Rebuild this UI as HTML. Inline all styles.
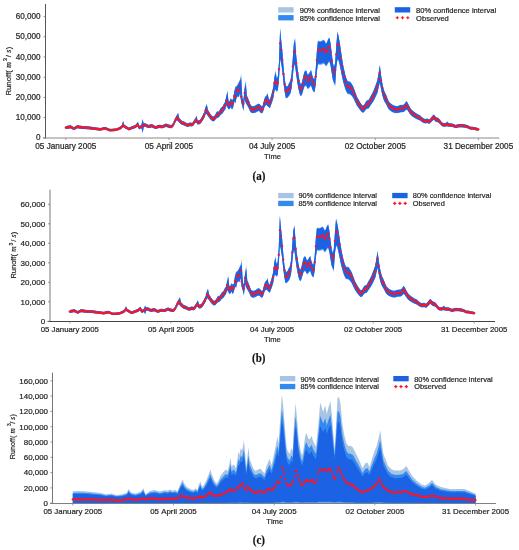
<!DOCTYPE html>
<html><head><meta charset="utf-8"><title>Runoff confidence intervals</title>
<style>
html,body{margin:0;padding:0;background:#fff;width:519px;height:550px;overflow:hidden;}
svg{display:block;filter:blur(0.35px)}
text{font-family:"Liberation Sans",sans-serif;font-variant-ligatures:none;font-kerning:none;stroke:#262626;stroke-width:0.2px;}
</style></head><body>
<svg width="519" height="550" viewBox="0 0 519 550">
<rect width="519" height="550" fill="#fff"/>
<path d="M65.8,126.11 L66.95,125.85 L68.09,125.6 L69.24,125.35 L70.38,125.1 L71.53,125.77 L72.68,126.45 L73.82,127.14 L74.97,126.53 L76.11,125.82 L77.26,125.12 L78.41,125.26 L79.55,125.44 L80.7,125.61 L81.85,125.78 L82.99,125.96 L84.14,126.03 L85.28,126.1 L86.43,126.16 L87.58,126.23 L88.72,126.29 L89.87,126.45 L91.01,126.62 L92.16,126.8 L93.31,126.97 L94.45,127.15 L95.6,127.3 L96.75,127.46 L97.89,127.61 L99.04,127.76 L100.18,127.91 L101.33,127.74 L102.48,127.43 L103.62,127.13 L104.77,126.83 L105.91,127.11 L107.06,127.63 L108.21,128.16 L109.35,128.68 L110.5,128.79 L111.64,128.72 L112.79,128.66 L113.94,128.59 L115.08,128.53 L116.23,128.24 L117.38,127.82 L118.52,127.39 L119.67,126.78 L120.81,126.18 L121.96,124.8 L123.11,120.6 L124.25,124.68 L125.4,125.37 L126.54,126.05 L127.69,126.81 L128.84,127.58 L129.98,127.13 L131.13,126.61 L132.27,126.1 L133.42,125.63 L134.57,125.16 L135.71,124.69 L136.86,123.22 L138,121.4 L139.15,125.77 L140.3,125.44 L141.44,124.7 L142.59,118.3 L143.74,123.57 L144.88,123.1 L146.03,123.51 L147.17,124.14 L148.32,124.77 L149.47,124.6 L150.61,124.28 L151.76,123.95 L152.9,124.45 L154.05,125.17 L155.2,125.89 L156.34,125.73 L157.49,125.25 L158.63,124.77 L159.78,124.76 L160.93,124.91 L162.07,125.05 L163.22,124.68 L164.37,124.11 L165.51,123.53 L166.66,123.63 L167.8,124.07 L168.95,124.52 L170.1,124.8 L171.24,125.01 L172.39,124.04 L173.53,122.25 L174.68,119.29 L175.83,116.77 L176.97,114.85 L178.12,112.2 L179.26,118.01 L180.41,119.22 L181.56,120.43 L182.7,120.93 L183.85,121.41 L185,121.98 L186.14,122.65 L187.29,123.33 L188.43,122.95 L189.58,122.56 L190.73,122.49 L191.87,122.82 L193.02,122.09 L194.16,120.05 L195.31,118.31 L196.46,115.3 L197.6,120.29 L198.75,120.19 L199.89,119.87 L201.04,118.24 L202.19,116.32 L203.33,113.91 L204.48,111.39 L205.63,106.65 L206.77,103.3 L207.92,109.73 L209.06,111.69 L210.21,113.61 L211.36,115.04 L212.5,116.3 L213.65,116.29 L214.79,115.41 L215.94,113.26 L217.09,111 L218.23,111.75 L219.38,110.26 L220.52,108.34 L221.67,107.17 L222.82,106.01 L223.96,103.42 L225.11,101.69 L226.26,96.23 L227.4,89.6 L228.55,101.22 L229.69,100.69 L230.84,98.17 L231.99,99.65 L233.13,98.94 L234.28,91.15 L235.42,85.5 L236.57,86.07 L237.72,84.35 L238.86,81.5 L240.01,79.77 L241.15,73 L242.3,96.94 L243.45,99.9 L244.59,87.83 L245.74,79.5 L246.89,95.36 L248.03,97.88 L249.18,100.78 L250.32,104.38 L251.47,105.68 L252.62,106.06 L253.76,106.06 L254.91,105.56 L256.05,104.92 L257.2,103.97 L258.35,103.44 L259.49,103.86 L260.64,105.12 L261.78,106.38 L262.93,104.83 L264.08,99.65 L265.22,96.52 L266.37,95.62 L267.52,92.5 L268.66,98.38 L269.81,99.77 L270.95,95.91 L272.1,91.71 L273.25,86.96 L274.39,76.98 L275.54,70.1 L276.68,78.03 L277.83,76.31 L278.98,61.62 L280.12,27 L281.27,40.53 L282.41,51.49 L283.56,66.93 L284.71,78.82 L285.85,85.48 L287,86.48 L288.15,85.08 L289.29,82.2 L290.44,80.4 L291.58,73.81 L292.73,58.78 L293.88,42.84 L295.02,37.3 L296.17,54.76 L297.31,65.94 L298.46,74.32 L299.61,80.89 L300.75,84.27 L301.9,82.34 L303.05,77.15 L304.19,72.02 L305.34,70.21 L306.48,70.72 L307.63,74.58 L308.78,73.58 L309.92,71.71 L311.07,69.82 L312.21,74.74 L313.36,77.98 L314.51,78.83 L315.65,69.76 L316.8,51.76 L317.94,40.5 L319.09,40.8 L320.24,40.94 L321.38,40.68 L322.53,40.05 L323.68,39.38 L324.82,40.82 L325.97,43.32 L327.11,41.54 L328.26,38.39 L329.41,37.09 L330.55,42.84 L331.7,52.62 L332.84,62.32 L333.99,66.56 L335.14,62.8 L336.28,45.45 L337.43,30.5 L338.57,35.47 L339.72,41.9 L340.87,49.73 L342.01,57.81 L343.16,64.89 L344.31,70.19 L345.45,75.19 L346.6,78.67 L347.74,81.09 L348.89,81.09 L350.04,81.4 L351.18,82.85 L352.33,84.66 L353.47,86.91 L354.62,90.06 L355.77,93.26 L356.91,96.37 L358.06,98.47 L359.2,100.57 L360.35,102.44 L361.5,104.19 L362.64,105.45 L363.79,105.09 L364.94,103.2 L366.08,101.31 L367.23,100.12 L368.37,100.12 L369.52,98.21 L370.67,95.88 L371.81,93.92 L372.96,91.64 L374.1,89.11 L375.25,85.96 L376.4,82.76 L377.54,79.39 L378.69,72.02 L379.83,64.5 L380.98,74.36 L382.13,81.92 L383.27,87.32 L384.42,91.17 L385.56,93.38 L386.71,96.05 L387.86,99.27 L389,101.45 L390.15,102.71 L391.3,103.81 L392.44,104.61 L393.59,105.17 L394.73,105.63 L395.88,105.9 L397.03,105.97 L398.17,105.7 L399.32,105.29 L400.46,104.85 L401.61,104.85 L402.76,104.73 L403.9,104.33 L405.05,103.11 L406.19,100.8 L407.34,102.07 L408.49,104.4 L409.63,106.58 L410.78,108.57 L411.93,109.83 L413.07,110.89 L414.22,111.76 L415.36,112.62 L416.51,113.44 L417.66,114.07 L418.8,114.69 L419.95,115.28 L421.09,116.31 L422.24,117.46 L423.39,118.19 L424.53,118.8 L425.68,118.86 L426.82,118.56 L427.97,118.71 L429.12,119.51 L430.26,118.53 L431.41,116.96 L432.56,115.57 L433.7,114.31 L434.85,115.72 L435.99,117.04 L437.14,117.4 L438.29,117.82 L439.43,119.08 L440.58,120.54 L441.72,122.2 L442.87,122.75 L444.02,123.11 L445.16,122.99 L446.31,122.64 L447.45,121.3 L448.6,122.98 L449.75,123.25 L450.89,123.33 L452.04,123.41 L453.19,123.71 L454.33,124.24 L455.48,124.77 L456.62,124.58 L457.77,124.21 L458.92,123.88 L460.06,123.88 L461.21,123.88 L462.35,123.93 L463.5,124.1 L464.65,124.26 L465.79,124.55 L466.94,124.91 L468.08,125.28 L469.23,126.03 L470.38,126.63 L471.52,126.63 L472.67,126.65 L473.82,126.95 L474.96,127.26 L476.11,127.5 L477.25,127.73 L478.4,127.96 L478.4,130.7 L477.25,130.52 L476.11,130.33 L474.96,130.13 L473.82,129.89 L472.67,129.65 L471.52,129.63 L470.38,129.63 L469.23,129.15 L468.08,128.54 L466.94,128.25 L465.79,127.95 L464.65,127.72 L463.5,127.59 L462.35,127.46 L461.21,127.42 L460.06,127.42 L458.92,127.42 L457.77,127.69 L456.62,127.98 L455.48,128.13 L454.33,127.71 L453.19,127.29 L452.04,127.04 L450.89,126.98 L449.75,126.91 L448.6,126.7 L447.45,126.41 L446.31,126.42 L445.16,126.71 L444.02,126.8 L442.87,126.52 L441.72,126.07 L440.58,124.75 L439.43,123.58 L438.29,122.58 L437.14,122.25 L435.99,121.97 L434.85,120.92 L433.7,119.8 L432.56,120.8 L431.41,121.9 L430.26,123.14 L429.12,123.93 L427.97,123.29 L426.82,123.17 L425.68,123.41 L424.53,123.36 L423.39,122.88 L422.24,122.3 L421.09,121.39 L419.95,120.57 L418.8,120.1 L417.66,119.61 L416.51,119.11 L415.36,118.47 L414.22,117.79 L413.07,117.11 L411.93,116.28 L410.78,115.29 L409.63,113.73 L408.49,112.04 L407.34,110.22 L406.19,109.74 L405.05,111.03 L403.9,111.98 L402.76,112.29 L401.61,112.39 L400.46,112.39 L399.32,112.73 L398.17,113.04 L397.03,113.25 L395.88,113.2 L394.73,112.99 L393.59,112.63 L392.44,112.19 L391.3,111.57 L390.15,110.72 L389,109.74 L387.86,108.05 L386.71,105.58 L385.56,103.54 L384.42,101.85 L383.27,98.92 L382.13,94.86 L380.98,89.22 L379.83,83.02 L378.69,87.49 L377.54,92.96 L376.4,95.49 L375.25,97.9 L374.1,100.28 L372.96,102.2 L371.81,103.95 L370.67,105.45 L369.52,107.24 L368.37,108.72 L367.23,108.72 L366.08,109.63 L364.94,111.1 L363.79,112.57 L362.64,112.85 L361.5,111.87 L360.35,110.51 L359.2,109.06 L358.06,107.44 L356.91,105.83 L355.77,103.44 L354.62,101 L353.47,98.61 L352.33,96.92 L351.18,95.55 L350.04,94.65 L348.89,94.24 L347.74,94.24 L346.6,92.42 L345.45,89.84 L344.31,86.14 L343.16,82.25 L342.01,77.12 L340.87,71.33 L339.72,65.81 L338.57,61.33 L337.43,60.59 L336.28,68.31 L335.14,87.1 L333.99,83.47 L332.84,80.38 L331.7,73.4 L330.55,66.47 L329.41,62.45 L328.26,63.35 L327.11,65.56 L325.97,66.81 L324.82,65.06 L323.68,64.05 L322.53,64.51 L321.38,64.95 L320.24,65.14 L319.09,65.04 L317.94,64.9 L316.8,72.78 L315.65,85.82 L314.51,92.54 L313.36,91.91 L312.21,89.5 L311.07,85.86 L309.92,87.26 L308.78,88.64 L307.63,89.38 L306.48,86.53 L305.34,86.15 L304.19,87.49 L303.05,91.29 L301.9,95.17 L300.75,96.62 L299.61,94.08 L298.46,89.19 L297.31,83.02 L296.17,74.93 L295.02,65.98 L293.88,66.47 L292.73,77.82 L291.58,88.81 L290.44,93.71 L289.29,95.78 L288.15,97.23 L287,98.29 L285.85,98.6 L284.71,92.54 L283.56,83.75 L282.41,72.59 L281.27,64.85 L280.12,59.87 L278.98,79.87 L277.83,90.66 L276.68,91.95 L275.54,89.98 L274.39,91.16 L273.25,98.65 L272.1,102.26 L270.95,105.47 L269.81,108.44 L268.66,107.37 L267.52,106.27 L266.37,105.25 L265.22,105.94 L264.08,108.35 L262.93,112.37 L261.78,113.57 L260.64,113 L259.49,111.61 L258.35,111.29 L257.2,111.7 L256.05,112.44 L254.91,112.94 L253.76,113.33 L252.62,113.33 L251.47,113.03 L250.32,112.02 L249.18,109.22 L248.03,106.99 L246.89,105.05 L245.74,103.12 L244.59,99.31 L243.45,111.5 L242.3,106.26 L241.15,102.4 L240.01,93.24 L238.86,97.55 L237.72,96.68 L236.57,97.98 L235.42,103.34 L234.28,101.83 L233.13,107.8 L231.99,110 L230.84,107.21 L229.69,109.15 L228.55,109.56 L227.4,107.49 L226.26,105.72 L225.11,109.93 L223.96,111.27 L222.82,113.29 L221.67,114.19 L220.52,115.11 L219.38,116.61 L218.23,117.78 L217.09,118.24 L215.94,118.97 L214.79,120.67 L213.65,121.37 L212.5,121.37 L211.36,120.38 L210.21,119.25 L209.06,117.74 L207.92,116.19 L206.77,114.55 L205.63,113.78 L204.48,117.5 L203.33,119.49 L202.19,121.39 L201.04,122.92 L199.89,124.21 L198.75,124.47 L197.6,124.55 L196.46,122.84 L195.31,122.97 L194.16,124.36 L193.02,125.98 L191.87,126.57 L190.73,126.31 L189.58,126.36 L188.43,126.67 L187.29,126.98 L186.14,126.44 L185,125.9 L183.85,125.44 L182.7,125.06 L181.56,124.66 L180.41,123.7 L179.26,122.74 L178.12,121.49 L176.97,120.23 L175.83,121.75 L174.68,123.75 L173.53,126.12 L172.39,127.55 L171.24,128.33 L170.1,128.16 L168.95,127.93 L167.8,127.57 L166.66,127.22 L165.51,127.14 L164.37,127.6 L163.22,128.06 L162.07,128.36 L160.93,128.25 L159.78,128.13 L158.63,128.13 L157.49,128.52 L156.34,128.9 L155.2,129.04 L154.05,128.46 L152.9,127.88 L151.76,127.48 L150.61,127.74 L149.47,128 L148.32,128.14 L147.17,127.63 L146.03,127.13 L144.88,126.79 L143.74,127.17 L142.59,134.1 L141.44,128.08 L140.3,128.67 L139.15,129.5 L138,127.03 L136.86,126.89 L135.71,128.07 L134.57,128.45 L133.42,128.82 L132.27,129.2 L131.13,129.62 L129.98,130.04 L128.84,130.4 L127.69,129.78 L126.54,129.16 L125.4,128.61 L124.25,128.07 L123.11,126.93 L121.96,128.16 L120.81,129.26 L119.67,129.75 L118.52,130.24 L117.38,130.59 L116.23,130.92 L115.08,131.16 L113.94,131.21 L112.79,131.26 L111.64,131.32 L110.5,131.37 L109.35,131.28 L108.21,130.86 L107.06,130.44 L105.91,130.02 L104.77,129.79 L103.62,130.03 L102.48,130.28 L101.33,130.52 L100.18,130.66 L99.04,130.54 L97.89,130.42 L96.75,130.29 L95.6,130.17 L94.45,130.05 L93.31,129.91 L92.16,129.77 L91.01,129.63 L89.87,129.49 L88.72,129.36 L87.58,129.31 L86.43,129.25 L85.28,129.2 L84.14,129.15 L82.99,129.09 L81.85,128.95 L80.7,128.81 L79.55,128.67 L78.41,128.53 L77.26,128.41 L76.11,128.98 L74.97,129.55 L73.82,130.04 L72.68,129.49 L71.53,128.94 L70.38,128.4 L69.24,128.6 L68.09,128.8 L66.95,129 L65.8,129.21Z" fill="#a8c4e4"/>
<path d="M65.8,126.2 L66.95,125.95 L68.09,125.7 L69.24,125.45 L70.38,125.2 L71.53,125.87 L72.68,126.55 L73.82,127.23 L74.97,126.62 L76.11,125.92 L77.26,125.22 L78.41,125.36 L79.55,125.54 L80.7,125.71 L81.85,125.88 L82.99,126.06 L84.14,126.13 L85.28,126.2 L86.43,126.26 L87.58,126.32 L88.72,126.39 L89.87,126.55 L91.01,126.72 L92.16,126.89 L93.31,127.06 L94.45,127.24 L95.6,127.39 L96.75,127.54 L97.89,127.7 L99.04,127.85 L100.18,128 L101.33,127.82 L102.48,127.52 L103.62,127.22 L104.77,126.92 L105.91,127.21 L107.06,127.72 L108.21,128.24 L109.35,128.76 L110.5,128.87 L111.64,128.81 L112.79,128.74 L113.94,128.68 L115.08,128.61 L116.23,128.32 L117.38,127.9 L118.52,127.48 L119.67,126.88 L120.81,126.27 L121.96,124.9 L123.11,121.11 L124.25,124.79 L125.4,125.47 L126.54,126.15 L127.69,126.91 L128.84,127.67 L129.98,127.23 L131.13,126.71 L132.27,126.19 L133.42,125.73 L134.57,125.26 L135.71,124.79 L136.86,123.33 L138,121.81 L139.15,125.87 L140.3,125.54 L141.44,124.81 L142.59,119.27 L143.74,123.68 L144.88,123.21 L146.03,123.63 L147.17,124.25 L148.32,124.88 L149.47,124.71 L150.61,124.38 L151.76,124.06 L152.9,124.56 L154.05,125.27 L155.2,125.99 L156.34,125.83 L157.49,125.35 L158.63,124.87 L159.78,124.87 L160.93,125.01 L162.07,125.16 L163.22,124.79 L164.37,124.21 L165.51,123.64 L166.66,123.74 L167.8,124.18 L168.95,124.62 L170.1,124.9 L171.24,125.11 L172.39,124.15 L173.53,122.37 L174.68,119.42 L175.83,116.92 L176.97,115.01 L178.12,112.99 L179.26,118.15 L180.41,119.36 L181.56,120.56 L182.7,121.06 L183.85,121.54 L185,122.1 L186.14,122.77 L187.29,123.44 L188.43,123.06 L189.58,122.67 L190.73,122.61 L191.87,122.94 L193.02,122.2 L194.16,120.18 L195.31,118.45 L196.46,115.87 L197.6,120.42 L198.75,120.31 L199.89,120 L201.04,118.38 L202.19,116.47 L203.33,114.07 L204.48,111.57 L205.63,106.85 L206.77,104.15 L207.92,109.91 L209.06,111.87 L210.21,113.77 L211.36,115.19 L212.5,116.45 L213.65,116.45 L214.79,115.57 L215.94,113.43 L217.09,111.37 L218.23,111.92 L219.38,110.44 L220.52,108.54 L221.67,107.37 L222.82,106.22 L223.96,103.64 L225.11,101.92 L226.26,96.49 L227.4,91.19 L228.55,101.45 L229.69,100.92 L230.84,98.42 L231.99,99.9 L233.13,99.18 L234.28,91.44 L235.42,86.92 L236.57,86.39 L237.72,84.67 L238.86,82.42 L240.01,80.12 L241.15,76.12 L242.3,97.19 L243.45,100.14 L244.59,88.13 L245.74,81.78 L246.89,95.63 L248.03,98.13 L249.18,101.01 L250.32,104.6 L251.47,105.88 L252.62,106.27 L253.76,106.27 L254.91,105.77 L256.05,105.13 L257.2,104.19 L258.35,103.66 L259.49,104.08 L260.64,105.33 L261.78,106.58 L262.93,105.05 L264.08,99.89 L265.22,96.78 L266.37,95.88 L267.52,93.42 L268.66,98.63 L269.81,100.01 L270.95,96.17 L272.1,91.99 L273.25,87.27 L274.39,77.35 L275.54,71.27 L276.68,78.39 L277.83,76.67 L278.98,62.06 L280.12,28.56 L281.27,41.09 L282.41,51.99 L283.56,67.35 L284.71,79.18 L285.85,85.8 L287,86.8 L288.15,85.4 L289.29,82.67 L290.44,80.74 L291.58,74.19 L292.73,59.24 L293.88,43.39 L295.02,38.58 L296.17,55.24 L297.31,66.37 L298.46,74.7 L299.61,81.23 L300.75,84.6 L301.9,82.67 L303.05,77.51 L304.19,72.42 L305.34,70.61 L306.48,71.12 L307.63,74.96 L308.78,73.96 L309.92,72.1 L311.07,70.22 L312.21,75.12 L313.36,78.34 L314.51,79.18 L315.65,70.17 L316.8,52.26 L317.94,41.08 L319.09,41.36 L320.24,41.51 L321.38,41.24 L322.53,40.61 L323.68,39.95 L324.82,41.39 L325.97,43.87 L327.11,42.1 L328.26,38.96 L329.41,37.67 L330.55,43.39 L331.7,53.12 L332.84,62.76 L333.99,66.98 L335.14,63.25 L336.28,45.99 L337.43,31.68 L338.57,36.06 L339.72,42.46 L340.87,50.24 L342.01,58.28 L343.16,65.32 L344.31,70.59 L345.45,75.57 L346.6,79.02 L347.74,81.44 L348.89,81.44 L350.04,81.78 L351.18,83.18 L352.33,84.98 L353.47,87.22 L354.62,90.35 L355.77,93.53 L356.91,96.63 L358.06,98.72 L359.2,100.81 L360.35,102.67 L361.5,104.41 L362.64,105.66 L363.79,105.3 L364.94,103.42 L366.08,101.54 L367.23,100.36 L368.37,100.36 L369.52,98.46 L370.67,96.14 L371.81,94.19 L372.96,91.92 L374.1,89.41 L375.25,86.28 L376.4,83.09 L377.54,79.74 L378.69,72.41 L379.83,65.14 L380.98,74.74 L382.13,82.26 L383.27,87.63 L384.42,91.45 L385.56,93.66 L386.71,96.31 L387.86,99.51 L389,101.68 L390.15,102.93 L391.3,104.03 L392.44,104.82 L393.59,105.38 L394.73,105.84 L395.88,106.1 L397.03,106.17 L398.17,105.91 L399.32,105.5 L400.46,105.07 L401.61,105.07 L402.76,104.94 L403.9,104.55 L405.05,103.33 L406.19,101.13 L407.34,102.3 L408.49,104.62 L409.63,106.79 L410.78,108.76 L411.93,110.02 L413.07,111.07 L414.22,111.93 L415.36,112.79 L416.51,113.61 L417.66,114.23 L418.8,114.84 L419.95,115.44 L421.09,116.46 L422.24,117.61 L423.39,118.33 L424.53,118.93 L425.68,119 L426.82,118.7 L427.97,118.85 L429.12,119.64 L430.26,118.66 L431.41,117.11 L432.56,115.73 L433.7,114.47 L434.85,115.87 L435.99,117.19 L437.14,117.54 L438.29,117.96 L439.43,119.21 L440.58,120.67 L441.72,122.32 L442.87,122.87 L444.02,123.22 L445.16,123.1 L446.31,122.75 L447.45,121.61 L448.6,123.09 L449.75,123.36 L450.89,123.44 L452.04,123.52 L453.19,123.82 L454.33,124.35 L455.48,124.88 L456.62,124.68 L457.77,124.32 L458.92,123.99 L460.06,123.99 L461.21,123.99 L462.35,124.04 L463.5,124.2 L464.65,124.37 L465.79,124.65 L466.94,125.01 L468.08,125.38 L469.23,126.13 L470.38,126.73 L471.52,126.73 L472.67,126.75 L473.82,127.05 L474.96,127.35 L476.11,127.59 L477.25,127.82 L478.4,128.05 L478.4,130.63 L477.25,130.44 L476.11,130.25 L474.96,130.05 L473.82,129.81 L472.67,129.56 L471.52,129.55 L470.38,129.55 L469.23,129.06 L468.08,128.45 L466.94,128.15 L465.79,127.85 L464.65,127.62 L463.5,127.49 L462.35,127.36 L461.21,127.32 L460.06,127.32 L458.92,127.32 L457.77,127.59 L456.62,127.88 L455.48,128.04 L454.33,127.61 L453.19,127.18 L452.04,126.93 L450.89,126.87 L449.75,126.81 L448.6,126.59 L447.45,126.3 L446.31,126.31 L445.16,126.6 L444.02,126.69 L442.87,126.41 L441.72,125.96 L440.58,124.62 L439.43,123.45 L438.29,122.44 L437.14,122.1 L435.99,121.82 L434.85,120.76 L433.7,119.64 L432.56,120.64 L431.41,121.75 L430.26,123.01 L429.12,123.79 L427.97,123.15 L426.82,123.03 L425.68,123.28 L424.53,123.22 L423.39,122.74 L422.24,122.15 L421.09,121.23 L419.95,120.41 L418.8,119.93 L417.66,119.44 L416.51,118.94 L415.36,118.29 L414.22,117.6 L413.07,116.92 L411.93,116.08 L410.78,115.08 L409.63,113.51 L408.49,111.79 L407.34,109.96 L406.19,109.48 L405.05,110.78 L403.9,111.74 L402.76,112.05 L401.61,112.15 L400.46,112.15 L399.32,112.49 L398.17,112.81 L397.03,113.02 L395.88,112.97 L394.73,112.76 L393.59,112.4 L392.44,111.95 L391.3,111.33 L390.15,110.46 L389,109.47 L387.86,107.77 L386.71,105.27 L385.56,103.2 L384.42,101.49 L383.27,98.54 L382.13,94.42 L380.98,88.71 L379.83,82.42 L378.69,86.95 L377.54,92.5 L376.4,95.06 L375.25,97.5 L374.1,99.91 L372.96,101.85 L371.81,103.62 L370.67,105.14 L369.52,106.95 L368.37,108.44 L367.23,108.44 L366.08,109.37 L364.94,110.85 L363.79,112.33 L362.64,112.62 L361.5,111.63 L360.35,110.25 L359.2,108.79 L358.06,107.15 L356.91,105.52 L355.77,103.11 L354.62,100.64 L353.47,98.22 L352.33,96.5 L351.18,95.12 L350.04,94.21 L348.89,93.79 L347.74,93.79 L346.6,91.95 L345.45,89.33 L344.31,85.58 L343.16,81.64 L342.01,76.43 L340.87,70.55 L339.72,64.93 L338.57,60.37 L337.43,59.62 L336.28,67.47 L335.14,85.51 L333.99,82.88 L332.84,79.74 L331.7,72.65 L330.55,65.6 L329.41,61.51 L328.26,62.43 L327.11,64.68 L325.97,65.95 L324.82,64.16 L323.68,63.14 L322.53,63.61 L321.38,64.06 L320.24,64.25 L319.09,64.15 L317.94,64.01 L316.8,72.02 L315.65,85.26 L314.51,92.07 L313.36,91.43 L312.21,88.99 L311.07,85.3 L309.92,86.72 L308.78,88.12 L307.63,88.87 L306.48,85.98 L305.34,85.6 L304.19,86.95 L303.05,90.8 L301.9,94.73 L300.75,96.21 L299.61,93.64 L298.46,88.68 L297.31,82.42 L296.17,74.2 L295.02,65.1 L293.88,65.6 L292.73,77.14 L291.58,88.29 L290.44,93.26 L289.29,95.35 L288.15,96.82 L287,97.9 L285.85,98.04 L284.71,92.07 L283.56,83.16 L282.41,71.83 L281.27,63.95 L280.12,58.88 L278.98,79.23 L277.83,90.17 L276.68,91.47 L275.54,89.48 L274.39,90.68 L273.25,98.26 L272.1,101.91 L270.95,105.16 L269.81,108.16 L268.66,107.08 L267.52,105.97 L266.37,104.93 L265.22,105.64 L264.08,108.07 L262.93,112.13 L261.78,113.35 L260.64,112.7 L259.49,111.37 L258.35,111.04 L257.2,111.45 L256.05,112.2 L254.91,112.71 L253.76,113.1 L252.62,113.1 L251.47,112.79 L250.32,111.78 L249.18,108.95 L248.03,106.69 L246.89,104.74 L245.74,102.78 L244.59,98.92 L243.45,110.78 L242.3,105.96 L241.15,102.05 L240.01,92.78 L238.86,97.15 L237.72,96.27 L236.57,97.58 L235.42,103 L234.28,101.48 L233.13,107.52 L231.99,109.47 L230.84,106.91 L229.69,108.88 L228.55,109.3 L227.4,107.2 L226.26,105.41 L225.11,109.67 L223.96,111.02 L222.82,113.06 L221.67,113.97 L220.52,114.9 L219.38,116.41 L218.23,117.6 L217.09,118.06 L215.94,118.8 L214.79,120.51 L213.65,121.22 L212.5,121.22 L211.36,120.21 L210.21,119.07 L209.06,117.55 L207.92,115.99 L206.77,114.33 L205.63,113.56 L204.48,117.31 L203.33,119.32 L202.19,121.24 L201.04,122.77 L199.89,124.08 L198.75,124.34 L197.6,124.42 L196.46,122.7 L195.31,122.83 L194.16,124.23 L193.02,125.87 L191.87,126.46 L190.73,126.2 L189.58,126.25 L188.43,126.56 L187.29,126.87 L186.14,126.32 L185,125.78 L183.85,125.33 L182.7,124.94 L181.56,124.53 L180.41,123.56 L179.26,122.59 L178.12,121.34 L176.97,120.07 L175.83,121.6 L174.68,123.62 L173.53,126 L172.39,127.45 L171.24,128.23 L170.1,128.06 L168.95,127.83 L167.8,127.47 L166.66,127.11 L165.51,127.03 L164.37,127.5 L163.22,127.96 L162.07,128.26 L160.93,128.15 L159.78,128.03 L158.63,128.03 L157.49,128.42 L156.34,128.81 L155.2,128.95 L154.05,128.36 L152.9,127.78 L151.76,127.37 L150.61,127.64 L149.47,127.9 L148.32,128.04 L147.17,127.53 L146.03,127.02 L144.88,126.68 L143.74,127.07 L142.59,133.02 L141.44,127.98 L140.3,128.58 L139.15,129.32 L138,126.92 L136.86,126.78 L135.71,127.97 L134.57,128.35 L133.42,128.73 L132.27,129.11 L131.13,129.53 L129.98,129.95 L128.84,130.32 L127.69,129.69 L126.54,129.07 L125.4,128.52 L124.25,127.97 L123.11,126.82 L121.96,128.06 L120.81,129.17 L119.67,129.67 L118.52,130.16 L117.38,130.51 L116.23,130.85 L115.08,131.09 L113.94,131.14 L112.79,131.19 L111.64,131.24 L110.5,131.3 L109.35,131.21 L108.21,130.78 L107.06,130.36 L105.91,129.94 L104.77,129.71 L103.62,129.95 L102.48,130.2 L101.33,130.44 L100.18,130.58 L99.04,130.46 L97.89,130.34 L96.75,130.21 L95.6,130.09 L94.45,129.96 L93.31,129.82 L92.16,129.68 L91.01,129.54 L89.87,129.4 L88.72,129.27 L87.58,129.22 L86.43,129.16 L85.28,129.11 L84.14,129.06 L82.99,129 L81.85,128.86 L80.7,128.72 L79.55,128.58 L78.41,128.43 L77.26,128.32 L76.11,128.89 L74.97,129.46 L73.82,129.96 L72.68,129.4 L71.53,128.85 L70.38,128.3 L69.24,128.51 L68.09,128.71 L66.95,128.91 L65.8,129.12Z" fill="#3289f0"/>
<path d="M65.8,126.3 L66.95,126.05 L68.09,125.8 L69.24,125.55 L70.38,125.3 L71.53,125.97 L72.68,126.64 L73.82,127.32 L74.97,126.72 L76.11,126.02 L77.26,125.32 L78.41,125.46 L79.55,125.64 L80.7,125.81 L81.85,125.98 L82.99,126.15 L84.14,126.23 L85.28,126.29 L86.43,126.36 L87.58,126.42 L88.72,126.49 L89.87,126.64 L91.01,126.81 L92.16,126.98 L93.31,127.16 L94.45,127.33 L95.6,127.48 L96.75,127.63 L97.89,127.78 L99.04,127.94 L100.18,128.09 L101.33,127.91 L102.48,127.61 L103.62,127.32 L104.77,127.02 L105.91,127.3 L107.06,127.81 L108.21,128.33 L109.35,128.84 L110.5,128.95 L111.64,128.89 L112.79,128.82 L113.94,128.76 L115.08,128.69 L116.23,128.41 L117.38,127.99 L118.52,127.57 L119.67,126.97 L120.81,126.37 L121.96,125.01 L123.11,121.62 L124.25,124.89 L125.4,125.57 L126.54,126.24 L127.69,127 L128.84,127.76 L129.98,127.32 L131.13,126.8 L132.27,126.29 L133.42,125.83 L134.57,125.36 L135.71,124.9 L136.86,123.44 L138,122.22 L139.15,125.97 L140.3,125.64 L141.44,124.91 L142.59,120.24 L143.74,123.79 L144.88,123.32 L146.03,123.74 L147.17,124.36 L148.32,124.98 L149.47,124.81 L150.61,124.49 L151.76,124.17 L152.9,124.66 L154.05,125.38 L155.2,126.09 L156.34,125.93 L157.49,125.45 L158.63,124.97 L159.78,124.97 L160.93,125.12 L162.07,125.26 L163.22,124.89 L164.37,124.32 L165.51,123.75 L166.66,123.85 L167.8,124.29 L168.95,124.73 L170.1,125.01 L171.24,125.22 L172.39,124.26 L173.53,122.49 L174.68,119.56 L175.83,117.06 L176.97,115.17 L178.12,113.77 L179.26,118.29 L180.41,119.49 L181.56,120.68 L182.7,121.18 L183.85,121.66 L185,122.21 L186.14,122.88 L187.29,123.55 L188.43,123.18 L189.58,122.79 L190.73,122.73 L191.87,123.05 L193.02,122.32 L194.16,120.31 L195.31,118.59 L196.46,116.43 L197.6,120.55 L198.75,120.44 L199.89,120.13 L201.04,118.52 L202.19,116.62 L203.33,114.24 L204.48,111.74 L205.63,107.05 L206.77,104.99 L207.92,110.1 L209.06,112.04 L210.21,113.94 L211.36,115.35 L212.5,116.6 L213.65,116.6 L214.79,115.72 L215.94,113.59 L217.09,111.74 L218.23,112.1 L219.38,110.63 L220.52,108.73 L221.67,107.57 L222.82,106.42 L223.96,103.86 L225.11,102.15 L226.26,96.75 L227.4,92.78 L228.55,101.68 L229.69,101.16 L230.84,98.66 L231.99,100.14 L233.13,99.43 L234.28,91.72 L235.42,88.34 L236.57,86.7 L237.72,85 L238.86,83.34 L240.01,80.47 L241.15,79.24 L242.3,97.45 L243.45,100.38 L244.59,88.44 L245.74,84.06 L246.89,95.89 L248.03,98.39 L249.18,101.25 L250.32,104.81 L251.47,106.09 L252.62,106.48 L253.76,106.48 L254.91,105.98 L256.05,105.34 L257.2,104.41 L258.35,103.88 L259.49,104.3 L260.64,105.54 L261.78,106.79 L262.93,105.26 L264.08,100.13 L265.22,97.04 L266.37,96.14 L267.52,94.35 L268.66,98.87 L269.81,100.25 L270.95,96.43 L272.1,92.27 L273.25,87.58 L274.39,77.71 L275.54,72.43 L276.68,78.75 L277.83,77.04 L278.98,62.51 L280.12,30.11 L281.27,41.66 L282.41,52.49 L283.56,67.77 L284.71,79.53 L285.85,86.12 L287,87.11 L288.15,85.72 L289.29,83.15 L290.44,81.09 L291.58,74.57 L292.73,59.7 L293.88,43.94 L295.02,39.86 L296.17,55.73 L297.31,66.79 L298.46,75.08 L299.61,81.58 L300.75,84.92 L301.9,83.01 L303.05,77.87 L304.19,72.81 L305.34,71.01 L306.48,71.52 L307.63,75.34 L308.78,74.34 L309.92,72.5 L311.07,70.62 L312.21,75.5 L313.36,78.7 L314.51,79.53 L315.65,70.57 L316.8,52.76 L317.94,41.66 L319.09,41.93 L320.24,42.07 L321.38,41.8 L322.53,41.18 L323.68,40.52 L324.82,41.95 L325.97,44.42 L327.11,42.66 L328.26,39.54 L329.41,38.25 L330.55,43.94 L331.7,53.61 L332.84,63.21 L333.99,67.4 L335.14,63.69 L336.28,46.52 L337.43,32.87 L338.57,36.66 L339.72,43.01 L340.87,50.75 L342.01,58.75 L343.16,65.75 L344.31,71 L345.45,75.94 L346.6,79.38 L347.74,81.78 L348.89,81.78 L350.04,82.15 L351.18,83.51 L352.33,85.31 L353.47,87.53 L354.62,90.65 L355.77,93.81 L356.91,96.89 L358.06,98.97 L359.2,101.04 L360.35,102.9 L361.5,104.62 L362.64,105.87 L363.79,105.52 L364.94,103.64 L366.08,101.77 L367.23,100.6 L368.37,100.6 L369.52,98.71 L370.67,96.4 L371.81,94.46 L372.96,92.21 L374.1,89.71 L375.25,86.59 L376.4,83.43 L377.54,80.1 L378.69,72.81 L379.83,65.78 L380.98,75.12 L382.13,82.6 L383.27,87.93 L384.42,91.74 L385.56,93.93 L386.71,96.57 L387.86,99.75 L389,101.91 L390.15,103.16 L391.3,104.25 L392.44,105.03 L393.59,105.6 L394.73,106.05 L395.88,106.31 L397.03,106.38 L398.17,106.12 L399.32,105.71 L400.46,105.28 L401.61,105.28 L402.76,105.16 L403.9,104.76 L405.05,103.55 L406.19,101.46 L407.34,102.53 L408.49,104.83 L409.63,106.99 L410.78,108.96 L411.93,110.2 L413.07,111.25 L414.22,112.11 L415.36,112.96 L416.51,113.77 L417.66,114.39 L418.8,115 L419.95,115.59 L421.09,116.61 L422.24,117.75 L423.39,118.47 L424.53,119.07 L425.68,119.14 L426.82,118.84 L427.97,118.99 L429.12,119.77 L430.26,118.8 L431.41,117.26 L432.56,115.88 L433.7,114.63 L434.85,116.03 L435.99,117.34 L437.14,117.69 L438.29,118.1 L439.43,119.35 L440.58,120.8 L441.72,122.44 L442.87,122.98 L444.02,123.33 L445.16,123.22 L446.31,122.87 L447.45,121.93 L448.6,123.21 L449.75,123.47 L450.89,123.55 L452.04,123.63 L453.19,123.93 L454.33,124.46 L455.48,124.98 L456.62,124.79 L457.77,124.43 L458.92,124.1 L460.06,124.1 L461.21,124.1 L462.35,124.15 L463.5,124.31 L464.65,124.47 L465.79,124.76 L466.94,125.12 L468.08,125.48 L469.23,126.22 L470.38,126.82 L471.52,126.82 L472.67,126.84 L473.82,127.14 L474.96,127.44 L476.11,127.68 L477.25,127.91 L478.4,128.14 L478.4,130.55 L477.25,130.36 L476.11,130.17 L474.96,129.97 L473.82,129.72 L472.67,129.48 L471.52,129.46 L470.38,129.46 L469.23,128.97 L468.08,128.35 L466.94,128.05 L465.79,127.75 L464.65,127.52 L463.5,127.39 L462.35,127.26 L461.21,127.22 L460.06,127.22 L458.92,127.22 L457.77,127.48 L456.62,127.78 L455.48,127.94 L454.33,127.51 L453.19,127.08 L452.04,126.83 L450.89,126.76 L449.75,126.7 L448.6,126.48 L447.45,126.19 L446.31,126.2 L445.16,126.49 L444.02,126.58 L442.87,126.3 L441.72,125.85 L440.58,124.5 L439.43,123.31 L438.29,122.29 L437.14,121.95 L435.99,121.67 L434.85,120.6 L433.7,119.47 L432.56,120.48 L431.41,121.6 L430.26,122.87 L429.12,123.66 L427.97,123.02 L426.82,122.9 L425.68,123.14 L424.53,123.09 L423.39,122.6 L422.24,122.01 L421.09,121.08 L419.95,120.25 L418.8,119.77 L417.66,119.27 L416.51,118.77 L415.36,118.11 L414.22,117.42 L413.07,116.72 L411.93,115.87 L410.78,114.87 L409.63,113.28 L408.49,111.55 L407.34,109.7 L406.19,109.21 L405.05,110.52 L403.9,111.49 L402.76,111.81 L401.61,111.91 L400.46,111.91 L399.32,112.26 L398.17,112.58 L397.03,112.79 L395.88,112.74 L394.73,112.53 L393.59,112.16 L392.44,111.71 L391.3,111.08 L390.15,110.21 L389,109.21 L387.86,107.49 L386.71,104.96 L385.56,102.87 L384.42,101.14 L383.27,98.15 L382.13,93.98 L380.98,88.2 L379.83,81.82 L378.69,86.42 L377.54,92.04 L376.4,94.63 L375.25,97.1 L374.1,99.54 L372.96,101.51 L371.81,103.29 L370.67,104.82 L369.52,106.65 L368.37,108.16 L367.23,108.16 L366.08,109.1 L364.94,110.6 L363.79,112.1 L362.64,112.38 L361.5,111.38 L360.35,110 L359.2,108.52 L358.06,106.86 L356.91,105.21 L355.77,102.77 L354.62,100.28 L353.47,97.83 L352.33,96.09 L351.18,94.69 L350.04,93.77 L348.89,93.34 L347.74,93.34 L346.6,91.48 L345.45,88.83 L344.31,85.03 L343.16,81.03 L342.01,75.74 L340.87,69.77 L339.72,64.05 L338.57,59.41 L337.43,58.64 L336.28,66.64 L335.14,83.92 L333.99,82.29 L332.84,79.1 L331.7,71.9 L330.55,64.74 L329.41,60.57 L328.26,61.51 L327.11,63.79 L325.97,65.09 L324.82,63.27 L323.68,62.23 L322.53,62.71 L321.38,63.17 L320.24,63.36 L319.09,63.26 L317.94,63.11 L316.8,71.26 L315.65,84.71 L314.51,91.6 L313.36,90.96 L312.21,88.48 L311.07,84.75 L309.92,86.18 L308.78,87.6 L307.63,88.36 L306.48,85.43 L305.34,85.04 L304.19,86.42 L303.05,90.32 L301.9,94.3 L300.75,95.79 L299.61,93.19 L298.46,88.16 L297.31,81.82 L296.17,73.48 L295.02,64.23 L293.88,64.74 L292.73,76.46 L291.58,87.77 L290.44,92.81 L289.29,94.93 L288.15,96.42 L287,97.5 L285.85,97.47 L284.71,91.6 L283.56,82.57 L282.41,71.06 L281.27,63.06 L280.12,57.89 L278.98,78.58 L277.83,89.68 L276.68,91 L275.54,88.98 L274.39,90.19 L273.25,97.87 L272.1,101.56 L270.95,104.85 L269.81,107.88 L268.66,106.79 L267.52,105.67 L266.37,104.62 L265.22,105.33 L264.08,107.79 L262.93,111.89 L261.78,113.12 L260.64,112.4 L259.49,111.12 L258.35,110.79 L257.2,111.21 L256.05,111.96 L254.91,112.47 L253.76,112.87 L252.62,112.87 L251.47,112.56 L250.32,111.53 L249.18,108.68 L248.03,106.4 L246.89,104.42 L245.74,102.45 L244.59,98.54 L243.45,110.06 L242.3,105.66 L241.15,101.71 L240.01,92.32 L238.86,96.74 L237.72,95.85 L236.57,97.18 L235.42,102.67 L234.28,101.12 L233.13,107.23 L231.99,108.94 L230.84,106.62 L229.69,108.61 L228.55,109.03 L227.4,106.91 L226.26,105.1 L225.11,109.4 L223.96,110.77 L222.82,112.83 L221.67,113.75 L220.52,114.68 L219.38,116.22 L218.23,117.41 L217.09,117.87 L215.94,118.62 L214.79,120.35 L213.65,121.06 L212.5,121.07 L211.36,120.05 L210.21,118.9 L209.06,117.36 L207.92,115.79 L206.77,114.11 L205.63,113.33 L204.48,117.12 L203.33,119.14 L202.19,121.08 L201.04,122.63 L199.89,123.95 L198.75,124.21 L197.6,124.3 L196.46,122.55 L195.31,122.69 L194.16,124.1 L193.02,125.75 L191.87,126.35 L190.73,126.09 L189.58,126.13 L188.43,126.45 L187.29,126.76 L186.14,126.21 L185,125.66 L183.85,125.21 L182.7,124.82 L181.56,124.41 L180.41,123.43 L179.26,122.45 L178.12,121.18 L176.97,119.9 L175.83,121.45 L174.68,123.48 L173.53,125.89 L172.39,127.35 L171.24,128.13 L170.1,127.96 L168.95,127.73 L167.8,127.37 L166.66,127.01 L165.51,126.93 L164.37,127.4 L163.22,127.87 L162.07,128.17 L160.93,128.05 L159.78,127.93 L158.63,127.93 L157.49,128.33 L156.34,128.72 L155.2,128.86 L154.05,128.27 L152.9,127.68 L151.76,127.27 L150.61,127.54 L149.47,127.8 L148.32,127.94 L147.17,127.43 L146.03,126.91 L144.88,126.57 L143.74,126.96 L142.59,131.93 L141.44,127.88 L140.3,128.49 L139.15,129.15 L138,126.82 L136.86,126.67 L135.71,127.87 L134.57,128.25 L133.42,128.64 L132.27,129.02 L131.13,129.44 L129.98,129.87 L128.84,130.24 L127.69,129.61 L126.54,128.98 L125.4,128.43 L124.25,127.87 L123.11,126.71 L121.96,127.96 L120.81,129.09 L119.67,129.58 L118.52,130.08 L117.38,130.43 L116.23,130.77 L115.08,131.01 L113.94,131.06 L112.79,131.12 L111.64,131.17 L110.5,131.22 L109.35,131.13 L108.21,130.71 L107.06,130.28 L105.91,129.85 L104.77,129.62 L103.62,129.87 L102.48,130.12 L101.33,130.36 L100.18,130.51 L99.04,130.38 L97.89,130.26 L96.75,130.13 L95.6,130.01 L94.45,129.88 L93.31,129.74 L92.16,129.6 L91.01,129.45 L89.87,129.31 L88.72,129.18 L87.58,129.13 L86.43,129.08 L85.28,129.02 L84.14,128.97 L82.99,128.91 L81.85,128.77 L80.7,128.62 L79.55,128.48 L78.41,128.34 L77.26,128.22 L76.11,128.8 L74.97,129.37 L73.82,129.87 L72.68,129.31 L71.53,128.75 L70.38,128.21 L69.24,128.41 L68.09,128.62 L66.95,128.82 L65.8,129.03Z" fill="#1b62e4"/>
<path d="M64.65 127.72h2.3M65.8 126.57v2.3M65.8 127.49h2.3M66.95 126.34v2.3M66.94 127.26h2.3M68.09 126.11v2.3M68.09 127.03h2.3M69.24 125.88v2.3M69.23 126.8h2.3M70.38 125.65v2.3M70.38 127.41h2.3M71.53 126.26v2.3M71.53 128.04h2.3M72.68 126.89v2.3M72.67 128.66h2.3M73.82 127.51v2.3M73.82 128.1h2.3M74.97 126.95v2.3M74.96 127.46h2.3M76.11 126.31v2.3M76.11 126.82h2.3M77.26 125.67v2.3M77.26 126.95h2.3M78.41 125.8v2.3M78.4 127.11h2.3M79.55 125.96v2.3M79.55 127.27h2.3M80.7 126.12v2.3M80.7 127.43h2.3M81.85 126.28v2.3M81.84 127.59h2.3M82.99 126.44v2.3M82.99 127.65h2.3M84.14 126.5v2.3M84.13 127.71h2.3M85.28 126.56v2.3M85.28 127.77h2.3M86.43 126.62v2.3M86.43 127.83h2.3M87.58 126.68v2.3M87.57 127.89h2.3M88.72 126.74v2.3M88.72 128.03h2.3M89.87 126.88v2.3M89.86 128.19h2.3M91.01 127.04v2.3M91.01 128.35h2.3M92.16 127.2v2.3M92.16 128.51h2.3M93.31 127.36v2.3M93.3 128.67h2.3M94.45 127.52v2.3M94.45 128.81h2.3M95.6 127.66v2.3M95.59 128.95h2.3M96.75 127.8v2.3M96.74 129.09h2.3M97.89 127.94v2.3M97.89 129.22h2.3M99.04 128.07v2.3M99.03 129.36h2.3M100.18 128.21v2.3M100.18 129.2h2.3M101.33 128.05v2.3M101.33 128.93h2.3M102.48 127.78v2.3M102.47 128.65h2.3M103.62 127.5v2.3M103.62 128.38h2.3M104.77 127.23v2.3M104.76 128.64h2.3M105.91 127.49v2.3M105.91 129.11h2.3M107.06 127.96v2.3M107.06 129.58h2.3M108.21 128.43v2.3M108.2 130.06h2.3M109.35 128.91v2.3M109.35 130.16h2.3M110.5 129.01v2.3M110.49 130.1h2.3M111.64 128.95v2.3M111.64 130.04h2.3M112.79 128.89v2.3M112.79 129.98h2.3M113.94 128.83v2.3M113.93 129.92h2.3M115.08 128.77v2.3M115.08 129.66h2.3M116.23 128.51v2.3M116.22 129.28h2.3M117.38 128.12v2.3M117.37 128.89h2.3M118.52 127.74v2.3M118.52 128.34h2.3M119.67 127.19v2.3M119.66 127.78h2.3M120.81 126.63v2.3M120.81 126.53h2.3M121.96 125.38v2.3M121.96 125.14h2.3M123.11 123.99v2.3M123.1 126.43h2.3M124.25 125.28v2.3M124.25 127.05h2.3M125.4 125.9v2.3M125.39 127.67h2.3M126.54 126.52v2.3M126.54 128.36h2.3M127.69 127.21v2.3M127.69 129.06h2.3M128.84 127.91v2.3M128.83 128.65h2.3M129.98 127.5v2.3M129.98 128.18h2.3M131.13 127.03v2.3M131.12 127.71h2.3M132.27 126.56v2.3M132.27 127.28h2.3M133.42 126.13v2.3M133.42 126.86h2.3M134.57 125.71v2.3M134.56 126.43h2.3M135.71 125.28v2.3M135.71 125.09h2.3M136.86 123.94v2.3M136.85 125.25h2.3M138 124.1v2.3M138 127.42h2.3M139.15 126.27v2.3M139.15 127.12h2.3M140.3 125.97v2.3M140.29 126.44h2.3M141.44 125.29v2.3M141.44 125.85h2.3M142.59 124.7v2.3M142.59 125.42h2.3M143.74 124.27v2.3M143.73 124.98h2.3M144.88 123.83v2.3M144.88 125.36h2.3M146.03 124.21v2.3M146.02 125.94h2.3M147.17 124.79v2.3M147.17 126.51h2.3M148.32 125.36v2.3M148.32 126.35h2.3M149.47 125.2v2.3M149.46 126.06h2.3M150.61 124.91v2.3M150.61 125.76h2.3M151.76 124.61v2.3M151.75 126.22h2.3M152.9 125.07v2.3M152.9 126.87h2.3M154.05 125.72v2.3M154.05 127.53h2.3M155.2 126.38v2.3M155.19 127.38h2.3M156.34 126.23v2.3M156.34 126.94h2.3M157.49 125.79v2.3M157.48 126.5h2.3M158.63 125.35v2.3M158.63 126.5h2.3M159.78 125.35v2.3M159.78 126.63h2.3M160.93 125.48v2.3M160.92 126.76h2.3M162.07 125.61v2.3M162.07 126.43h2.3M163.22 125.28v2.3M163.22 125.9h2.3M164.37 124.75v2.3M164.36 125.38h2.3M165.51 124.23v2.3M165.51 125.47h2.3M166.66 124.32v2.3M166.65 125.87h2.3M167.8 124.72v2.3M167.8 126.28h2.3M168.95 125.13v2.3M168.95 126.53h2.3M170.1 125.38v2.3M170.09 126.72h2.3M171.24 125.57v2.3M171.24 125.84h2.3M172.39 124.69v2.3M172.38 124.22h2.3M173.53 123.07v2.3M173.53 121.52h2.3M174.68 120.37v2.3M174.68 119.23h2.3M175.83 118.08v2.3M175.82 117.49h2.3M176.97 116.34v2.3M176.97 118.94h2.3M178.12 117.79v2.3M178.11 120.36h2.3M179.26 119.21v2.3M179.26 121.46h2.3M180.41 120.31v2.3M180.41 122.56h2.3M181.56 121.41v2.3M181.55 123.02h2.3M182.7 121.87v2.3M182.7 123.45h2.3M183.85 122.3v2.3M183.85 123.97h2.3M185 122.82v2.3M184.99 124.58h2.3M186.14 123.43v2.3M186.14 125.19h2.3M187.29 124.04v2.3M187.28 124.85h2.3M188.43 123.7v2.3M188.43 124.49h2.3M189.58 123.34v2.3M189.58 124.44h2.3M190.73 123.29v2.3M190.72 124.74h2.3M191.87 123.59v2.3M191.87 124.06h2.3M193.02 122.91v2.3M193.01 122.22h2.3M194.16 121.07v2.3M194.16 120.63h2.3M195.31 119.48v2.3M195.31 120.48h2.3M196.46 119.33v2.3M196.45 122.43h2.3M197.6 121.28v2.3M197.6 122.34h2.3M198.75 121.19v2.3M198.74 122.05h2.3M199.89 120.9v2.3M199.89 120.57h2.3M201.04 119.42v2.3M201.04 118.82h2.3M202.19 117.67v2.3M202.18 116.63h2.3M203.33 115.48v2.3M203.33 114.34h2.3M204.48 113.19v2.3M204.48 110.03h2.3M205.63 108.88v2.3M205.62 110.92h2.3M206.77 109.77v2.3M206.77 112.83h2.3M207.92 111.68v2.3M207.91 114.61h2.3M209.06 113.46v2.3M209.06 116.36h2.3M210.21 115.21v2.3M210.21 117.66h2.3M211.36 116.51v2.3M211.35 118.8h2.3M212.5 117.65v2.3M212.5 118.8h2.3M213.65 117.65v2.3M213.64 118h2.3M214.79 116.85v2.3M214.79 116.04h2.3M215.94 114.89v2.3M215.94 115.19h2.3M217.09 114.04v2.3M217.08 114.67h2.3M218.23 113.52v2.3M218.23 113.31h2.3M219.38 112.16v2.3M219.37 111.57h2.3M220.52 110.42v2.3M220.52 110.5h2.3M221.67 109.35v2.3M221.67 109.45h2.3M222.82 108.3v2.3M222.81 107.09h2.3M223.96 105.94v2.3M223.96 105.53h2.3M225.11 104.38v2.3M225.11 100.56h2.3M226.26 99.41v2.3M226.25 102.66h2.3M227.4 101.51v2.3M227.4 105.1h2.3M228.55 103.95v2.3M228.54 104.61h2.3M229.69 103.46v2.3M229.69 102.32h2.3M230.84 101.17v2.3M230.84 103.67h2.3M231.99 102.52v2.3M231.98 103.02h2.3M233.13 101.87v2.3M233.13 95.94h2.3M234.28 94.79v2.3M234.27 97.74h2.3M235.42 96.59v2.3M235.42 91.32h2.3M236.57 90.17v2.3M236.57 89.76h2.3M237.72 88.61v2.3M237.71 90.81h2.3M238.86 89.66v2.3M238.86 85.59h2.3M240.01 84.44v2.3M240 96.62h2.3M241.15 95.47v2.3M241.15 101.2h2.3M242.3 100.05v2.3M242.3 103.89h2.3M243.45 102.74v2.3M243.44 92.92h2.3M244.59 91.77v2.3M244.59 97.48h2.3M245.74 96.33v2.3M245.74 99.77h2.3M246.89 98.62v2.3M246.88 102.06h2.3M248.03 100.91v2.3M248.03 104.69h2.3M249.18 103.54v2.3M249.17 107.97h2.3M250.32 106.82v2.3M250.32 109.15h2.3M251.47 108v2.3M251.47 109.5h2.3M252.62 108.35v2.3M252.61 109.5h2.3M253.76 108.35v2.3M253.76 109.05h2.3M254.91 107.9v2.3M254.9 108.46h2.3M256.05 107.31v2.3M256.05 107.6h2.3M257.2 106.45v2.3M257.2 107.12h2.3M258.35 105.97v2.3M258.34 107.5h2.3M259.49 106.35v2.3M259.49 108.64h2.3M260.64 107.49v2.3M260.63 109.78h2.3M261.78 108.63v2.3M261.78 108.38h2.3M262.93 107.23v2.3M262.93 103.67h2.3M264.08 102.52v2.3M264.07 100.83h2.3M265.22 99.68v2.3M265.22 100h2.3M266.37 98.85v2.3M266.37 101.22h2.3M267.52 100.07v2.3M267.51 102.51h2.3M268.66 101.36v2.3M268.66 103.78h2.3M269.81 102.63v2.3M269.8 100.27h2.3M270.95 99.12v2.3M270.95 96.45h2.3M272.1 95.3v2.3M272.1 92.13h2.3M273.25 90.98v2.3M273.24 83.06h2.3M274.39 81.91v2.3M274.39 81.62h2.3M275.54 80.47v2.3M275.53 84.02h2.3M276.68 82.87v2.3M276.68 82.45h2.3M277.83 81.3v2.3M277.83 69.09h2.3M278.98 67.94v2.3M278.97 43.41h2.3M280.12 42.26v2.3M280.12 49.92h2.3M281.27 48.77v2.3M281.26 59.88h2.3M282.41 58.73v2.3M282.41 73.92h2.3M283.56 72.77v2.3M283.56 84.73h2.3M284.71 83.58v2.3M284.7 90.79h2.3M285.85 89.64v2.3M285.85 91.7h2.3M287 90.55v2.3M287 90.42h2.3M288.15 89.27v2.3M288.14 88.67h2.3M289.29 87.52v2.3M289.29 86.17h2.3M290.44 85.02v2.3M290.43 80.18h2.3M291.58 79.03v2.3M291.58 66.51h2.3M292.73 65.36v2.3M292.73 52.02h2.3M293.88 50.87v2.3M293.87 51.39h2.3M295.02 50.24v2.3M295.02 62.86h2.3M296.17 61.71v2.3M296.16 73.03h2.3M297.31 71.88v2.3M297.31 80.64h2.3M298.46 79.49v2.3M298.46 86.62h2.3M299.61 85.47v2.3M299.6 89.69h2.3M300.75 88.54v2.3M300.75 87.93h2.3M301.9 86.78v2.3M301.9 83.21h2.3M303.05 82.06v2.3M303.04 78.55h2.3M304.19 77.4v2.3M304.19 76.91h2.3M305.34 75.76v2.3M305.33 77.37h2.3M306.48 76.22v2.3M306.48 80.88h2.3M307.63 79.73v2.3M307.63 79.97h2.3M308.78 78.82v2.3M308.77 78.27h2.3M309.92 77.12v2.3M309.92 76.55h2.3M311.07 75.4v2.3M311.06 81.03h2.3M312.21 79.88v2.3M312.21 83.97h2.3M313.36 82.82v2.3M313.36 84.74h2.3M314.51 83.59v2.3M314.5 76.5h2.3M315.65 75.35v2.3M315.65 60.13h2.3M316.8 58.98v2.3M316.79 49.99h2.3M317.94 48.84v2.3M317.94 50.17h2.3M319.09 49.02v2.3M319.09 50.3h2.3M320.24 49.15v2.3M320.23 50.06h2.3M321.38 48.91v2.3M321.38 49.48h2.3M322.53 48.33v2.3M322.53 48.88h2.3M323.68 47.73v2.3M323.67 50.19h2.3M324.82 49.04v2.3M324.82 52.46h2.3M325.97 51.31v2.3M325.96 50.85h2.3M327.11 49.7v2.3M327.11 47.97h2.3M328.26 46.82v2.3M328.26 46.79h2.3M329.41 45.64v2.3M329.4 52.02h2.3M330.55 50.87v2.3M330.55 60.91h2.3M331.7 59.76v2.3M331.69 69.73h2.3M332.84 68.58v2.3M332.84 73.59h2.3M333.99 72.44v2.3M333.99 70.17h2.3M335.14 69.02v2.3M335.13 54.4h2.3M336.28 53.25v2.3M336.28 44.36h2.3M337.43 43.21v2.3M337.42 45.33h2.3M338.57 44.18v2.3M338.57 51.17h2.3M339.72 50.02v2.3M339.72 58.28h2.3M340.87 57.13v2.3M340.86 65.63h2.3M342.01 64.48v2.3M342.01 72.07h2.3M343.16 70.92v2.3M343.16 76.89h2.3M344.31 75.74v2.3M344.3 81.44h2.3M345.45 80.29v2.3M345.45 84.59h2.3M346.6 83.44v2.3M346.59 86.8h2.3M347.74 85.65v2.3M347.74 86.8h2.3M348.89 85.65v2.3M348.89 87.31h2.3M350.04 86.16v2.3M350.03 88.39h2.3M351.18 87.24v2.3M351.18 90.04h2.3M352.33 88.89v2.3M352.32 92.08h2.3M353.47 90.93v2.3M353.47 94.95h2.3M354.62 93.8v2.3M354.62 97.86h2.3M355.77 96.71v2.3M355.76 100.69h2.3M356.91 99.54v2.3M356.91 102.6h2.3M358.06 101.45v2.3M358.05 104.51h2.3M359.2 103.36v2.3M359.2 106.21h2.3M360.35 105.06v2.3M360.35 107.8h2.3M361.5 106.65v2.3M361.49 108.94h2.3M362.64 107.79v2.3M362.64 108.62h2.3M363.79 107.47v2.3M363.79 106.9h2.3M364.94 105.75v2.3M364.93 105.18h2.3M366.08 104.03v2.3M366.08 104.1h2.3M367.23 102.95v2.3M367.22 104.1h2.3M368.37 102.95v2.3M368.37 102.36h2.3M369.52 101.21v2.3M369.52 100.24h2.3M370.67 99.09v2.3M370.66 98.46h2.3M371.81 97.31v2.3M371.81 96.38h2.3M372.96 95.23v2.3M372.95 94.09h2.3M374.1 92.94v2.3M374.1 91.23h2.3M375.25 90.08v2.3M375.25 88.31h2.3M376.4 87.16v2.3M376.39 85.25h2.3M377.54 84.1v2.3M377.54 78.55h2.3M378.69 77.4v2.3M378.68 73.02h2.3M379.83 71.87v2.3M379.83 80.68h2.3M380.98 79.53v2.3M380.98 87.55h2.3M382.13 86.4v2.3M382.12 92.46h2.3M383.27 91.31v2.3M383.27 95.96h2.3M384.42 94.81v2.3M384.42 97.97h2.3M385.56 96.82v2.3M385.56 100.39h2.3M386.71 99.24v2.3M386.71 103.32h2.3M387.86 102.17v2.3M387.85 105.3h2.3M389 104.15v2.3M389 106.45h2.3M390.15 105.3v2.3M390.15 107.45h2.3M391.3 106.3v2.3M391.29 108.17h2.3M392.44 107.02v2.3M392.44 108.69h2.3M393.59 107.54v2.3M393.58 109.11h2.3M394.73 107.96v2.3M394.73 109.35h2.3M395.88 108.2v2.3M395.88 109.41h2.3M397.03 108.26v2.3M397.02 109.17h2.3M398.17 108.02v2.3M398.17 108.8h2.3M399.32 107.65v2.3M399.31 108.4h2.3M400.46 107.25v2.3M400.46 108.4h2.3M401.61 107.25v2.3M401.61 108.29h2.3M402.76 107.14v2.3M402.75 107.93h2.3M403.9 106.78v2.3M403.9 106.81h2.3M405.05 105.66v2.3M405.05 105.31h2.3M406.19 104.16v2.3M406.19 105.87h2.3M407.34 104.72v2.3M407.34 107.99h2.3M408.49 106.84v2.3M408.48 109.97h2.3M409.63 108.82v2.3M409.63 111.78h2.3M410.78 110.63v2.3M410.78 112.93h2.3M411.93 111.78v2.3M411.92 113.89h2.3M413.07 112.74v2.3M413.07 114.68h2.3M414.22 113.53v2.3M414.21 115.46h2.3M415.36 114.31v2.3M415.36 116.2h2.3M416.51 115.05v2.3M416.51 116.78h2.3M417.66 115.63v2.3M417.65 117.34h2.3M418.8 116.19v2.3M418.8 117.88h2.3M419.95 116.73v2.3M419.94 118.82h2.3M421.09 117.67v2.3M421.09 119.86h2.3M422.24 118.71v2.3M422.24 120.53h2.3M423.39 119.38v2.3M423.38 121.08h2.3M424.53 119.93v2.3M424.53 121.14h2.3M425.68 119.99v2.3M425.68 120.86h2.3M426.82 119.71v2.3M426.82 121h2.3M427.97 119.85v2.3M427.97 121.72h2.3M429.12 120.57v2.3M429.11 120.83h2.3M430.26 119.68v2.3M430.26 119.41h2.3M431.41 118.26v2.3M431.41 118.14h2.3M432.56 116.99v2.3M432.55 117h2.3M433.7 115.85v2.3M433.7 118.28h2.3M434.85 117.13v2.3M434.84 119.48h2.3M435.99 118.33v2.3M435.99 119.8h2.3M437.14 118.65v2.3M437.14 120.19h2.3M438.29 119.04v2.3M438.28 121.33h2.3M439.43 120.18v2.3M439.43 122.66h2.3M440.58 121.51v2.3M440.57 124.17h2.3M441.72 123.02v2.3M441.72 124.67h2.3M442.87 123.52v2.3M442.87 124.99h2.3M444.02 123.84v2.3M444.01 124.89h2.3M445.16 123.74v2.3M445.16 124.57h2.3M446.31 123.42v2.3M446.31 124.56h2.3M447.45 123.41v2.3M447.45 124.88h2.3M448.6 123.73v2.3M448.6 125.12h2.3M449.75 123.97v2.3M449.74 125.19h2.3M450.89 124.04v2.3M450.89 125.26h2.3M452.04 124.11v2.3M452.04 125.55h2.3M453.19 124.4v2.3M453.18 126.03h2.3M454.33 124.88v2.3M454.33 126.51h2.3M455.48 125.36v2.3M455.47 126.33h2.3M456.62 125.18v2.3M456.62 126h2.3M457.77 124.85v2.3M457.77 125.7h2.3M458.92 124.55v2.3M458.91 125.7h2.3M460.06 124.55v2.3M460.06 125.7h2.3M461.21 124.55v2.3M461.2 125.75h2.3M462.35 124.6v2.3M462.35 125.89h2.3M463.5 124.74v2.3M463.5 126.04h2.3M464.65 124.89v2.3M464.64 126.3h2.3M465.79 125.15v2.3M465.79 126.63h2.3M466.94 125.48v2.3M466.94 126.97h2.3M468.08 125.82v2.3M468.08 127.65h2.3M469.23 126.5v2.3M469.23 128.2h2.3M470.38 127.05v2.3M470.37 128.2h2.3M471.52 127.05v2.3M471.52 128.22h2.3M472.67 127.07v2.3M472.67 128.49h2.3M473.82 127.34v2.3M473.81 128.77h2.3M474.96 127.62v2.3M474.96 128.99h2.3M476.11 127.84v2.3M476.1 129.2h2.3M477.25 128.05v2.3M477.25 129.41h2.3M478.4 128.26v2.3" stroke="#fa1428" stroke-width="1.2" fill="none"/>
<line x1="45.5" y1="4" x2="45.5" y2="138.5" stroke="#555" stroke-width="1"/>
<line x1="43.0" y1="138" x2="499.4" y2="138" stroke="#8a8a8a" stroke-width="1"/>
<line x1="43.5" y1="137.8" x2="45.5" y2="137.8" stroke="#777" stroke-width="0.8"/>
<text x="40.6" y="140.4" font-size="8.15" text-anchor="end" fill="#1c1c1c">0</text>
<line x1="43.5" y1="117.6" x2="45.5" y2="117.6" stroke="#777" stroke-width="0.8"/>
<text x="40.6" y="120.2" font-size="8.15" text-anchor="end" fill="#1c1c1c">10,000</text>
<line x1="43.5" y1="97.4" x2="45.5" y2="97.4" stroke="#777" stroke-width="0.8"/>
<text x="40.6" y="100" font-size="8.15" text-anchor="end" fill="#1c1c1c">20,000</text>
<line x1="43.5" y1="77.2" x2="45.5" y2="77.2" stroke="#777" stroke-width="0.8"/>
<text x="40.6" y="79.8" font-size="8.15" text-anchor="end" fill="#1c1c1c">30,000</text>
<line x1="43.5" y1="57" x2="45.5" y2="57" stroke="#777" stroke-width="0.8"/>
<text x="40.6" y="59.6" font-size="8.15" text-anchor="end" fill="#1c1c1c">40,000</text>
<line x1="43.5" y1="36.8" x2="45.5" y2="36.8" stroke="#777" stroke-width="0.8"/>
<text x="40.6" y="39.4" font-size="8.15" text-anchor="end" fill="#1c1c1c">50,000</text>
<line x1="43.5" y1="16.6" x2="45.5" y2="16.6" stroke="#777" stroke-width="0.8"/>
<text x="40.6" y="19.2" font-size="8.15" text-anchor="end" fill="#1c1c1c">60,000</text>
<line x1="65.8" y1="138" x2="65.8" y2="140" stroke="#888" stroke-width="0.8"/>
<text x="65.8" y="148.9" font-size="8.2" text-anchor="middle" fill="#1c1c1c">05 January 2005</text>
<line x1="168.95" y1="138" x2="168.95" y2="140" stroke="#888" stroke-width="0.8"/>
<text x="168.95" y="148.9" font-size="8.2" text-anchor="middle" fill="#1c1c1c">05 April 2005</text>
<line x1="272.1" y1="138" x2="272.1" y2="140" stroke="#888" stroke-width="0.8"/>
<text x="272.1" y="148.9" font-size="8.2" text-anchor="middle" fill="#1c1c1c">04 July 2005</text>
<line x1="375.25" y1="138" x2="375.25" y2="140" stroke="#888" stroke-width="0.8"/>
<text x="375.25" y="148.9" font-size="8.2" text-anchor="middle" fill="#1c1c1c">02 October 2005</text>
<line x1="478.4" y1="138" x2="478.4" y2="140" stroke="#888" stroke-width="0.8"/>
<text x="478.4" y="148.9" font-size="8.2" text-anchor="middle" fill="#1c1c1c">31 December 2005</text>
<text x="272.5" y="158.7" font-size="7.6" text-anchor="middle" fill="#1c1c1c">Time</text>
<text transform="translate(10.9,95.6) rotate(-90)" x="0" font-size="7.8" fill="#1c1c1c" >Runoff(</text>
<text transform="translate(10.9,95.6) rotate(-90)" x="27.9" font-size="7.8" fill="#1c1c1c" style="font-family:Liberation Serif;font-style:italic">m</text>
<text transform="translate(10.9,95.6) rotate(-90)" x="34.6" y="-4.3" font-size="5.2" fill="#1c1c1c">3</text>
<text transform="translate(10.9,95.6) rotate(-90)" x="38.4" font-size="7.8" fill="#1c1c1c" >/</text>
<text transform="translate(10.9,95.6) rotate(-90)" x="42.8" font-size="7.8" fill="#1c1c1c" style="font-family:Liberation Serif;font-style:italic">s</text>
<text transform="translate(10.9,95.6) rotate(-90)" x="46.3" font-size="7.8" fill="#1c1c1c" >)</text>
<rect x="278.2" y="7.2" width="15.4" height="5.3" fill="#a8c4e4"/>
<rect x="278.2" y="15.1" width="15.4" height="5.3" fill="#3289f0"/>
<rect x="394.8" y="7.2" width="15.4" height="5.3" fill="#1b62e4"/>
<path d="M395.7 17.75h3.2M397.3 16.15v3.2" stroke="#fa1428" stroke-width="1.2"/>
<path d="M400.9 17.75h3.2M402.5 16.15v3.2" stroke="#fa1428" stroke-width="1.2"/>
<path d="M406.2 17.75h3.2M407.8 16.15v3.2" stroke="#fa1428" stroke-width="1.2"/>
<text x="299.7" y="12.7" font-size="7.55" fill="#1c1c1c">90% confidence interval</text>
<text x="299.7" y="20.6" font-size="7.55" fill="#1c1c1c">85% confidence interval</text>
<text x="416.1" y="12.7" font-size="7.55" fill="#1c1c1c">80% confidence interval</text>
<text x="416.1" y="20.6" font-size="7.55" fill="#1c1c1c">Observed</text>
<text transform="translate(259,179.6) scale(0.92,1)" font-size="12" style="font-family:Liberation Serif;font-weight:bold" text-anchor="middle" fill="#111">(a)</text>
<path d="M69.8,310.01 L70.92,309.77 L72.05,309.52 L73.17,309.28 L74.29,309.04 L75.42,309.69 L76.54,310.35 L77.66,311.01 L78.79,310.42 L79.91,309.74 L81.03,309.06 L82.16,309.2 L83.28,309.36 L84.4,309.53 L85.53,309.7 L86.65,309.87 L87.77,309.94 L88.9,310 L90.02,310.07 L91.14,310.13 L92.27,310.19 L93.39,310.34 L94.51,310.51 L95.64,310.68 L96.76,310.85 L97.88,311.02 L99.01,311.17 L100.13,311.31 L101.25,311.46 L102.38,311.61 L103.5,311.75 L104.62,311.58 L105.75,311.29 L106.87,311 L107.99,310.71 L109.12,310.98 L110.24,311.49 L111.36,311.99 L112.49,312.49 L113.61,312.6 L114.73,312.54 L115.86,312.47 L116.98,312.41 L118.1,312.35 L119.23,312.07 L120.35,311.66 L121.47,311.25 L122.6,310.67 L123.72,310.08 L124.84,308.75 L125.97,305.98 L127.09,308.64 L128.21,309.3 L129.34,309.96 L130.46,310.69 L131.58,311.44 L132.71,311 L133.83,310.5 L134.95,310 L136.08,309.55 L137.2,309.1 L138.32,308.64 L139.45,307.22 L140.57,306.43 L141.69,309.69 L142.82,309.37 L143.94,308.66 L145.06,305.25 L146.19,307.57 L147.31,307.1 L148.43,307.51 L149.56,308.12 L150.68,308.73 L151.8,308.56 L152.93,308.25 L154.05,307.93 L155.17,308.42 L156.3,309.11 L157.42,309.81 L158.54,309.65 L159.67,309.18 L160.79,308.72 L161.91,308.72 L163.04,308.86 L164.16,308.99 L165.28,308.64 L166.41,308.08 L167.53,307.52 L168.65,307.62 L169.78,308.05 L170.9,308.48 L172.02,308.75 L173.15,308.95 L174.27,308.02 L175.39,306.29 L176.52,303.43 L177.64,301 L178.76,299.15 L179.89,296.59 L181.01,302.2 L182.13,303.36 L183.26,304.53 L184.38,305.02 L185.5,305.48 L186.63,306.02 L187.75,306.68 L188.87,307.33 L190,306.96 L191.12,306.58 L192.24,306.53 L193.37,306.84 L194.49,306.13 L195.61,304.17 L196.74,302.49 L197.86,299.58 L198.98,304.4 L200.11,304.3 L201.23,303.99 L202.35,302.42 L203.48,300.56 L204.6,298.24 L205.72,295.8 L206.85,291.23 L207.97,288 L209.09,294.2 L210.22,296.09 L211.34,297.95 L212.46,299.32 L213.59,300.54 L214.71,300.54 L215.83,299.69 L216.96,297.61 L218.08,295.43 L219.2,296.15 L220.33,294.71 L221.45,292.86 L222.57,291.73 L223.7,290.61 L224.82,288.11 L225.94,286.44 L227.07,281.17 L228.19,274.77 L229.31,285.99 L230.44,285.47 L231.56,283.04 L232.68,284.48 L233.81,283.79 L234.93,276.27 L236.05,270.81 L237.18,271.36 L238.3,269.7 L239.42,266.95 L240.55,265.28 L241.67,258.75 L242.79,281.85 L243.92,284.71 L245.04,273.06 L246.16,265.02 L247.29,280.33 L248.41,282.77 L249.53,285.56 L250.66,289.04 L251.78,290.29 L252.9,290.66 L254.03,290.66 L255.15,290.18 L256.27,289.56 L257.4,288.65 L258.52,288.13 L259.64,288.54 L260.77,289.75 L261.89,290.97 L263.01,289.47 L264.14,284.47 L265.26,281.46 L266.38,280.58 L267.51,277.57 L268.63,283.24 L269.75,284.59 L270.88,280.86 L272,276.8 L273.12,272.22 L274.25,262.59 L275.37,255.95 L276.49,263.6 L277.62,261.94 L278.74,247.76 L279.86,214.34 L280.99,227.4 L282.11,237.98 L283.23,252.89 L284.36,264.37 L285.48,270.8 L286.6,271.76 L287.73,270.41 L288.85,267.63 L289.97,265.89 L291.1,259.53 L292.22,245.01 L293.34,229.63 L294.47,224.28 L295.59,241.13 L296.71,251.93 L297.84,260.02 L298.96,266.36 L300.08,269.63 L301.21,267.76 L302.33,262.75 L303.45,257.8 L304.58,256.05 L305.7,256.54 L306.82,260.27 L307.95,259.3 L309.07,257.5 L310.19,255.67 L311.32,260.43 L312.44,263.55 L313.56,264.37 L314.69,255.62 L315.81,238.24 L316.93,227.37 L318.06,227.66 L319.18,227.8 L320.3,227.54 L321.43,226.93 L322.55,226.29 L323.67,227.69 L324.8,230.1 L325.92,228.38 L327.04,225.33 L328.17,224.08 L329.29,229.63 L330.41,239.07 L331.54,248.43 L332.66,252.53 L333.78,248.9 L334.91,232.15 L336.03,217.72 L337.15,222.52 L338.28,228.73 L339.4,236.28 L340.52,244.08 L341.65,250.92 L342.77,256.04 L343.89,260.86 L345.02,264.22 L346.14,266.56 L347.26,266.56 L348.39,266.85 L349.51,268.25 L350.63,270 L351.76,272.17 L352.88,275.21 L354,278.3 L355.13,281.31 L356.25,283.33 L357.37,285.36 L358.5,287.17 L359.62,288.86 L360.74,290.07 L361.87,289.73 L362.99,287.9 L364.11,286.07 L365.24,284.93 L366.36,284.93 L367.48,283.08 L368.61,280.83 L369.73,278.94 L370.85,276.74 L371.98,274.3 L373.1,271.26 L374.22,268.17 L375.35,264.92 L376.47,257.8 L377.59,250.54 L378.72,260.06 L379.84,267.36 L380.96,272.57 L382.09,276.28 L383.21,278.42 L384.33,280.99 L385.46,284.1 L386.58,286.21 L387.7,287.42 L388.83,288.49 L389.95,289.26 L391.07,289.8 L392.2,290.25 L393.32,290.5 L394.44,290.57 L395.57,290.31 L396.69,289.92 L397.81,289.5 L398.94,289.5 L400.06,289.38 L401.18,288.99 L402.31,287.81 L403.43,285.58 L404.55,286.81 L405.68,289.06 L406.8,291.16 L407.92,293.08 L409.05,294.3 L410.17,295.33 L411.29,296.16 L412.42,296.99 L413.54,297.78 L414.66,298.39 L415.79,298.99 L416.91,299.56 L418.03,300.56 L419.16,301.67 L420.28,302.37 L421.4,302.96 L422.53,303.02 L423.65,302.73 L424.77,302.87 L425.9,303.64 L427.02,302.69 L428.14,301.19 L429.27,299.84 L430.39,298.63 L431.51,299.99 L432.64,301.26 L433.76,301.6 L434.88,302.01 L436.01,303.23 L437.13,304.64 L438.25,306.24 L439.38,306.77 L440.5,307.12 L441.62,307 L442.75,306.66 L443.87,305.37 L444.99,306.99 L446.12,307.25 L447.24,307.33 L448.36,307.4 L449.49,307.7 L450.61,308.21 L451.73,308.72 L452.86,308.54 L453.98,308.18 L455.1,307.87 L456.23,307.87 L457.35,307.87 L458.47,307.91 L459.6,308.07 L460.72,308.23 L461.84,308.5 L462.97,308.86 L464.09,309.21 L465.21,309.94 L466.34,310.52 L467.46,310.52 L468.58,310.54 L469.71,310.83 L470.83,311.12 L471.95,311.36 L473.08,311.58 L474.2,311.8 L474.2,314.45 L473.08,314.27 L471.95,314.09 L470.83,313.9 L469.71,313.66 L468.58,313.43 L467.46,313.42 L466.34,313.42 L465.21,312.95 L464.09,312.36 L462.97,312.08 L461.84,311.79 L460.72,311.57 L459.6,311.45 L458.47,311.32 L457.35,311.28 L456.23,311.28 L455.1,311.28 L453.98,311.54 L452.86,311.82 L451.73,311.97 L450.61,311.56 L449.49,311.15 L448.36,310.91 L447.24,310.85 L446.12,310.79 L444.99,310.58 L443.87,310.31 L442.75,310.32 L441.62,310.59 L440.5,310.68 L439.38,310.41 L438.25,309.98 L437.13,308.7 L436.01,307.58 L434.88,306.61 L433.76,306.29 L432.64,306.02 L431.51,305 L430.39,303.93 L429.27,304.89 L428.14,305.95 L427.02,307.15 L425.9,307.91 L424.77,307.29 L423.65,307.18 L422.53,307.41 L421.4,307.36 L420.28,306.9 L419.16,306.34 L418.03,305.46 L416.91,304.67 L415.79,304.21 L414.66,303.74 L413.54,303.26 L412.42,302.64 L411.29,301.98 L410.17,301.33 L409.05,300.52 L407.92,299.57 L406.8,298.07 L405.68,296.43 L404.55,294.68 L403.43,294.22 L402.31,295.46 L401.18,296.37 L400.06,296.67 L398.94,296.77 L397.81,296.77 L396.69,297.1 L395.57,297.4 L394.44,297.6 L393.32,297.55 L392.2,297.35 L391.07,297.01 L389.95,296.58 L388.83,295.98 L387.7,295.16 L386.58,294.21 L385.46,292.58 L384.33,290.19 L383.21,288.22 L382.09,286.59 L380.96,283.77 L379.84,279.85 L378.72,274.4 L377.59,268.42 L376.47,272.73 L375.35,278.02 L374.22,280.45 L373.1,282.78 L371.98,285.08 L370.85,286.94 L369.73,288.62 L368.61,290.07 L367.48,291.8 L366.36,293.23 L365.24,293.23 L364.11,294.11 L362.99,295.53 L361.87,296.95 L360.74,297.22 L359.62,296.27 L358.5,294.96 L357.37,293.56 L356.25,291.99 L355.13,290.43 L354,288.13 L352.88,285.78 L351.76,283.47 L350.63,281.83 L349.51,280.51 L348.39,279.65 L347.26,279.25 L346.14,279.25 L345.02,277.49 L343.89,275 L342.77,271.43 L341.65,267.68 L340.52,262.72 L339.4,257.14 L338.28,251.81 L337.15,247.48 L336.03,246.77 L334.91,254.22 L333.78,272.36 L332.66,268.86 L331.54,265.87 L330.41,259.13 L329.29,252.44 L328.17,248.56 L327.04,249.43 L325.92,251.56 L324.8,252.77 L323.67,251.08 L322.55,250.1 L321.43,250.55 L320.3,250.98 L319.18,251.16 L318.06,251.06 L316.93,250.93 L315.81,258.53 L314.69,271.13 L313.56,277.61 L312.44,277 L311.32,274.67 L310.19,271.16 L309.07,272.51 L307.95,273.84 L306.82,274.56 L305.7,271.8 L304.58,271.44 L303.45,272.73 L302.33,276.4 L301.21,280.14 L300.08,281.55 L298.96,279.1 L297.84,274.37 L296.71,268.42 L295.59,260.6 L294.47,251.97 L293.34,252.44 L292.22,263.4 L291.1,274.01 L289.97,278.74 L288.85,280.74 L287.73,282.14 L286.6,283.16 L285.48,283.46 L284.36,277.6 L283.23,269.12 L282.11,258.35 L280.99,250.88 L279.86,246.07 L278.74,265.38 L277.62,275.8 L276.49,277.04 L275.37,275.14 L274.25,276.28 L273.12,283.51 L272,286.99 L270.88,290.09 L269.75,292.96 L268.63,291.92 L267.51,290.87 L266.38,289.88 L265.26,290.55 L264.14,292.87 L263.01,296.75 L261.89,297.91 L260.77,297.36 L259.64,296.02 L258.52,295.71 L257.4,296.11 L256.27,296.82 L255.15,297.3 L254.03,297.68 L252.9,297.68 L251.78,297.38 L250.66,296.41 L249.53,293.71 L248.41,291.56 L247.29,289.69 L246.16,287.82 L245.04,284.14 L243.92,295.91 L242.79,290.86 L241.67,287.13 L240.55,278.29 L239.42,282.44 L238.3,281.61 L237.18,282.86 L236.05,288.03 L234.93,286.58 L233.81,292.34 L232.68,294.46 L231.56,291.77 L230.44,293.65 L229.31,294.04 L228.19,292.04 L227.07,290.33 L225.94,294.4 L224.82,295.69 L223.7,297.64 L222.57,298.51 L221.45,299.39 L220.33,300.85 L219.2,301.98 L218.08,302.42 L216.96,303.13 L215.83,304.77 L214.71,305.44 L213.59,305.44 L212.46,304.48 L211.34,303.39 L210.22,301.93 L209.09,300.44 L207.97,298.85 L206.85,298.12 L205.72,301.7 L204.6,303.62 L203.48,305.46 L202.35,306.93 L201.23,308.19 L200.11,308.43 L198.98,308.51 L197.86,306.86 L196.74,306.99 L195.61,308.33 L194.49,309.89 L193.37,310.46 L192.24,310.21 L191.12,310.26 L190,310.56 L188.87,310.85 L187.75,310.33 L186.63,309.81 L185.5,309.37 L184.38,309 L183.26,308.61 L182.13,307.69 L181.01,306.76 L179.89,305.56 L178.76,304.34 L177.64,305.8 L176.52,307.74 L175.39,310.02 L174.27,311.4 L173.15,312.15 L172.02,311.99 L170.9,311.77 L169.78,311.43 L168.65,311.08 L167.53,311.01 L166.41,311.45 L165.28,311.9 L164.16,312.19 L163.04,312.08 L161.91,311.96 L160.79,311.97 L159.67,312.34 L158.54,312.71 L157.42,312.84 L156.3,312.28 L155.17,311.72 L154.05,311.34 L152.93,311.59 L151.8,311.84 L150.68,311.97 L149.56,311.48 L148.43,311 L147.31,310.67 L146.19,311.04 L145.06,314.57 L143.94,311.92 L142.82,312.49 L141.69,313.02 L140.57,310.9 L139.45,310.76 L138.32,311.91 L137.2,312.27 L136.08,312.63 L134.95,313 L133.83,313.4 L132.71,313.8 L131.58,314.15 L130.46,313.56 L129.34,312.96 L128.21,312.43 L127.09,311.9 L125.97,310.8 L124.84,311.99 L123.72,313.06 L122.6,313.53 L121.47,314.01 L120.35,314.34 L119.23,314.66 L118.1,314.89 L116.98,314.94 L115.86,314.99 L114.73,315.04 L113.61,315.09 L112.49,315.01 L111.36,314.6 L110.24,314.19 L109.12,313.79 L107.99,313.57 L106.87,313.8 L105.75,314.04 L104.62,314.27 L103.5,314.41 L102.38,314.29 L101.25,314.17 L100.13,314.05 L99.01,313.94 L97.88,313.81 L96.76,313.68 L95.64,313.54 L94.51,313.41 L93.39,313.27 L92.27,313.15 L91.14,313.1 L90.02,313.05 L88.9,313 L87.77,312.95 L86.65,312.89 L85.53,312.75 L84.4,312.62 L83.28,312.49 L82.16,312.35 L81.03,312.24 L79.91,312.79 L78.79,313.33 L77.66,313.81 L76.54,313.28 L75.42,312.74 L74.29,312.22 L73.17,312.42 L72.05,312.61 L70.92,312.81 L69.8,313.01Z" fill="#a8c4e4"/>
<path d="M69.8,310.1 L70.92,309.86 L72.05,309.62 L73.17,309.38 L74.29,309.14 L75.42,309.78 L76.54,310.44 L77.66,311.1 L78.79,310.51 L79.91,309.83 L81.03,309.16 L82.16,309.29 L83.28,309.46 L84.4,309.63 L85.53,309.8 L86.65,309.96 L87.77,310.03 L88.9,310.1 L90.02,310.16 L91.14,310.22 L92.27,310.29 L93.39,310.44 L94.51,310.6 L95.64,310.77 L96.76,310.94 L97.88,311.1 L99.01,311.25 L100.13,311.4 L101.25,311.55 L102.38,311.69 L103.5,311.84 L104.62,311.67 L105.75,311.38 L106.87,311.09 L107.99,310.8 L109.12,311.07 L110.24,311.57 L111.36,312.07 L112.49,312.57 L113.61,312.68 L114.73,312.62 L115.86,312.56 L116.98,312.49 L118.1,312.43 L119.23,312.15 L120.35,311.75 L121.47,311.34 L122.6,310.76 L123.72,310.17 L124.84,308.85 L125.97,306.28 L127.09,308.74 L128.21,309.4 L129.34,310.05 L130.46,310.78 L131.58,311.52 L132.71,311.09 L133.83,310.59 L134.95,310.09 L136.08,309.64 L137.2,309.19 L138.32,308.74 L139.45,307.33 L140.57,306.68 L141.69,309.79 L142.82,309.47 L143.94,308.76 L145.06,305.77 L146.19,307.67 L147.31,307.21 L148.43,307.62 L149.56,308.22 L150.68,308.83 L151.8,308.66 L152.93,308.35 L154.05,308.04 L155.17,308.52 L156.3,309.21 L157.42,309.9 L158.54,309.74 L159.67,309.28 L160.79,308.82 L161.91,308.82 L163.04,308.96 L164.16,309.09 L165.28,308.74 L166.41,308.18 L167.53,307.63 L168.65,307.73 L169.78,308.15 L170.9,308.58 L172.02,308.85 L173.15,309.05 L174.27,308.12 L175.39,306.41 L176.52,303.56 L177.64,301.14 L178.76,299.3 L179.89,297.35 L181.01,302.33 L182.13,303.49 L183.26,304.65 L184.38,305.14 L185.5,305.6 L186.63,306.14 L187.75,306.79 L188.87,307.44 L190,307.07 L191.12,306.7 L192.24,306.64 L193.37,306.95 L194.49,306.24 L195.61,304.29 L196.74,302.62 L197.86,300.13 L198.98,304.52 L200.11,304.42 L201.23,304.12 L202.35,302.55 L203.48,300.71 L204.6,298.4 L205.72,295.98 L206.85,291.42 L207.97,288.81 L209.09,294.38 L210.22,296.26 L211.34,298.11 L212.46,299.48 L213.59,300.69 L214.71,300.69 L215.83,299.84 L216.96,297.77 L218.08,295.79 L219.2,296.32 L220.33,294.89 L221.45,293.05 L222.57,291.92 L223.7,290.81 L224.82,288.32 L225.94,286.67 L227.07,281.42 L228.19,276.3 L229.31,286.21 L230.44,285.7 L231.56,283.28 L232.68,284.71 L233.81,284.02 L234.93,276.54 L236.05,272.18 L237.18,271.67 L238.3,270.01 L239.42,267.84 L240.55,265.62 L241.67,261.76 L242.79,282.1 L243.92,284.94 L245.04,273.35 L246.16,267.22 L247.29,280.59 L248.41,283.01 L249.53,285.79 L250.66,289.25 L251.78,290.49 L252.9,290.86 L254.03,290.86 L255.15,290.38 L256.27,289.76 L257.4,288.86 L258.52,288.34 L259.64,288.75 L260.77,289.95 L261.89,291.16 L263.01,289.68 L264.14,284.7 L265.26,281.7 L266.38,280.83 L267.51,278.46 L268.63,283.48 L269.75,284.82 L270.88,281.12 L272,277.08 L273.12,272.52 L274.25,262.94 L275.37,257.07 L276.49,263.95 L277.62,262.29 L278.74,248.19 L279.86,215.84 L280.99,227.95 L282.11,238.46 L283.23,253.29 L284.36,264.71 L285.48,271.1 L286.6,272.06 L287.73,270.72 L288.85,268.08 L289.97,266.22 L291.1,259.9 L292.22,245.46 L293.34,230.16 L294.47,225.52 L295.59,241.6 L296.71,252.34 L297.84,260.39 L298.96,266.69 L300.08,269.94 L301.21,268.08 L302.33,263.1 L303.45,258.18 L304.58,256.44 L305.7,256.93 L306.82,260.64 L307.95,259.67 L309.07,257.88 L310.19,256.06 L311.32,260.79 L312.44,263.9 L313.56,264.71 L314.69,256.01 L315.81,238.72 L316.93,227.93 L318.06,228.21 L319.18,228.34 L320.3,228.09 L321.43,227.48 L322.55,226.84 L323.67,228.23 L324.8,230.63 L325.92,228.92 L327.04,225.89 L328.17,224.64 L329.29,230.16 L330.41,239.55 L331.54,248.86 L332.66,252.93 L333.78,249.33 L334.91,232.67 L336.03,218.86 L337.15,223.09 L338.28,229.26 L339.4,236.77 L340.52,244.54 L341.65,251.33 L342.77,256.42 L343.89,261.23 L345.02,264.56 L346.14,266.89 L347.26,266.89 L348.39,267.22 L349.51,268.57 L350.63,270.31 L351.76,272.47 L352.88,275.5 L354,278.57 L355.13,281.56 L356.25,283.57 L357.37,285.59 L358.5,287.39 L359.62,289.06 L360.74,290.27 L361.87,289.93 L362.99,288.11 L364.11,286.3 L365.24,285.16 L366.36,285.16 L367.48,283.32 L368.61,281.09 L369.73,279.2 L370.85,277.01 L371.98,274.59 L373.1,271.56 L374.22,268.49 L375.35,265.26 L376.47,258.18 L377.59,251.16 L378.72,260.43 L379.84,267.69 L380.96,272.86 L382.09,276.56 L383.21,278.69 L384.33,281.25 L385.46,284.34 L386.58,286.43 L387.7,287.64 L388.83,288.7 L389.95,289.46 L391.07,290.01 L392.2,290.45 L393.32,290.7 L394.44,290.77 L395.57,290.51 L396.69,290.12 L397.81,289.7 L398.94,289.7 L400.06,289.58 L401.18,289.2 L402.31,288.03 L403.43,285.9 L404.55,287.03 L405.68,289.27 L406.8,291.36 L407.92,293.27 L409.05,294.48 L410.17,295.5 L411.29,296.33 L412.42,297.16 L413.54,297.94 L414.66,298.55 L415.79,299.14 L416.91,299.71 L418.03,300.7 L419.16,301.81 L420.28,302.51 L421.4,303.09 L422.53,303.15 L423.65,302.86 L424.77,303.01 L425.9,303.77 L427.02,302.83 L428.14,301.33 L429.27,299.99 L430.39,298.78 L431.51,300.13 L432.64,301.4 L433.76,301.74 L434.88,302.15 L436.01,303.36 L437.13,304.76 L438.25,306.35 L439.38,306.89 L440.5,307.22 L441.62,307.11 L442.75,306.77 L443.87,305.68 L444.99,307.1 L446.12,307.36 L447.24,307.44 L448.36,307.51 L449.49,307.81 L450.61,308.32 L451.73,308.82 L452.86,308.64 L453.98,308.29 L455.1,307.97 L456.23,307.97 L457.35,307.97 L458.47,308.02 L459.6,308.18 L460.72,308.33 L461.84,308.61 L462.97,308.96 L464.09,309.31 L465.21,310.03 L466.34,310.61 L467.46,310.61 L468.58,310.63 L469.71,310.92 L470.83,311.21 L471.95,311.44 L473.08,311.66 L474.2,311.89 L474.2,314.37 L473.08,314.19 L471.95,314.01 L470.83,313.82 L469.71,313.58 L468.58,313.35 L467.46,313.33 L466.34,313.33 L465.21,312.86 L464.09,312.27 L462.97,311.98 L461.84,311.7 L460.72,311.48 L459.6,311.35 L458.47,311.22 L457.35,311.18 L456.23,311.18 L455.1,311.18 L453.98,311.44 L452.86,311.73 L451.73,311.88 L450.61,311.46 L449.49,311.05 L448.36,310.81 L447.24,310.75 L446.12,310.69 L444.99,310.48 L443.87,310.2 L442.75,310.21 L441.62,310.48 L440.5,310.58 L439.38,310.3 L438.25,309.87 L437.13,308.58 L436.01,307.45 L434.88,306.47 L433.76,306.14 L432.64,305.87 L431.51,304.85 L430.39,303.76 L429.27,304.74 L428.14,305.81 L427.02,307.02 L425.9,307.78 L424.77,307.16 L423.65,307.05 L422.53,307.28 L421.4,307.23 L420.28,306.76 L419.16,306.2 L418.03,305.31 L416.91,304.51 L415.79,304.05 L414.66,303.58 L413.54,303.09 L412.42,302.46 L411.29,301.8 L410.17,301.14 L409.05,300.33 L407.92,299.37 L406.8,297.85 L405.68,296.19 L404.55,294.43 L403.43,293.96 L402.31,295.21 L401.18,296.14 L400.06,296.44 L398.94,296.54 L397.81,296.54 L396.69,296.87 L395.57,297.18 L394.44,297.38 L393.32,297.33 L392.2,297.13 L391.07,296.78 L389.95,296.35 L388.83,295.74 L387.7,294.91 L386.58,293.96 L385.46,292.31 L384.33,289.89 L383.21,287.9 L382.09,286.25 L380.96,283.4 L379.84,279.42 L378.72,273.91 L377.59,267.84 L376.47,272.21 L375.35,277.57 L374.22,280.04 L373.1,282.39 L371.98,284.73 L370.85,286.6 L369.73,288.3 L368.61,289.77 L367.48,291.52 L366.36,292.96 L365.24,292.96 L364.11,293.85 L362.99,295.28 L361.87,296.72 L360.74,296.99 L359.62,296.03 L358.5,294.71 L357.37,293.3 L356.25,291.71 L355.13,290.14 L354,287.81 L352.88,285.43 L351.76,283.09 L350.63,281.44 L349.51,280.1 L348.39,279.22 L347.26,278.81 L346.14,278.81 L345.02,277.04 L343.89,274.51 L342.77,270.89 L341.65,267.09 L340.52,262.06 L339.4,256.38 L338.28,250.96 L337.15,246.55 L336.03,245.83 L334.91,253.41 L333.78,270.82 L332.66,268.28 L331.54,265.25 L330.41,258.4 L329.29,251.6 L328.17,247.65 L327.04,248.54 L325.92,250.71 L324.8,251.94 L323.67,250.22 L322.55,249.22 L321.43,249.68 L320.3,250.12 L319.18,250.3 L318.06,250.2 L316.93,250.06 L315.81,257.8 L314.69,270.59 L313.56,277.16 L312.44,276.54 L311.32,274.18 L310.19,270.62 L309.07,271.99 L307.95,273.34 L306.82,274.07 L305.7,271.27 L304.58,270.91 L303.45,272.22 L302.33,275.93 L301.21,279.73 L300.08,281.15 L298.96,278.67 L297.84,273.88 L296.71,267.84 L295.59,259.91 L294.47,251.12 L293.34,251.6 L292.22,262.74 L291.1,273.51 L289.97,278.3 L288.85,280.33 L287.73,281.74 L286.6,282.78 L285.48,282.91 L284.36,277.15 L283.23,268.55 L282.11,257.61 L280.99,250.01 L279.86,245.12 L278.74,264.76 L277.62,275.32 L276.49,276.58 L275.37,274.66 L274.25,275.81 L273.12,283.13 L272,286.65 L270.88,289.79 L269.75,292.69 L268.63,291.64 L267.51,290.57 L266.38,289.57 L265.26,290.25 L264.14,292.6 L263.01,296.52 L261.89,297.69 L260.77,297.07 L259.64,295.78 L258.52,295.46 L257.4,295.87 L256.27,296.59 L255.15,297.08 L254.03,297.45 L252.9,297.45 L251.78,297.16 L250.66,296.18 L249.53,293.45 L248.41,291.27 L247.29,289.38 L246.16,287.5 L245.04,283.77 L243.92,295.21 L242.79,290.56 L241.67,286.79 L240.55,277.84 L239.42,282.05 L238.3,281.2 L237.18,282.47 L236.05,287.71 L234.93,286.24 L233.81,292.07 L232.68,293.95 L231.56,291.48 L230.44,293.38 L229.31,293.78 L228.19,291.76 L227.07,290.03 L225.94,294.14 L224.82,295.45 L223.7,297.42 L222.57,298.29 L221.45,299.19 L220.33,300.66 L219.2,301.8 L218.08,302.24 L216.96,302.96 L215.83,304.61 L214.71,305.29 L213.59,305.29 L212.46,304.32 L211.34,303.22 L210.22,301.75 L209.09,300.25 L207.97,298.64 L206.85,297.9 L205.72,301.52 L204.6,303.46 L203.48,305.31 L202.35,306.8 L201.23,308.06 L200.11,308.3 L198.98,308.39 L197.86,306.72 L196.74,306.85 L195.61,308.2 L194.49,309.78 L193.37,310.36 L192.24,310.1 L191.12,310.15 L190,310.45 L188.87,310.75 L187.75,310.22 L186.63,309.7 L185.5,309.26 L184.38,308.89 L183.26,308.49 L182.13,307.56 L181.01,306.62 L179.89,305.41 L178.76,304.18 L177.64,305.66 L176.52,307.61 L175.39,309.91 L174.27,311.31 L173.15,312.06 L172.02,311.9 L170.9,311.68 L169.78,311.33 L168.65,310.98 L167.53,310.91 L166.41,311.36 L165.28,311.81 L164.16,312.1 L163.04,311.98 L161.91,311.87 L160.79,311.87 L159.67,312.25 L158.54,312.62 L157.42,312.75 L156.3,312.19 L155.17,311.63 L154.05,311.24 L152.93,311.49 L151.8,311.74 L150.68,311.88 L149.56,311.39 L148.43,310.89 L147.31,310.57 L146.19,310.94 L145.06,314 L143.94,311.82 L142.82,312.4 L141.69,312.89 L140.57,310.8 L139.45,310.66 L138.32,311.81 L137.2,312.18 L136.08,312.54 L134.95,312.91 L133.83,313.32 L132.71,313.72 L131.58,314.07 L130.46,313.47 L129.34,312.88 L128.21,312.34 L127.09,311.81 L125.97,310.7 L124.84,311.9 L123.72,312.97 L122.6,313.45 L121.47,313.93 L120.35,314.26 L119.23,314.59 L118.1,314.82 L116.98,314.87 L115.86,314.92 L114.73,314.97 L113.61,315.02 L112.49,314.93 L111.36,314.53 L110.24,314.12 L109.12,313.71 L107.99,313.49 L106.87,313.72 L105.75,313.96 L104.62,314.2 L103.5,314.33 L102.38,314.22 L101.25,314.1 L100.13,313.98 L99.01,313.86 L97.88,313.73 L96.76,313.6 L95.64,313.46 L94.51,313.33 L93.39,313.19 L92.27,313.07 L91.14,313.02 L90.02,312.96 L88.9,312.91 L87.77,312.86 L86.65,312.8 L85.53,312.67 L84.4,312.53 L83.28,312.39 L82.16,312.26 L81.03,312.15 L79.91,312.7 L78.79,313.25 L77.66,313.73 L76.54,313.19 L75.42,312.66 L74.29,312.13 L73.17,312.33 L72.05,312.52 L70.92,312.72 L69.8,312.92Z" fill="#3289f0"/>
<path d="M69.8,310.2 L70.92,309.96 L72.05,309.72 L73.17,309.48 L74.29,309.24 L75.42,309.88 L76.54,310.53 L77.66,311.18 L78.79,310.6 L79.91,309.93 L81.03,309.25 L82.16,309.39 L83.28,309.56 L84.4,309.72 L85.53,309.89 L86.65,310.06 L87.77,310.13 L88.9,310.19 L90.02,310.25 L91.14,310.32 L92.27,310.38 L93.39,310.53 L94.51,310.69 L95.64,310.86 L96.76,311.03 L97.88,311.19 L99.01,311.34 L100.13,311.49 L101.25,311.63 L102.38,311.78 L103.5,311.92 L104.62,311.75 L105.75,311.47 L106.87,311.18 L107.99,310.89 L109.12,311.16 L110.24,311.66 L111.36,312.15 L112.49,312.65 L113.61,312.76 L114.73,312.7 L115.86,312.64 L116.98,312.57 L118.1,312.51 L119.23,312.23 L120.35,311.83 L121.47,311.43 L122.6,310.85 L123.72,310.26 L124.84,308.95 L125.97,306.59 L127.09,308.84 L128.21,309.49 L129.34,310.15 L130.46,310.87 L131.58,311.61 L132.71,311.18 L133.83,310.68 L134.95,310.19 L136.08,309.74 L137.2,309.29 L138.32,308.85 L139.45,307.44 L140.57,306.93 L141.69,309.88 L142.82,309.56 L143.94,308.86 L145.06,306.29 L146.19,307.78 L147.31,307.32 L148.43,307.72 L149.56,308.33 L150.68,308.93 L151.8,308.76 L152.93,308.45 L154.05,308.14 L155.17,308.62 L156.3,309.31 L157.42,310 L158.54,309.84 L159.67,309.38 L160.79,308.92 L161.91,308.92 L163.04,309.06 L164.16,309.19 L165.28,308.84 L166.41,308.29 L167.53,307.74 L168.65,307.83 L169.78,308.26 L170.9,308.68 L172.02,308.95 L173.15,309.15 L174.27,308.23 L175.39,306.52 L176.52,303.69 L177.64,301.28 L178.76,299.46 L179.89,298.11 L181.01,302.47 L182.13,303.62 L183.26,304.78 L184.38,305.26 L185.5,305.72 L186.63,306.25 L187.75,306.9 L188.87,307.54 L190,307.18 L191.12,306.81 L192.24,306.75 L193.37,307.06 L194.49,306.36 L195.61,304.42 L196.74,302.75 L197.86,300.67 L198.98,304.65 L200.11,304.55 L201.23,304.24 L202.35,302.69 L203.48,300.85 L204.6,298.55 L205.72,296.15 L206.85,291.62 L207.97,289.63 L209.09,294.56 L210.22,296.43 L211.34,298.27 L212.46,299.63 L213.59,300.83 L214.71,300.83 L215.83,299.99 L216.96,297.93 L218.08,296.15 L219.2,296.49 L220.33,295.07 L221.45,293.24 L222.57,292.11 L223.7,291.01 L224.82,288.53 L225.94,286.89 L227.07,281.67 L228.19,277.84 L229.31,286.44 L230.44,285.93 L231.56,283.52 L232.68,284.94 L233.81,284.26 L234.93,276.82 L236.05,273.55 L237.18,271.97 L238.3,270.33 L239.42,268.72 L240.55,265.95 L241.67,264.77 L242.79,282.35 L243.92,285.17 L245.04,273.65 L246.16,269.42 L247.29,280.84 L248.41,283.25 L249.53,286.01 L250.66,289.46 L251.78,290.69 L252.9,291.06 L254.03,291.06 L255.15,290.58 L256.27,289.97 L257.4,289.07 L258.52,288.56 L259.64,288.96 L260.77,290.16 L261.89,291.36 L263.01,289.89 L264.14,284.93 L265.26,281.95 L266.38,281.09 L267.51,279.35 L268.63,283.72 L269.75,285.05 L270.88,281.37 L272,277.35 L273.12,272.82 L274.25,263.29 L275.37,258.2 L276.49,264.3 L277.62,262.65 L278.74,248.62 L279.86,217.35 L280.99,228.49 L282.11,238.95 L283.23,253.7 L284.36,265.05 L285.48,271.41 L286.6,272.37 L287.73,271.03 L288.85,268.54 L289.97,266.55 L291.1,260.26 L292.22,245.91 L293.34,230.69 L294.47,226.76 L295.59,242.07 L296.71,252.75 L297.84,260.75 L298.96,267.03 L300.08,270.25 L301.21,268.41 L302.33,263.45 L303.45,258.56 L304.58,256.83 L305.7,257.31 L306.82,261 L307.95,260.04 L309.07,258.26 L310.19,256.45 L311.32,261.15 L312.44,264.25 L313.56,265.05 L314.69,256.4 L315.81,239.21 L316.93,228.49 L318.06,228.75 L319.18,228.88 L320.3,228.63 L321.43,228.03 L322.55,227.39 L323.67,228.77 L324.8,231.16 L325.92,229.46 L327.04,226.44 L328.17,225.2 L329.29,230.69 L330.41,240.03 L331.54,249.29 L332.66,253.34 L333.78,249.76 L334.91,233.19 L336.03,220 L337.15,223.66 L338.28,229.8 L339.4,237.27 L340.52,244.99 L341.65,251.75 L342.77,256.81 L343.89,261.59 L345.02,264.9 L346.14,267.22 L347.26,267.22 L348.39,267.58 L349.51,268.89 L350.63,270.63 L351.76,272.77 L352.88,275.78 L354,278.83 L355.13,281.81 L356.25,283.81 L357.37,285.82 L358.5,287.6 L359.62,289.27 L360.74,290.48 L361.87,290.13 L362.99,288.33 L364.11,286.52 L365.24,285.39 L366.36,285.39 L367.48,283.56 L368.61,281.34 L369.73,279.47 L370.85,277.29 L371.98,274.88 L373.1,271.87 L374.22,268.81 L375.35,265.6 L376.47,258.56 L377.59,251.78 L378.72,260.79 L379.84,268.01 L380.96,273.16 L382.09,276.84 L383.21,278.95 L384.33,281.5 L385.46,284.57 L386.58,286.65 L387.7,287.86 L388.83,288.91 L389.95,289.67 L391.07,290.21 L392.2,290.65 L393.32,290.9 L394.44,290.97 L395.57,290.71 L396.69,290.33 L397.81,289.91 L398.94,289.91 L400.06,289.79 L401.18,289.41 L402.31,288.24 L403.43,286.22 L404.55,287.25 L405.68,289.48 L406.8,291.56 L407.92,293.46 L409.05,294.66 L410.17,295.67 L411.29,296.5 L412.42,297.32 L413.54,298.1 L414.66,298.71 L415.79,299.29 L416.91,299.86 L418.03,300.85 L419.16,301.95 L420.28,302.64 L421.4,303.22 L422.53,303.28 L423.65,303 L424.77,303.14 L425.9,303.9 L427.02,302.96 L428.14,301.47 L429.27,300.14 L430.39,298.94 L431.51,300.28 L432.64,301.55 L433.76,301.88 L434.88,302.29 L436.01,303.49 L437.13,304.88 L438.25,306.47 L439.38,307 L440.5,307.33 L441.62,307.22 L442.75,306.89 L443.87,305.98 L444.99,307.21 L446.12,307.47 L447.24,307.54 L448.36,307.62 L449.49,307.91 L450.61,308.42 L451.73,308.92 L452.86,308.74 L453.98,308.39 L455.1,308.08 L456.23,308.08 L457.35,308.08 L458.47,308.12 L459.6,308.28 L460.72,308.44 L461.84,308.71 L462.97,309.06 L464.09,309.41 L465.21,310.13 L466.34,310.7 L467.46,310.7 L468.58,310.72 L469.71,311.01 L470.83,311.3 L471.95,311.53 L473.08,311.75 L474.2,311.97 L474.2,314.3 L473.08,314.12 L471.95,313.93 L470.83,313.74 L469.71,313.5 L468.58,313.26 L467.46,313.25 L466.34,313.25 L465.21,312.77 L464.09,312.18 L462.97,311.89 L461.84,311.6 L460.72,311.38 L459.6,311.25 L458.47,311.12 L457.35,311.08 L456.23,311.08 L455.1,311.08 L453.98,311.34 L452.86,311.63 L451.73,311.78 L450.61,311.37 L449.49,310.95 L448.36,310.71 L447.24,310.64 L446.12,310.58 L444.99,310.37 L443.87,310.09 L442.75,310.1 L441.62,310.38 L440.5,310.47 L439.38,310.19 L438.25,309.76 L437.13,308.46 L436.01,307.32 L434.88,306.33 L433.76,306 L432.64,305.73 L431.51,304.7 L430.39,303.6 L429.27,304.58 L428.14,305.66 L427.02,306.88 L425.9,307.65 L424.77,307.03 L423.65,306.91 L422.53,307.15 L421.4,307.1 L420.28,306.62 L419.16,306.05 L418.03,305.16 L416.91,304.36 L415.79,303.89 L414.66,303.41 L413.54,302.93 L412.42,302.29 L411.29,301.62 L410.17,300.95 L409.05,300.13 L407.92,299.16 L406.8,297.63 L405.68,295.96 L404.55,294.18 L403.43,293.7 L402.31,294.97 L401.18,295.9 L400.06,296.21 L398.94,296.3 L397.81,296.3 L396.69,296.64 L395.57,296.95 L394.44,297.16 L393.32,297.11 L392.2,296.9 L391.07,296.55 L389.95,296.11 L388.83,295.5 L387.7,294.66 L386.58,293.7 L385.46,292.04 L384.33,289.59 L383.21,287.58 L382.09,285.91 L380.96,283.02 L379.84,279 L378.72,273.41 L377.59,267.26 L376.47,271.7 L375.35,277.12 L374.22,279.62 L373.1,282.01 L371.98,284.37 L370.85,286.26 L369.73,287.98 L368.61,289.47 L367.48,291.23 L366.36,292.69 L365.24,292.69 L364.11,293.59 L362.99,295.04 L361.87,296.49 L360.74,296.76 L359.62,295.8 L358.5,294.46 L357.37,293.03 L356.25,291.43 L355.13,289.84 L354,287.48 L352.88,285.08 L351.76,282.71 L350.63,281.04 L349.51,279.69 L348.39,278.8 L347.26,278.38 L346.14,278.38 L345.02,276.59 L343.89,274.03 L342.77,270.36 L341.65,266.5 L340.52,261.39 L339.4,255.63 L338.28,250.11 L337.15,245.62 L336.03,244.89 L334.91,252.6 L333.78,269.29 L332.66,267.71 L331.54,264.64 L330.41,257.68 L329.29,250.77 L328.17,246.75 L327.04,247.65 L325.92,249.86 L324.8,251.11 L323.67,249.35 L322.55,248.34 L321.43,248.81 L320.3,249.25 L319.18,249.44 L318.06,249.34 L316.93,249.2 L315.81,257.07 L314.69,270.05 L313.56,276.7 L312.44,276.08 L311.32,273.69 L310.19,270.08 L309.07,271.47 L307.95,272.84 L306.82,273.57 L305.7,270.74 L304.58,270.37 L303.45,271.7 L302.33,275.46 L301.21,279.31 L300.08,280.75 L298.96,278.23 L297.84,273.38 L296.71,267.26 L295.59,259.21 L294.47,250.28 L293.34,250.77 L292.22,262.09 L291.1,273.01 L289.97,277.87 L288.85,279.91 L287.73,281.35 L286.6,282.4 L285.48,282.37 L284.36,276.7 L283.23,267.98 L282.11,256.88 L280.99,249.15 L279.86,244.16 L278.74,264.13 L277.62,274.84 L276.49,276.12 L275.37,274.17 L274.25,275.34 L273.12,282.76 L272,286.31 L270.88,289.49 L269.75,292.42 L268.63,291.36 L267.51,290.28 L266.38,289.27 L265.26,289.96 L264.14,292.33 L263.01,296.29 L261.89,297.47 L260.77,296.78 L259.64,295.54 L258.52,295.22 L257.4,295.63 L256.27,296.35 L255.15,296.85 L254.03,297.23 L252.9,297.23 L251.78,296.93 L250.66,295.94 L249.53,293.19 L248.41,290.99 L247.29,289.08 L246.16,287.17 L245.04,283.4 L243.92,294.52 L242.79,290.27 L241.67,286.46 L240.55,277.4 L239.42,281.66 L238.3,280.8 L237.18,282.09 L236.05,287.38 L234.93,285.9 L233.81,291.79 L232.68,293.44 L231.56,291.2 L230.44,293.12 L229.31,293.53 L228.19,291.48 L227.07,289.73 L225.94,293.89 L224.82,295.2 L223.7,297.19 L222.57,298.08 L221.45,298.98 L220.33,300.46 L219.2,301.62 L218.08,302.06 L216.96,302.79 L215.83,304.46 L214.71,305.14 L213.59,305.15 L212.46,304.16 L211.34,303.06 L210.22,301.57 L209.09,300.05 L207.97,298.43 L206.85,297.68 L205.72,301.34 L204.6,303.29 L203.48,305.16 L202.35,306.66 L201.23,307.93 L200.11,308.18 L198.98,308.26 L197.86,306.58 L196.74,306.72 L195.61,308.08 L194.49,309.67 L193.37,310.25 L192.24,309.99 L191.12,310.04 L190,310.35 L188.87,310.64 L187.75,310.11 L186.63,309.58 L185.5,309.14 L184.38,308.77 L183.26,308.37 L182.13,307.43 L181.01,306.48 L179.89,305.26 L178.76,304.02 L177.64,305.51 L176.52,307.48 L175.39,309.8 L174.27,311.21 L173.15,311.97 L172.02,311.8 L170.9,311.58 L169.78,311.23 L168.65,310.88 L167.53,310.8 L166.41,311.26 L165.28,311.71 L164.16,312 L163.04,311.89 L161.91,311.78 L160.79,311.78 L159.67,312.16 L158.54,312.54 L157.42,312.67 L156.3,312.1 L155.17,311.53 L154.05,311.14 L152.93,311.39 L151.8,311.65 L150.68,311.78 L149.56,311.29 L148.43,310.79 L147.31,310.46 L146.19,310.84 L145.06,313.43 L143.94,311.73 L142.82,312.31 L141.69,312.76 L140.57,310.7 L139.45,310.56 L138.32,311.72 L137.2,312.09 L136.08,312.45 L134.95,312.82 L133.83,313.23 L132.71,313.64 L131.58,314 L130.46,313.39 L129.34,312.79 L128.21,312.25 L127.09,311.71 L125.97,310.6 L124.84,311.8 L123.72,312.89 L122.6,313.37 L121.47,313.85 L120.35,314.18 L119.23,314.52 L118.1,314.75 L116.98,314.8 L115.86,314.85 L114.73,314.9 L113.61,314.95 L112.49,314.86 L111.36,314.45 L110.24,314.04 L109.12,313.63 L107.99,313.41 L106.87,313.64 L105.75,313.88 L104.62,314.12 L103.5,314.26 L102.38,314.14 L101.25,314.02 L100.13,313.9 L99.01,313.78 L97.88,313.65 L96.76,313.52 L95.64,313.38 L94.51,313.24 L93.39,313.11 L92.27,312.98 L91.14,312.93 L90.02,312.88 L88.9,312.83 L87.77,312.78 L86.65,312.72 L85.53,312.58 L84.4,312.44 L83.28,312.3 L82.16,312.17 L81.03,312.05 L79.91,312.61 L78.79,313.17 L77.66,313.65 L76.54,313.11 L75.42,312.57 L74.29,312.04 L73.17,312.24 L72.05,312.44 L70.92,312.63 L69.8,312.83Z" fill="#1b62e4"/>
<path d="M68.65 311.57h2.3M69.8 310.42v2.3M69.77 311.35h2.3M70.92 310.2v2.3M70.9 311.13h2.3M72.05 309.98v2.3M72.02 310.91h2.3M73.17 309.76v2.3M73.14 310.68h2.3M74.29 309.53v2.3M74.27 311.27h2.3M75.42 310.12v2.3M75.39 311.87h2.3M76.54 310.72v2.3M76.51 312.47h2.3M77.66 311.32v2.3M77.64 311.94h2.3M78.79 310.79v2.3M78.76 311.32h2.3M79.91 310.17v2.3M79.88 310.7h2.3M81.03 309.55v2.3M81.01 310.83h2.3M82.16 309.68v2.3M82.13 310.98h2.3M83.28 309.83v2.3M83.25 311.13h2.3M84.4 309.98v2.3M84.38 311.29h2.3M85.53 310.14v2.3M85.5 311.44h2.3M86.65 310.29v2.3M86.62 311.51h2.3M87.77 310.36v2.3M87.75 311.56h2.3M88.9 310.41v2.3M88.87 311.62h2.3M90.02 310.47v2.3M89.99 311.68h2.3M91.14 310.53v2.3M91.12 311.73h2.3M92.27 310.58v2.3M92.24 311.87h2.3M93.39 310.72v2.3M93.36 312.02h2.3M94.51 310.87v2.3M94.49 312.18h2.3M95.64 311.03v2.3M95.61 312.33h2.3M96.76 311.18v2.3M96.73 312.48h2.3M97.88 311.33v2.3M97.86 312.62h2.3M99.01 311.47v2.3M98.98 312.75h2.3M100.13 311.6v2.3M100.1 312.89h2.3M101.25 311.74v2.3M101.23 313.02h2.3M102.38 311.87v2.3M102.35 313.15h2.3M103.5 312v2.3M103.47 313h2.3M104.62 311.85v2.3M104.6 312.74h2.3M105.75 311.59v2.3M105.72 312.47h2.3M106.87 311.32v2.3M106.84 312.21h2.3M107.99 311.06v2.3M107.97 312.45h2.3M109.12 311.3v2.3M109.09 312.91h2.3M110.24 311.76v2.3M110.21 313.37h2.3M111.36 312.22v2.3M111.34 313.82h2.3M112.49 312.67v2.3M112.46 313.92h2.3M113.61 312.77v2.3M113.58 313.87h2.3M114.73 312.72v2.3M114.71 313.81h2.3M115.86 312.66v2.3M115.83 313.75h2.3M116.98 312.6v2.3M116.95 313.69h2.3M118.1 312.54v2.3M118.08 313.44h2.3M119.23 312.29v2.3M119.2 313.07h2.3M120.35 311.92v2.3M120.32 312.7h2.3M121.47 311.55v2.3M121.45 312.16h2.3M122.6 311.01v2.3M122.57 311.63h2.3M123.72 310.48v2.3M123.69 310.42h2.3M124.84 309.27v2.3M124.82 309.08h2.3M125.97 307.93v2.3M125.94 310.32h2.3M127.09 309.17v2.3M127.06 310.92h2.3M128.21 309.77v2.3M128.19 311.52h2.3M129.34 310.37v2.3M129.31 312.19h2.3M130.46 311.04v2.3M130.43 312.86h2.3M131.58 311.71v2.3M131.56 312.47h2.3M132.71 311.32v2.3M132.68 312.02h2.3M133.83 310.87v2.3M133.8 311.56h2.3M134.95 310.41v2.3M134.93 311.15h2.3M136.08 310v2.3M136.05 310.74h2.3M137.2 309.59v2.3M137.17 310.33h2.3M138.32 309.18v2.3M138.3 309.03h2.3M139.45 307.88v2.3M139.42 309.19h2.3M140.57 308.04v2.3M140.54 311.28h2.3M141.69 310.13v2.3M141.67 310.99h2.3M142.82 309.84v2.3M142.79 310.34h2.3M143.94 309.19v2.3M143.91 309.77h2.3M145.06 308.62v2.3M145.04 309.35h2.3M146.19 308.2v2.3M146.16 308.93h2.3M147.31 307.78v2.3M147.28 309.29h2.3M148.43 308.14v2.3M148.41 309.85h2.3M149.56 308.7v2.3M149.53 310.4h2.3M150.68 309.25v2.3M150.65 310.25h2.3M151.8 309.1v2.3M151.78 309.96h2.3M152.93 308.81v2.3M152.9 309.68h2.3M154.05 308.53v2.3M154.02 310.12h2.3M155.17 308.97v2.3M155.15 310.75h2.3M156.3 309.6v2.3M156.27 311.38h2.3M157.42 310.23v2.3M157.39 311.24h2.3M158.54 310.09v2.3M158.52 310.82h2.3M159.67 309.67v2.3M159.64 310.39h2.3M160.79 309.24v2.3M160.76 310.39h2.3M161.91 309.24v2.3M161.89 310.52h2.3M163.04 309.37v2.3M163.01 310.65h2.3M164.16 309.5v2.3M164.13 310.32h2.3M165.28 309.17v2.3M165.26 309.81h2.3M166.41 308.66v2.3M166.38 309.31h2.3M167.53 308.16v2.3M167.5 309.39h2.3M168.65 308.24v2.3M168.63 309.79h2.3M169.78 308.64v2.3M169.75 310.18h2.3M170.9 309.03v2.3M170.87 310.42h2.3M172.02 309.27v2.3M172 310.61h2.3M173.15 309.46v2.3M173.12 309.76h2.3M174.27 308.61v2.3M174.24 308.19h2.3M175.39 307.04v2.3M175.37 305.59h2.3M176.52 304.44v2.3M176.49 303.37h2.3M177.64 302.22v2.3M177.61 301.7h2.3M178.76 300.55v2.3M178.74 303.09h2.3M179.89 301.94v2.3M179.86 304.47h2.3M181.01 303.32v2.3M180.98 305.53h2.3M182.13 304.38v2.3M182.11 306.59h2.3M183.26 305.44v2.3M183.23 307.03h2.3M184.38 305.88v2.3M184.35 307.45h2.3M185.5 306.3v2.3M185.48 307.94h2.3M186.63 306.79v2.3M186.6 308.54h2.3M187.75 307.39v2.3M187.72 309.13h2.3M188.87 307.98v2.3M188.85 308.8h2.3M190 307.65v2.3M189.97 308.45h2.3M191.12 307.3v2.3M191.09 308.4h2.3M192.24 307.25v2.3M192.22 308.69h2.3M193.37 307.54v2.3M193.34 308.04h2.3M194.49 306.89v2.3M194.46 306.26h2.3M195.61 305.11v2.3M195.59 304.73h2.3M196.74 303.58v2.3M196.71 304.58h2.3M197.86 303.43v2.3M197.83 306.47h2.3M198.98 305.32v2.3M198.96 306.37h2.3M200.11 305.22v2.3M200.08 306.1h2.3M201.23 304.95v2.3M201.2 304.67h2.3M202.35 303.52v2.3M202.33 302.98h2.3M203.48 301.83v2.3M203.45 300.87h2.3M204.6 299.72v2.3M204.57 298.65h2.3M205.72 297.5v2.3M205.7 294.49h2.3M206.85 293.34v2.3M206.82 295.35h2.3M207.97 294.2v2.3M207.94 297.19h2.3M209.09 296.04v2.3M209.07 298.92h2.3M210.22 297.77v2.3M210.19 300.6h2.3M211.34 299.45v2.3M211.31 301.85h2.3M212.46 300.7v2.3M212.44 302.96h2.3M213.59 301.81v2.3M213.56 302.96h2.3M214.71 301.81v2.3M214.68 302.18h2.3M215.83 301.03v2.3M215.81 300.3h2.3M216.96 299.15v2.3M216.93 299.48h2.3M218.08 298.33v2.3M218.05 298.97h2.3M219.2 297.82v2.3M219.18 297.66h2.3M220.33 296.51v2.3M220.3 295.98h2.3M221.45 294.83v2.3M221.42 294.95h2.3M222.57 293.8v2.3M222.55 293.94h2.3M223.7 292.79v2.3M223.67 291.66h2.3M224.82 290.51v2.3M224.79 290.14h2.3M225.94 288.99v2.3M225.92 285.35h2.3M227.07 284.2v2.3M227.04 287.37h2.3M228.19 286.22v2.3M228.16 289.73h2.3M229.31 288.58v2.3M229.29 289.26h2.3M230.44 288.11v2.3M230.41 287.05h2.3M231.56 285.9v2.3M231.53 288.36h2.3M232.68 287.21v2.3M232.66 287.73h2.3M233.81 286.58v2.3M233.78 280.89h2.3M234.93 279.74v2.3M234.9 282.62h2.3M236.05 281.47v2.3M236.03 276.43h2.3M237.18 275.28v2.3M237.15 274.92h2.3M238.3 273.77v2.3M238.27 275.94h2.3M239.42 274.79v2.3M239.4 270.9h2.3M240.55 269.75v2.3M240.52 281.55h2.3M241.67 280.4v2.3M241.64 285.97h2.3M242.79 284.82v2.3M242.77 288.57h2.3M243.92 287.42v2.3M243.89 277.98h2.3M245.04 276.83v2.3M245.01 282.38h2.3M246.16 281.23v2.3M246.14 284.59h2.3M247.29 283.44v2.3M247.26 286.8h2.3M248.41 285.65v2.3M248.38 289.34h2.3M249.53 288.19v2.3M249.51 292.51h2.3M250.66 291.36v2.3M250.63 293.64h2.3M251.78 292.49v2.3M251.75 293.98h2.3M252.9 292.83v2.3M252.88 293.98h2.3M254.03 292.83v2.3M254 293.54h2.3M255.15 292.39v2.3M255.12 292.98h2.3M256.27 291.83v2.3M256.25 292.15h2.3M257.4 291v2.3M257.37 291.68h2.3M258.52 290.53v2.3M258.49 292.05h2.3M259.64 290.9v2.3M259.62 293.15h2.3M260.77 292v2.3M260.74 294.26h2.3M261.89 293.11v2.3M261.86 292.9h2.3M263.01 291.75v2.3M262.99 288.35h2.3M264.14 287.2v2.3M264.11 285.61h2.3M265.26 284.46v2.3M265.23 284.81h2.3M266.38 283.66v2.3M266.36 285.99h2.3M267.51 284.84v2.3M267.48 287.24h2.3M268.63 286.09v2.3M268.6 288.46h2.3M269.75 287.31v2.3M269.73 285.07h2.3M270.88 283.92v2.3M270.85 281.38h2.3M272 280.23v2.3M271.97 277.22h2.3M273.12 276.07v2.3M273.1 268.46h2.3M274.25 267.31v2.3M274.22 267.06h2.3M275.37 265.91v2.3M275.34 269.38h2.3M276.49 268.23v2.3M276.47 267.87h2.3M277.62 266.72v2.3M277.59 254.97h2.3M278.74 253.82v2.3M278.71 230.18h2.3M279.86 229.03v2.3M279.84 236.47h2.3M280.99 235.32v2.3M280.96 246.08h2.3M282.11 244.93v2.3M282.08 259.64h2.3M283.23 258.49v2.3M283.21 270.07h2.3M284.36 268.92v2.3M284.33 275.92h2.3M285.48 274.77v2.3M285.45 276.8h2.3M286.6 275.65v2.3M286.58 275.57h2.3M287.73 274.42v2.3M287.7 273.87h2.3M288.85 272.72v2.3M288.82 271.45h2.3M289.97 270.3v2.3M289.95 265.67h2.3M291.1 264.52v2.3M291.07 252.48h2.3M292.22 251.33v2.3M292.19 238.5h2.3M293.34 237.35v2.3M293.32 237.88h2.3M294.47 236.73v2.3M294.44 248.95h2.3M295.59 247.8v2.3M295.56 258.77h2.3M296.71 257.62v2.3M296.69 266.12h2.3M297.84 264.97v2.3M297.81 271.89h2.3M298.96 270.74v2.3M298.93 274.86h2.3M300.08 273.71v2.3M300.06 273.16h2.3M301.21 272.01v2.3M301.18 268.6h2.3M302.33 267.45v2.3M302.3 264.11h2.3M303.45 262.96v2.3M303.43 262.52h2.3M304.58 261.37v2.3M304.55 262.96h2.3M305.7 261.81v2.3M305.67 266.35h2.3M306.82 265.2v2.3M306.8 265.47h2.3M307.95 264.32v2.3M307.92 263.83h2.3M309.07 262.68v2.3M309.04 262.17h2.3M310.19 261.02v2.3M310.17 266.49h2.3M311.32 265.34v2.3M311.29 269.34h2.3M312.44 268.19v2.3M312.41 270.08h2.3M313.56 268.93v2.3M313.54 262.12h2.3M314.69 260.97v2.3M314.66 246.32h2.3M315.81 245.17v2.3M315.78 236.53h2.3M316.93 235.38v2.3M316.91 236.71h2.3M318.06 235.56v2.3M318.03 236.83h2.3M319.18 235.68v2.3M319.15 236.6h2.3M320.3 235.45v2.3M320.28 236.05h2.3M321.43 234.9v2.3M321.4 235.46h2.3M322.55 234.31v2.3M322.52 236.73h2.3M323.67 235.58v2.3M323.65 238.92h2.3M324.8 237.77v2.3M324.77 237.36h2.3M325.92 236.21v2.3M325.89 234.59h2.3M327.04 233.44v2.3M327.02 233.45h2.3M328.17 232.3v2.3M328.14 238.5h2.3M329.29 237.35v2.3M329.26 247.08h2.3M330.41 245.93v2.3M330.39 255.59h2.3M331.54 254.44v2.3M331.51 259.31h2.3M332.66 258.16v2.3M332.63 256.02h2.3M333.78 254.87v2.3M333.76 240.79h2.3M334.91 239.64v2.3M334.88 231.1h2.3M336.03 229.95v2.3M336 232.03h2.3M337.15 230.88v2.3M337.13 237.67h2.3M338.28 236.52v2.3M338.25 244.54h2.3M339.4 243.39v2.3M339.37 251.63h2.3M340.52 250.48v2.3M340.5 257.85h2.3M341.65 256.7v2.3M341.62 262.5h2.3M342.77 261.35v2.3M342.74 266.89h2.3M343.89 265.74v2.3M343.87 269.94h2.3M345.02 268.79v2.3M344.99 272.07h2.3M346.14 270.92v2.3M346.11 272.07h2.3M347.26 270.92v2.3M347.24 272.56h2.3M348.39 271.41v2.3M348.36 273.61h2.3M349.51 272.46v2.3M349.48 275.2h2.3M350.63 274.05v2.3M350.61 277.17h2.3M351.76 276.02v2.3M351.73 279.93h2.3M352.88 278.78v2.3M352.85 282.74h2.3M354 281.59v2.3M353.98 285.47h2.3M355.13 284.32v2.3M355.1 287.32h2.3M356.25 286.17v2.3M356.22 289.16h2.3M357.37 288.01v2.3M357.35 290.8h2.3M358.5 289.65v2.3M358.47 292.34h2.3M359.62 291.19v2.3M359.59 293.44h2.3M360.74 292.29v2.3M360.72 293.13h2.3M361.87 291.98v2.3M361.84 291.47h2.3M362.99 290.32v2.3M362.96 289.81h2.3M364.11 288.66v2.3M364.09 288.77h2.3M365.24 287.62v2.3M365.21 288.77h2.3M366.36 287.62v2.3M366.33 287.09h2.3M367.48 285.94v2.3M367.46 285.04h2.3M368.61 283.89v2.3M368.58 283.32h2.3M369.73 282.17v2.3M369.7 281.32h2.3M370.85 280.17v2.3M370.83 279.1h2.3M371.98 277.95v2.3M371.95 276.34h2.3M373.1 275.19v2.3M373.07 273.53h2.3M374.22 272.38v2.3M374.2 270.57h2.3M375.35 269.42v2.3M375.32 264.11h2.3M376.47 262.96v2.3M376.44 258.76h2.3M377.59 257.61v2.3M377.57 266.16h2.3M378.72 265.01v2.3M378.69 272.8h2.3M379.84 271.65v2.3M379.81 277.53h2.3M380.96 276.38v2.3M380.94 280.91h2.3M382.09 279.76v2.3M382.06 282.85h2.3M383.21 281.7v2.3M383.18 285.19h2.3M384.33 284.04v2.3M384.31 288.01h2.3M385.46 286.86v2.3M385.43 289.93h2.3M386.58 288.78v2.3M386.55 291.04h2.3M387.7 289.89v2.3M387.68 292h2.3M388.83 290.85v2.3M388.8 292.7h2.3M389.95 291.55v2.3M389.92 293.2h2.3M391.07 292.05v2.3M391.05 293.6h2.3M392.2 292.45v2.3M392.17 293.83h2.3M393.32 292.68v2.3M393.29 293.89h2.3M394.44 292.74v2.3M394.42 293.66h2.3M395.57 292.51v2.3M395.54 293.3h2.3M396.69 292.15v2.3M396.66 292.92h2.3M397.81 291.77v2.3M397.79 292.92h2.3M398.94 291.77v2.3M398.91 292.81h2.3M400.06 291.66v2.3M400.03 292.46h2.3M401.18 291.31v2.3M401.16 291.39h2.3M402.31 290.24v2.3M402.28 289.93h2.3M403.43 288.78v2.3M403.4 290.48h2.3M404.55 289.33v2.3M404.53 292.52h2.3M405.68 291.37v2.3M405.65 294.44h2.3M406.8 293.29v2.3M406.77 296.18h2.3M407.92 295.03v2.3M407.9 297.29h2.3M409.05 296.14v2.3M409.02 298.22h2.3M410.17 297.07v2.3M410.14 298.98h2.3M411.29 297.83v2.3M411.27 299.73h2.3M412.42 298.58v2.3M412.39 300.45h2.3M413.54 299.3v2.3M413.51 301.01h2.3M414.66 299.86v2.3M414.64 301.55h2.3M415.79 300.4v2.3M415.76 302.07h2.3M416.91 300.92v2.3M416.88 302.97h2.3M418.03 301.82v2.3M418.01 303.98h2.3M419.16 302.83v2.3M419.13 304.62h2.3M420.28 303.47v2.3M420.25 305.16h2.3M421.4 304.01v2.3M421.38 305.21h2.3M422.53 304.06v2.3M422.5 304.95h2.3M423.65 303.8v2.3M423.62 305.08h2.3M424.77 303.93v2.3M424.75 305.78h2.3M425.9 304.63v2.3M425.87 304.92h2.3M427.02 303.77v2.3M426.99 303.55h2.3M428.14 302.4v2.3M428.12 302.33h2.3M429.27 301.18v2.3M429.24 301.22h2.3M430.39 300.07v2.3M430.36 302.46h2.3M431.51 301.31v2.3M431.49 303.62h2.3M432.64 302.47v2.3M432.61 303.93h2.3M433.76 302.78v2.3M433.73 304.3h2.3M434.88 303.15v2.3M434.86 305.4h2.3M436.01 304.25v2.3M435.98 306.69h2.3M437.13 305.54v2.3M437.1 308.14h2.3M438.25 306.99v2.3M438.23 308.63h2.3M439.38 307.48v2.3M439.35 308.94h2.3M440.5 307.79v2.3M440.47 308.83h2.3M441.62 307.68v2.3M441.6 308.52h2.3M442.75 307.37v2.3M442.72 308.51h2.3M443.87 307.36v2.3M443.84 308.82h2.3M444.99 307.67v2.3M444.97 309.06h2.3M446.12 307.91v2.3M446.09 309.13h2.3M447.24 307.98v2.3M447.21 309.2h2.3M448.36 308.05v2.3M448.34 309.47h2.3M449.49 308.32v2.3M449.46 309.93h2.3M450.61 308.78v2.3M450.58 310.4h2.3M451.73 309.25v2.3M451.71 310.23h2.3M452.86 309.08v2.3M452.83 309.91h2.3M453.98 308.76v2.3M453.95 309.62h2.3M455.1 308.47v2.3M455.08 309.62h2.3M456.23 308.47v2.3M456.2 309.62h2.3M457.35 308.47v2.3M457.32 309.66h2.3M458.47 308.51v2.3M458.45 309.81h2.3M459.6 308.66v2.3M459.57 309.95h2.3M460.72 308.8v2.3M460.69 310.2h2.3M461.84 309.05v2.3M461.82 310.52h2.3M462.97 309.37v2.3M462.94 310.84h2.3M464.09 309.69v2.3M464.06 311.5h2.3M465.21 310.35v2.3M465.19 312.03h2.3M466.34 310.88v2.3M466.31 312.03h2.3M467.46 310.88v2.3M467.43 312.05h2.3M468.58 310.9v2.3M468.56 312.31h2.3M469.71 311.16v2.3M469.68 312.58h2.3M470.83 311.43v2.3M470.8 312.79h2.3M471.95 311.64v2.3M471.93 312.99h2.3M473.08 311.84v2.3M473.05 313.2h2.3M474.2 312.05v2.3" stroke="#fa1428" stroke-width="1.2" fill="none"/>
<line x1="50" y1="189.7" x2="50" y2="322.0" stroke="#7a7a7a" stroke-width="1"/>
<line x1="47.5" y1="321.5" x2="495" y2="321.5" stroke="#444" stroke-width="1"/>
<line x1="48" y1="321.3" x2="50" y2="321.3" stroke="#777" stroke-width="0.8"/>
<text x="45.2" y="324.1" font-size="8.05" text-anchor="end" fill="#1c1c1c">0</text>
<line x1="48" y1="301.8" x2="50" y2="301.8" stroke="#777" stroke-width="0.8"/>
<text x="45.2" y="304.6" font-size="8.05" text-anchor="end" fill="#1c1c1c">10,000</text>
<line x1="48" y1="282.3" x2="50" y2="282.3" stroke="#777" stroke-width="0.8"/>
<text x="45.2" y="285.1" font-size="8.05" text-anchor="end" fill="#1c1c1c">20,000</text>
<line x1="48" y1="262.8" x2="50" y2="262.8" stroke="#777" stroke-width="0.8"/>
<text x="45.2" y="265.6" font-size="8.05" text-anchor="end" fill="#1c1c1c">30,000</text>
<line x1="48" y1="243.3" x2="50" y2="243.3" stroke="#777" stroke-width="0.8"/>
<text x="45.2" y="246.1" font-size="8.05" text-anchor="end" fill="#1c1c1c">40,000</text>
<line x1="48" y1="223.8" x2="50" y2="223.8" stroke="#777" stroke-width="0.8"/>
<text x="45.2" y="226.6" font-size="8.05" text-anchor="end" fill="#1c1c1c">50,000</text>
<line x1="48" y1="204.3" x2="50" y2="204.3" stroke="#777" stroke-width="0.8"/>
<text x="45.2" y="207.1" font-size="8.05" text-anchor="end" fill="#1c1c1c">60,000</text>
<line x1="69.8" y1="321.5" x2="69.8" y2="323.5" stroke="#888" stroke-width="0.8"/>
<text x="69.8" y="332" font-size="7.8" text-anchor="middle" fill="#1c1c1c">05 January 2005</text>
<line x1="170.9" y1="321.5" x2="170.9" y2="323.5" stroke="#888" stroke-width="0.8"/>
<text x="170.9" y="332" font-size="7.8" text-anchor="middle" fill="#1c1c1c">05 April 2005</text>
<line x1="272" y1="321.5" x2="272" y2="323.5" stroke="#888" stroke-width="0.8"/>
<text x="272" y="332" font-size="7.8" text-anchor="middle" fill="#1c1c1c">04 July 2005</text>
<line x1="373.1" y1="321.5" x2="373.1" y2="323.5" stroke="#888" stroke-width="0.8"/>
<text x="373.1" y="332" font-size="7.8" text-anchor="middle" fill="#1c1c1c">02 October 2005</text>
<line x1="474.2" y1="321.5" x2="474.2" y2="323.5" stroke="#888" stroke-width="0.8"/>
<text x="474.2" y="332" font-size="7.8" text-anchor="middle" fill="#1c1c1c">31 December 2005</text>
<text x="272.4" y="342" font-size="7.6" text-anchor="middle" fill="#1c1c1c">Time</text>
<text transform="translate(15.6,278.6) rotate(-90)" x="0" font-size="7.49" fill="#1c1c1c" >Runoff(</text>
<text transform="translate(15.6,278.6) rotate(-90)" x="26.78" font-size="7.49" fill="#1c1c1c" style="font-family:Liberation Serif;font-style:italic">m</text>
<text transform="translate(15.6,278.6) rotate(-90)" x="33.22" y="-2.13" font-size="4.99" fill="#1c1c1c">3</text>
<text transform="translate(15.6,278.6) rotate(-90)" x="36.86" font-size="7.49" fill="#1c1c1c" >/</text>
<text transform="translate(15.6,278.6) rotate(-90)" x="41.09" font-size="7.49" fill="#1c1c1c" style="font-family:Liberation Serif;font-style:italic">s</text>
<text transform="translate(15.6,278.6) rotate(-90)" x="44.45" font-size="7.49" fill="#1c1c1c" >)</text>
<rect x="278.2" y="192.9" width="15.4" height="5.3" fill="#a8c4e4"/>
<rect x="278.2" y="200.8" width="15.4" height="5.3" fill="#3289f0"/>
<rect x="392.2" y="192.9" width="15.4" height="5.3" fill="#1b62e4"/>
<path d="M393.1 203.45h3.2M394.7 201.85v3.2" stroke="#fa1428" stroke-width="1.2"/>
<path d="M398.3 203.45h3.2M399.9 201.85v3.2" stroke="#fa1428" stroke-width="1.2"/>
<path d="M403.6 203.45h3.2M405.2 201.85v3.2" stroke="#fa1428" stroke-width="1.2"/>
<text x="298.5" y="198.4" font-size="7.4" fill="#1c1c1c">90% confidence interval</text>
<text x="298.5" y="206.3" font-size="7.4" fill="#1c1c1c">85% confidence interval</text>
<text x="412.8" y="198.4" font-size="7.4" fill="#1c1c1c">80% confidence interval</text>
<text x="412.8" y="206.3" font-size="7.4" fill="#1c1c1c">Observed</text>
<text transform="translate(258.7,362.3) scale(0.92,1)" font-size="12" style="font-family:Liberation Serif;font-weight:bold" text-anchor="middle" fill="#111">(b)</text>
<path d="M72.8,491.19 L73.92,491.16 L75.04,491.13 L76.16,491.1 L77.28,491.07 L78.39,491.04 L79.51,491.01 L80,491 L80.63,491.04 L81.75,491.11 L82.87,491.18 L83.99,491.25 L85.11,491.32 L86.23,491.39 L87.35,491.46 L88,491.5 L88.46,491.55 L89.58,491.68 L90.7,491.81 L91.82,491.94 L92.94,492.06 L94.06,492.19 L95,492.3 L95.18,492.32 L96.3,492.44 L97.42,492.57 L98.53,492.69 L99.65,492.82 L100.4,492.9 L100.77,493 L101.89,493.29 L103.01,493.58 L104.13,493.87 L105.25,494.16 L105.8,494.3 L106.37,494.23 L107.49,494.08 L108.6,493.94 L109.72,493.79 L110.84,493.65 L111.2,493.6 L111.96,493.8 L113.08,494.09 L114.2,494.38 L115.32,494.67 L116.44,494.96 L116.6,495 L117.56,494.88 L118.67,494.73 L119.79,494.59 L120.91,494.44 L122,494.3 L122.03,494.29 L123.15,493.96 L124.27,493.62 L125.39,493.29 L126.51,492.96 L126.7,492.9 L127.63,491.05 L128.7,488.9 L128.74,488.97 L129.86,490.78 L130.8,492.3 L130.98,492.35 L132.1,492.66 L133.22,492.97 L134.34,493.28 L135.46,493.59 L135.5,493.6 L136.58,493.2 L137.7,492.79 L138.81,492.37 L139.93,491.96 L140.9,491.6 L141.05,491.38 L142.17,489.8 L143.29,488.21 L143.3,488.2 L144.41,491.14 L145.53,494.11 L145.6,494.3 L146.65,493.49 L147.77,492.63 L148.88,491.76 L150,490.9 L150,490.9 L151.12,490.7 L152.24,490.51 L153.36,490.32 L154.48,490.12 L154.6,490.1 L155.6,490.34 L156.72,490.61 L157.84,490.88 L158.95,491.15 L160,491.4 L160.07,491.38 L161.19,491.07 L162.31,490.75 L162.5,490.7 L163.43,490.48 L164.55,490.21 L165,490.1 L165.67,490.26 L166.79,490.53 L167.5,490.7 L167.91,490.51 L169.02,489.97 L170,489.5 L170.14,489.57 L171.26,490.11 L172.38,490.64 L172.5,490.7 L173.5,490.34 L174.62,489.94 L175,489.8 L175.74,490.27 L176.86,490.99 L177.5,491.4 L177.98,490.12 L179.09,487.12 L179.4,486.3 L180.21,484.46 L181.3,482 L181.33,481.94 L182.45,479.7 L182.6,479.4 L183.57,481.77 L184.4,483.8 L184.69,484.17 L185.81,485.6 L186.9,487 L186.93,487.01 L188.05,487.64 L189.16,488.27 L190.1,488.8 L190.28,488.88 L191.4,489.35 L192.52,489.82 L193.2,490.1 L193.64,489.77 L194.76,488.92 L195.7,488.2 L195.88,488.38 L197,489.5 L197.6,490.1 L198.12,487.95 L198.8,485.1 L199.23,484.07 L200.35,481.41 L200.4,481.3 L201.47,485.12 L202,487 L202.59,486.41 L203.71,485.29 L203.9,485.1 L204.83,483.24 L205.95,481 L206.4,480.1 L207.07,478.42 L208.19,475.6 L208.9,473.8 L209.3,472.61 L210.4,469.4 L210.42,469.48 L211.54,473.47 L212,475.1 L212.66,476.58 L213.78,479.09 L214.5,480.7 L214.9,481.22 L216.02,482.7 L216.4,483.2 L217.14,482.46 L218.26,481.34 L218.3,481.3 L219.37,478.47 L220.2,476.3 L220.49,475.93 L221.61,474.5 L222,474 L222.73,472.93 L223.3,472.1 L223.85,471.53 L224.97,470.36 L225.8,469.5 L226.09,469.7 L227.21,470.46 L227.7,470.8 L228.33,468.35 L229,465.7 L229.44,463.53 L230.56,458.07 L230.7,457.4 L231.5,467 L231.68,466.76 L232.8,465.31 L233.5,464.4 L233.92,464.86 L234.7,465.7 L235.04,466.38 L236,468.3 L236.16,467.37 L237.28,460.74 L237.3,460.6 L238.3,451.7 L238.4,452.1 L239.2,455.5 L239.51,454.01 L240.63,448.69 L240.8,447.9 L241.7,450.4 L241.75,450.27 L242.7,447.9 L242.87,446.82 L243.9,440.3 L243.99,441.21 L244.9,450.4 L245.11,453.07 L246.2,467 L246.23,466.76 L247.35,457.25 L247.4,456.8 L248.47,447.6 L248.5,447.3 L249.58,458.23 L249.7,459.4 L250.7,461.78 L251.3,463.2 L251.82,464.6 L252.94,467.61 L253.2,468.3 L254.06,469.43 L255.1,470.8 L255.18,470.78 L256.3,470.42 L257,470.2 L257.42,469.91 L258.54,469.15 L258.9,468.9 L259.65,468.9 L260.77,468.9 L260.8,468.9 L261.89,470.34 L262.7,471.4 L263.01,471.71 L264.13,472.83 L264.6,473.3 L265.25,470.7 L266.37,466.23 L266.5,465.7 L267.49,463.73 L268.1,462.5 L268.61,460.9 L269.3,458.7 L269.72,459.82 L270.84,462.79 L271,463.2 L271.6,465.2 L271.96,463.45 L273.08,458.06 L273.3,457 L274.2,452.73 L275.32,447.41 L275.7,445.6 L276.44,441.69 L277.4,436.6 L277.56,437.64 L278.5,443.9 L278.68,441.36 L279.79,425.17 L280.2,419.3 L280.91,408.38 L281.8,394.8 L282.03,396.55 L283.1,404.6 L283.15,405.24 L284.27,419.26 L284.8,425.9 L285.39,433.15 L286.4,445.6 L286.51,446.09 L287.6,451 L287.63,451.04 L288.75,452.56 L289.8,454 L289.86,453.75 L290.98,449.42 L291.3,448.2 L292.1,449.8 L292.7,451 L293.22,439.88 L294.2,419 L294.34,417.41 L295.46,404.7 L295.6,403.1 L296.58,413.46 L297.1,419 L297.7,427.1 L298.5,438 L298.82,439.86 L299.93,446.48 L300.7,451 L301.05,452.06 L302.17,455.42 L302.2,455.5 L303.29,449.81 L303.6,448.2 L304.41,441.88 L305.1,436.5 L305.53,435.4 L306.5,432.9 L306.65,433.4 L307.77,437.21 L308,438 L308.89,438.89 L309.5,439.5 L310,438.61 L311.12,436.64 L311.6,435.8 L312.24,437.98 L313.1,440.9 L313.36,441.44 L314.48,443.76 L314.5,443.8 L315.6,445.92 L316,446.7 L316.72,440.08 L317.84,429.75 L318.2,426.4 L318.96,417.37 L320.07,404 L320.2,402.5 L321.19,405.55 L321.6,406.8 L322.31,409.22 L323.1,411.9 L323.43,410.92 L324.55,407.62 L325.3,405.4 L325.67,407.69 L326.7,414.1 L326.79,413.76 L327.91,409.43 L328.2,408.3 L329.03,405.56 L330.14,401.85 L330.4,401 L331.26,409.08 L331.8,414.1 L332.38,421.44 L333.3,433 L333.5,435.3 L334.62,448.09 L334.7,449 L335.74,429.88 L336.2,421.4 L336.86,410.12 L337.6,397.4 L337.98,397.4 L339.1,397.4 L339.1,397.4 L340.21,402.57 L340.5,403.9 L341.33,413.62 L342,421.4 L342.45,424.09 L343.57,430.76 L344.2,434.5 L344.69,436.44 L345.81,440.86 L346.4,443.2 L346.93,443.93 L348.05,445.47 L348.5,446.1 L349.17,446.1 L350.28,446.1 L350.7,446.1 L351.4,446.55 L352.52,447.26 L352.9,447.5 L353.64,448.98 L354.76,451.22 L355.1,451.9 L355.88,453.46 L357,455.7 L358,457.7 L358.12,457.95 L359.24,460.36 L360,462 L360.35,462.88 L361.47,465.65 L362.5,468.2 L362.59,468.03 L363.71,465.97 L364.83,463.91 L365,463.6 L365.95,463.1 L367.07,462.52 L367.3,462.4 L368.19,464.21 L369.31,466.5 L369.6,467.1 L370.42,464.2 L371.54,460.26 L371.9,459 L372.66,456.68 L373.78,453.27 L374.2,452 L374.9,450.31 L376.02,447.6 L376.6,446.2 L377.14,444.05 L378.26,439.57 L378.9,437 L379.38,434.66 L380.3,430.1 L380.49,431.82 L381.6,441.6 L381.61,441.69 L382.73,449.17 L383.5,454.3 L383.85,455.19 L384.97,458.01 L385.8,460.1 L386.09,460.83 L387.21,463.65 L388.1,465.9 L388.33,466.13 L389.45,467.25 L390.56,468.36 L391.6,469.4 L391.68,469.43 L392.8,469.78 L393.92,470.13 L395.04,470.48 L395.1,470.5 L396.16,470.5 L397.28,470.5 L398.4,470.5 L399.52,470.5 L399.7,470.5 L400.63,470.21 L401.75,469.85 L402.87,469.5 L403.2,469.4 L403.99,468.48 L405.11,467.17 L406.2,465.9 L406.23,465.95 L407.35,467.86 L408.47,469.76 L408.9,470.5 L409.59,471.64 L410.7,473.49 L411.82,475.34 L412.4,476.3 L412.94,476.84 L414.06,477.96 L415.18,479.08 L416.3,480.2 L417,480.9 L417.42,481.22 L418.54,482.07 L419.66,482.92 L420.77,483.77 L421.6,484.4 L421.89,484.49 L423.01,484.84 L424.13,485.2 L425.1,485.5 L425.25,485.4 L426.37,484.67 L427.49,483.93 L428.6,483.2 L428.61,483.19 L429.73,482.11 L430.84,481.02 L431.96,479.93 L432.1,479.8 L433.08,481.13 L434.2,482.64 L435.32,484.16 L435.5,484.4 L436.44,484.87 L437.56,485.43 L438.68,485.99 L439.8,486.55 L440.1,486.7 L440.91,486.91 L442.03,487.19 L443.15,487.48 L444.27,487.76 L444.8,487.9 L445.39,488.01 L446.51,488.23 L447.63,488.45 L448.75,488.66 L449.87,488.88 L450.5,489 L450.98,489 L452.1,489 L453.22,489 L454.34,489 L455.46,489 L456.58,489 L457.5,489 L457.7,489 L458.82,489 L459.94,489 L461.05,489 L462.17,489 L463.29,489 L464.4,489 L464.41,489 L465.53,489.45 L466.65,489.89 L467.77,490.34 L468.89,490.78 L470.01,491.22 L470.2,491.3 L471.12,491.7 L472.24,492.19 L473.36,492.67 L474.48,493.16 L475.5,493.6 L475.6,493.6 L475.6,503.2 L475.5,503.2 L474.48,503.2 L473.36,503.2 L472.24,503.2 L471.12,503.2 L470.2,503.2 L470.01,503.2 L468.89,503.2 L467.77,503.2 L466.65,503.2 L465.53,503.2 L464.41,503.2 L464.4,503.2 L463.29,503.2 L462.17,503.2 L461.05,503.2 L459.94,503.2 L458.82,503.2 L457.7,503.2 L457.5,503.2 L456.58,503.2 L455.46,503.2 L454.34,503.2 L453.22,503.2 L452.1,503.2 L450.98,503.2 L450.5,503.2 L449.87,503.2 L448.75,503.2 L447.63,503.2 L446.51,503.2 L445.39,503.2 L444.8,503.2 L444.27,503.2 L443.15,503.2 L442.03,503.2 L440.91,503.2 L440.1,503.2 L439.8,503.2 L438.68,503.2 L437.56,503.2 L436.44,503.2 L435.5,503.2 L435.32,503.2 L434.2,503.2 L433.08,503.2 L432.1,503.2 L431.96,503.2 L430.84,503.2 L429.73,503.2 L428.61,503.2 L428.6,503.2 L427.49,503.2 L426.37,503.2 L425.25,503.2 L425.1,503.2 L424.13,503.2 L423.01,503.2 L421.89,503.2 L421.6,503.2 L420.77,503.2 L419.66,503.2 L418.54,503.2 L417.42,503.2 L417,503.2 L416.3,503.2 L415.18,503.2 L414.06,503.2 L412.94,503.2 L412.4,503.2 L411.82,503.2 L410.7,503.2 L409.59,503.2 L408.9,503.2 L408.47,503.2 L407.35,503.2 L406.23,503.2 L406.2,503.2 L405.11,503.2 L403.99,503.2 L403.2,503.2 L402.87,503.2 L401.75,503.2 L400.63,503.2 L399.7,503.2 L399.52,503.2 L398.4,503.2 L397.28,503.2 L396.16,503.2 L395.1,503.2 L395.04,503.2 L393.92,503.2 L392.8,503.2 L391.68,503.2 L391.6,503.2 L390.56,503.2 L389.45,503.2 L388.33,503.2 L388.1,503.2 L387.21,503.2 L386.09,503.2 L385.8,503.2 L384.97,503.2 L383.85,503.2 L383.5,503.2 L382.73,503.2 L381.61,503.2 L381.6,503.2 L380.49,503.2 L380.3,503.2 L379.38,503.2 L378.9,503.2 L378.26,503.2 L377.14,503.2 L376.6,503.2 L376.02,503.2 L374.9,503.2 L374.2,503.2 L373.78,503.2 L372.66,503.2 L371.9,503.2 L371.54,503.2 L370.42,503.2 L369.6,503.2 L369.31,503.2 L368.19,503.2 L367.3,503.2 L367.07,503.2 L365.95,503.2 L365,503.2 L364.83,503.2 L363.71,503.2 L362.59,503.2 L362.5,503.2 L361.47,503.2 L360.35,503.2 L360,503.2 L359.24,503.2 L358.12,503.2 L358,503.2 L357,503.2 L355.88,503.2 L355.1,503.2 L354.76,503.2 L353.64,503.2 L352.9,503.2 L352.52,503.2 L351.4,503.2 L350.7,503.2 L350.28,503.2 L349.17,503.2 L348.5,503.2 L348.05,503.2 L346.93,503.2 L346.4,503.2 L345.81,503.2 L344.69,503.2 L344.2,503.2 L343.57,503.2 L342.45,503.2 L342,503.2 L341.33,503.2 L340.5,503.2 L340.21,503.2 L339.1,503.2 L339.1,503.2 L337.98,503.2 L337.6,503.2 L336.86,503.2 L336.2,503.2 L335.74,503.2 L334.7,503.2 L334.62,503.2 L333.5,503.2 L333.3,503.2 L332.38,503.2 L331.8,503.2 L331.26,503.2 L330.4,503.2 L330.14,503.2 L329.03,503.2 L328.2,503.2 L327.91,503.2 L326.79,503.2 L326.7,503.2 L325.67,503.2 L325.3,503.2 L324.55,503.2 L323.43,503.2 L323.1,503.2 L322.31,503.2 L321.6,503.2 L321.19,503.2 L320.2,503.2 L320.07,503.2 L318.96,503.2 L318.2,503.2 L317.84,503.2 L316.72,503.2 L316,503.2 L315.6,503.2 L314.5,503.2 L314.48,503.2 L313.36,503.2 L313.1,503.2 L312.24,503.2 L311.6,503.2 L311.12,503.2 L310,503.2 L309.5,503.2 L308.89,503.2 L308,503.2 L307.77,503.2 L306.65,503.2 L306.5,503.2 L305.53,503.2 L305.1,503.2 L304.41,503.2 L303.6,503.2 L303.29,503.2 L302.2,503.2 L302.17,503.2 L301.05,503.2 L300.7,503.2 L299.93,503.2 L298.82,503.2 L298.5,503.2 L297.7,503.2 L297.1,503.2 L296.58,503.2 L295.6,503.2 L295.46,503.2 L294.34,503.2 L294.2,503.2 L293.22,503.2 L292.7,503.2 L292.1,503.2 L291.3,503.2 L290.98,503.2 L289.86,503.2 L289.8,503.2 L288.75,503.2 L287.63,503.2 L287.6,503.2 L286.51,503.2 L286.4,503.2 L285.39,503.2 L284.8,503.2 L284.27,503.2 L283.15,503.2 L283.1,503.2 L282.03,503.2 L281.8,503.2 L280.91,503.2 L280.2,503.2 L279.79,503.2 L278.68,503.2 L278.5,503.2 L277.56,503.2 L277.4,503.2 L276.44,503.2 L275.7,503.2 L275.32,503.2 L274.2,503.2 L273.3,503.2 L273.08,503.2 L271.96,503.2 L271.6,503.2 L271,503.2 L270.84,503.2 L269.72,503.2 L269.3,503.2 L268.61,503.2 L268.1,503.2 L267.49,503.2 L266.5,503.2 L266.37,503.2 L265.25,503.2 L264.6,503.2 L264.13,503.2 L263.01,503.2 L262.7,503.2 L261.89,503.2 L260.8,503.2 L260.77,503.2 L259.65,503.2 L258.9,503.2 L258.54,503.2 L257.42,503.2 L257,503.2 L256.3,503.2 L255.18,503.2 L255.1,503.2 L254.06,503.2 L253.2,503.2 L252.94,503.2 L251.82,503.2 L251.3,503.2 L250.7,503.2 L249.7,503.2 L249.58,503.2 L248.5,503.2 L248.47,503.2 L247.4,503.2 L247.35,503.2 L246.23,503.2 L246.2,503.2 L245.11,503.2 L244.9,503.2 L243.99,503.2 L243.9,503.2 L242.87,503.2 L242.7,503.2 L241.75,503.2 L241.7,503.2 L240.8,503.2 L240.63,503.2 L239.51,503.2 L239.2,503.2 L238.4,503.2 L238.3,503.2 L237.3,503.2 L237.28,503.2 L236.16,503.2 L236,503.2 L235.04,503.2 L234.7,503.2 L233.92,503.2 L233.5,503.2 L232.8,503.2 L231.68,503.2 L231.5,503.2 L230.7,503.2 L230.56,503.2 L229.44,503.2 L229,503.2 L228.33,503.2 L227.7,503.2 L227.21,503.2 L226.09,503.2 L225.8,503.2 L224.97,503.2 L223.85,503.2 L223.3,503.2 L222.73,503.2 L222,503.2 L221.61,503.2 L220.49,503.2 L220.2,503.2 L219.37,503.2 L218.3,503.2 L218.26,503.2 L217.14,503.2 L216.4,503.2 L216.02,503.2 L214.9,503.2 L214.5,503.2 L213.78,503.2 L212.66,503.2 L212,503.2 L211.54,503.2 L210.42,503.2 L210.4,503.2 L209.3,503.2 L208.9,503.2 L208.19,503.2 L207.07,503.2 L206.4,503.2 L205.95,503.2 L204.83,503.2 L203.9,503.2 L203.71,503.2 L202.59,503.2 L202,503.2 L201.47,503.2 L200.4,503.2 L200.35,503.2 L199.23,503.2 L198.8,503.2 L198.12,503.2 L197.6,503.2 L197,503.2 L195.88,503.2 L195.7,503.2 L194.76,503.2 L193.64,503.2 L193.2,503.2 L192.52,503.2 L191.4,503.2 L190.28,503.2 L190.1,503.2 L189.16,503.2 L188.05,503.2 L186.93,503.2 L186.9,503.2 L185.81,503.2 L184.69,503.2 L184.4,503.2 L183.57,503.2 L182.6,503.2 L182.45,503.2 L181.33,503.2 L181.3,503.2 L180.21,503.2 L179.4,503.2 L179.09,503.2 L177.98,503.2 L177.5,503.2 L176.86,503.2 L175.74,503.2 L175,503.2 L174.62,503.2 L173.5,503.2 L172.5,503.2 L172.38,503.2 L171.26,503.2 L170.14,503.2 L170,503.2 L169.02,503.2 L167.91,503.2 L167.5,503.2 L166.79,503.2 L165.67,503.2 L165,503.2 L164.55,503.2 L163.43,503.2 L162.5,503.2 L162.31,503.2 L161.19,503.2 L160.07,503.2 L160,503.2 L158.95,503.2 L157.84,503.2 L156.72,503.2 L155.6,503.2 L154.6,503.2 L154.48,503.2 L153.36,503.2 L152.24,503.2 L151.12,503.2 L150,503.2 L150,503.2 L148.88,503.2 L147.77,503.2 L146.65,503.2 L145.6,503.2 L145.53,503.2 L144.41,503.2 L143.3,503.2 L143.29,503.2 L142.17,503.2 L141.05,503.2 L140.9,503.2 L139.93,503.2 L138.81,503.2 L137.7,503.2 L136.58,503.2 L135.5,503.2 L135.46,503.2 L134.34,503.2 L133.22,503.2 L132.1,503.2 L130.98,503.2 L130.8,503.2 L129.86,503.2 L128.74,503.2 L128.7,503.2 L127.63,503.2 L126.7,503.2 L126.51,503.2 L125.39,503.2 L124.27,503.2 L123.15,503.2 L122.03,503.2 L122,503.2 L120.91,503.2 L119.79,503.2 L118.67,503.2 L117.56,503.2 L116.6,503.2 L116.44,503.2 L115.32,503.2 L114.2,503.2 L113.08,503.2 L111.96,503.2 L111.2,503.2 L110.84,503.2 L109.72,503.2 L108.6,503.2 L107.49,503.2 L106.37,503.2 L105.8,503.2 L105.25,503.2 L104.13,503.2 L103.01,503.2 L101.89,503.2 L100.77,503.2 L100.4,503.2 L99.65,503.2 L98.53,503.2 L97.42,503.2 L96.3,503.2 L95.18,503.2 L95,503.2 L94.06,503.2 L92.94,503.2 L91.82,503.2 L90.7,503.2 L89.58,503.2 L88.46,503.2 L88,503.2 L87.35,503.2 L86.23,503.2 L85.11,503.2 L83.99,503.2 L82.87,503.2 L81.75,503.2 L80.63,503.2 L80,503.2 L79.51,503.2 L78.39,503.2 L77.28,503.2 L76.16,503.2 L75.04,503.2 L73.92,503.2 L72.8,503.2Z" fill="#a8c4e4"/>
<path d="M72.8,492.83 L73.92,492.79 L75.04,492.74 L76.16,492.7 L77.28,492.66 L78.39,492.69 L79.51,492.71 L80,492.72 L80.63,492.78 L81.75,492.79 L82.87,492.8 L83.99,492.81 L85.11,492.87 L86.23,492.94 L87.35,493.01 L88,493.05 L88.46,493.1 L89.58,493.21 L90.7,493.32 L91.82,493.43 L92.94,493.53 L94.06,493.64 L95,493.73 L95.18,493.75 L96.3,493.86 L97.42,493.97 L98.53,494.08 L99.65,494.19 L100.4,494.26 L100.77,494.35 L101.89,494.59 L103.01,494.83 L104.13,495.07 L105.25,495.32 L105.8,495.44 L106.37,495.38 L107.49,495.25 L108.6,495.12 L109.72,494.98 L110.84,494.84 L111.2,494.81 L111.96,494.98 L113.08,495.25 L114.2,495.52 L115.32,495.79 L116.44,496.03 L116.6,496.06 L117.56,495.96 L118.67,495.84 L119.79,495.72 L120.91,495.6 L122,495.46 L122.03,495.46 L123.15,495.16 L124.27,494.86 L125.39,494.56 L126.51,494.25 L126.7,494.18 L127.63,492.63 L128.7,490.81 L128.74,490.86 L129.86,492.41 L130.8,493.66 L130.98,493.71 L132.1,494 L133.22,494.3 L134.34,494.6 L135.46,494.82 L135.5,494.83 L136.58,494.47 L137.7,494.11 L138.81,493.74 L139.93,493.38 L140.9,493.06 L141.05,492.89 L142.17,491.52 L143.29,490.26 L143.3,490.25 L144.41,492.77 L145.53,495.12 L145.6,495.27 L146.65,494.57 L147.77,493.84 L148.88,493.11 L150,492.39 L150,492.39 L151.12,492.26 L152.24,492.15 L153.36,492.04 L154.48,491.87 L154.6,491.85 L155.6,492.02 L156.72,492.22 L157.84,492.47 L158.95,492.73 L160,492.98 L160.07,492.97 L161.19,492.7 L162.31,492.42 L162.5,492.37 L163.43,492.17 L164.55,491.95 L165,491.87 L165.67,492 L166.79,492.23 L167.5,492.35 L167.91,492.18 L169.02,491.71 L170,491.3 L170.14,491.35 L171.26,491.79 L172.38,492.25 L172.5,492.3 L173.5,492.04 L174.62,491.74 L175,491.63 L175.74,492.02 L176.86,492.53 L177.5,492.78 L177.98,491.71 L179.09,489.1 L179.4,488.4 L180.21,486.8 L181.3,484.71 L181.33,484.65 L182.45,482.97 L182.6,482.75 L183.57,484.74 L184.4,486.42 L184.69,486.74 L185.81,487.97 L186.9,489.12 L186.93,489.13 L188.05,489.67 L189.16,490.21 L190.1,490.67 L190.28,490.74 L191.4,491.16 L192.52,491.51 L193.2,491.72 L193.64,491.44 L194.76,490.76 L195.7,490.21 L195.88,490.35 L197,491.2 L197.6,491.6 L198.12,489.82 L198.8,487.47 L199.23,486.59 L200.35,484.46 L200.4,484.37 L201.47,487.57 L202,489.07 L202.59,488.6 L203.71,487.68 L203.9,487.51 L204.83,485.93 L205.95,484.01 L206.4,483.22 L207.07,481.77 L208.19,479.34 L208.9,477.69 L209.3,476.63 L210.4,474.12 L210.42,474.19 L211.54,477.52 L212,478.88 L212.66,480.15 L213.78,482.29 L214.5,483.64 L214.9,484.09 L216.02,485.36 L216.4,485.76 L217.14,485.17 L218.26,484.22 L218.3,484.17 L219.37,481.77 L220.2,479.98 L220.49,479.67 L221.61,478.48 L222,478.05 L222.73,477.13 L223.3,476.4 L223.85,475.88 L224.97,474.86 L225.8,474.11 L226.09,474.25 L227.21,474.68 L227.7,474.9 L228.33,472.87 L229,470.53 L229.44,468.64 L230.56,464.43 L230.7,463.92 L231.5,471.73 L231.68,471.57 L232.8,470.37 L233.5,469.54 L233.92,469.84 L234.7,470.58 L235.04,471.16 L236,472.65 L236.16,471.9 L237.28,466.06 L237.3,465.95 L238.3,458.95 L238.4,459.29 L239.2,461.66 L239.51,460.32 L240.63,455.95 L240.8,455.33 L241.7,457.4 L241.75,457.3 L242.7,455.07 L242.87,454.14 L243.9,449.69 L243.99,450.49 L244.9,458.12 L245.11,460.32 L246.2,471.67 L246.23,471.48 L247.35,463.04 L247.4,462.7 L248.47,455.66 L248.5,455.43 L249.58,464.35 L249.7,465.3 L250.7,467.36 L251.3,468.6 L251.82,469.81 L252.94,472.46 L253.2,473.04 L254.06,474.01 L255.1,475.13 L255.18,475.12 L256.3,474.83 L257,474.63 L257.42,474.39 L258.54,473.74 L258.9,473.52 L259.65,473.47 L260.77,473.44 L260.8,473.44 L261.89,474.61 L262.7,475.53 L263.01,475.8 L264.13,476.78 L264.6,477.11 L265.25,474.98 L266.37,471.04 L266.5,470.59 L267.49,468.82 L268.1,467.81 L268.61,466.5 L269.3,464.79 L269.72,465.73 L270.84,468.2 L271,468.54 L271.6,470.19 L271.96,468.83 L273.08,464.24 L273.3,463.34 L274.2,459.69 L275.32,455.11 L275.7,453.43 L276.44,449.85 L277.4,445.68 L277.56,446.5 L278.5,451.66 L278.68,449.65 L279.79,436.58 L280.2,431.52 L280.91,422.14 L281.8,409.73 L282.03,410.73 L283.1,417.64 L283.15,418.18 L284.27,430.15 L284.8,435.96 L285.39,442.32 L286.4,453.02 L286.51,453.49 L287.6,457.87 L287.63,457.91 L288.75,459.2 L289.8,460.26 L289.86,460.05 L290.98,456.46 L291.3,455.43 L292.1,456.57 L292.7,457.29 L293.22,448.18 L294.2,430.57 L294.34,429.17 L295.46,417.91 L295.6,416.62 L296.58,424.87 L297.1,429.7 L297.7,436.64 L298.5,445.92 L298.82,447.63 L299.93,453.49 L300.7,457.42 L301.05,458.41 L302.17,461.33 L302.2,461.39 L303.29,456.71 L303.6,455.32 L304.41,450.01 L305.1,445.49 L305.53,444.47 L306.5,442.36 L306.65,442.75 L307.77,445.83 L308,446.52 L308.89,447.44 L309.5,447.89 L310,447.15 L311.12,445.44 L311.6,444.72 L312.24,446.39 L313.1,448.98 L313.36,449.49 L314.48,451.57 L314.5,451.6 L315.6,453.36 L316,453.76 L316.72,448.06 L317.84,438.56 L318.2,435.63 L318.96,427.89 L320.07,417.2 L320.2,416 L321.19,418.45 L321.6,419.45 L322.31,421.37 L323.1,423.48 L323.43,422.69 L324.55,420 L325.3,418.29 L325.67,420.16 L326.7,425.44 L326.79,425.18 L327.91,421.6 L328.2,420.64 L329.03,418.28 L330.14,415.23 L330.4,414.64 L331.26,421.41 L331.8,425.75 L332.38,431.97 L333.3,441.76 L333.5,443.72 L334.62,454.24 L334.7,454.96 L335.74,439.43 L336.2,432.15 L336.86,422.42 L337.6,411.74 L337.98,411.48 L339.1,411.56 L339.1,411.56 L340.21,416.14 L340.5,417.34 L341.33,425.51 L342,432.07 L342.45,434.45 L343.57,440.27 L344.2,443.47 L344.69,445.18 L345.81,449.06 L346.4,451.06 L346.93,451.75 L348.05,453.16 L348.5,453.66 L349.17,453.66 L350.28,453.7 L350.7,453.73 L351.4,454.14 L352.52,454.83 L352.9,455.07 L353.64,456.36 L354.76,458.37 L355.1,458.98 L355.88,460.38 L357,462.39 L358,464.12 L358.12,464.33 L359.24,466.4 L360,467.81 L360.35,468.55 L361.47,470.89 L362.5,473.01 L362.59,472.88 L363.71,471.21 L364.83,469.43 L365,469.16 L365.95,468.65 L367.07,468.1 L367.3,468.01 L368.19,469.46 L369.31,471.15 L369.6,471.59 L370.42,469.15 L371.54,465.87 L371.9,464.81 L372.66,462.85 L373.78,459.95 L374.2,458.85 L374.9,457.36 L376.02,454.98 L376.6,453.73 L377.14,451.9 L378.26,447.81 L378.9,445.51 L379.38,443.46 L380.3,440.29 L380.49,441.77 L381.6,450.11 L381.61,450.19 L382.73,456.54 L383.5,460.83 L383.85,461.62 L384.97,464.03 L385.8,465.84 L386.09,466.47 L387.21,468.95 L388.1,470.87 L388.33,471.08 L389.45,472.06 L390.56,473.03 L391.6,473.91 L391.68,473.94 L392.8,474.26 L393.92,474.57 L395.04,474.87 L395.1,474.89 L396.16,474.89 L397.28,474.87 L398.4,474.84 L399.52,474.81 L399.7,474.81 L400.63,474.58 L401.75,474.29 L402.87,473.98 L403.2,473.87 L403.99,473.07 L405.11,471.92 L406.2,470.94 L406.23,470.98 L407.35,472.67 L408.47,474.34 L408.9,474.99 L409.59,475.98 L410.7,477.55 L411.82,479.1 L412.4,479.9 L412.94,480.36 L414.06,481.32 L415.18,482.27 L416.3,483.21 L417,483.79 L417.42,484.06 L418.54,484.79 L419.66,485.54 L420.77,486.3 L421.6,486.84 L421.89,486.93 L423.01,487.25 L424.13,487.53 L425.1,487.76 L425.25,487.68 L426.37,487.1 L427.49,486.57 L428.6,485.92 L428.61,485.91 L429.73,484.93 L430.84,483.97 L431.96,483.01 L432.1,482.92 L433.08,484.06 L434.2,485.37 L435.32,486.6 L435.5,486.8 L436.44,487.2 L437.56,487.74 L438.68,488.28 L439.8,488.85 L440.1,488.98 L440.91,489.17 L442.03,489.42 L443.15,489.65 L444.27,489.85 L444.8,489.96 L445.39,490.05 L446.51,490.24 L447.63,490.44 L448.75,490.61 L449.87,490.79 L450.5,490.9 L450.98,490.91 L452.1,490.95 L453.22,490.98 L454.34,490.97 L455.46,490.95 L456.58,490.92 L457.5,490.92 L457.7,490.92 L458.82,490.92 L459.94,490.93 L461.05,490.94 L462.17,490.95 L463.29,490.97 L464.4,490.99 L464.41,491 L465.53,491.38 L466.65,491.78 L467.77,492.18 L468.89,492.54 L470.01,492.89 L470.2,492.96 L471.12,493.3 L472.24,493.71 L473.36,494.11 L474.48,494.51 L475.5,494.88 L475.6,494.88 L475.6,503.14 L475.5,503.14 L474.48,503.13 L473.36,503.13 L472.24,503.13 L471.12,503.13 L470.2,503.13 L470.01,503.13 L468.89,503.13 L467.77,503.13 L466.65,503.12 L465.53,503.12 L464.41,503.12 L464.4,503.12 L463.29,503.11 L462.17,503.11 L461.05,503.11 L459.94,503.11 L458.82,503.11 L457.7,503.11 L457.5,503.11 L456.58,503.11 L455.46,503.11 L454.34,503.11 L453.22,503.11 L452.1,503.11 L450.98,503.11 L450.5,503.11 L449.87,503.11 L448.75,503.1 L447.63,503.1 L446.51,503.1 L445.39,503.1 L444.8,503.1 L444.27,503.1 L443.15,503.1 L442.03,503.1 L440.91,503.1 L440.1,503.1 L439.8,503.1 L438.68,503.09 L437.56,503.08 L436.44,503.07 L435.5,503.06 L435.32,503.06 L434.2,503.06 L433.08,503.05 L432.1,503.04 L431.96,503.04 L430.84,503.05 L429.73,503.06 L428.61,503.07 L428.6,503.07 L427.49,503.08 L426.37,503.07 L425.25,503.07 L425.1,503.07 L424.13,503.07 L423.01,503.07 L421.89,503.07 L421.6,503.07 L420.77,503.06 L419.66,503.06 L418.54,503.05 L417.42,503.05 L417,503.04 L416.3,503.04 L415.18,503.04 L414.06,503.03 L412.94,503.02 L412.4,503.02 L411.82,503.02 L410.7,503.01 L409.59,503 L408.9,502.99 L408.47,502.99 L407.35,502.97 L406.23,502.96 L406.2,502.96 L405.11,502.95 L403.99,502.97 L403.2,502.97 L402.87,502.97 L401.75,502.98 L400.63,502.98 L399.7,502.98 L399.52,502.98 L398.4,502.98 L397.28,502.98 L396.16,502.98 L395.1,502.98 L395.04,502.98 L393.92,502.98 L392.8,502.98 L391.68,502.98 L391.6,502.98 L390.56,502.97 L389.45,502.96 L388.33,502.95 L388.1,502.95 L387.21,502.94 L386.09,502.92 L385.8,502.91 L384.97,502.9 L383.85,502.88 L383.5,502.87 L382.73,502.86 L381.61,502.82 L381.6,502.82 L380.49,502.77 L380.3,502.76 L379.38,502.71 L378.9,502.73 L378.26,502.75 L377.14,502.8 L376.6,502.81 L376.02,502.83 L374.9,502.85 L374.2,502.86 L373.78,502.87 L372.66,502.89 L371.9,502.9 L371.54,502.9 L370.42,502.92 L369.6,502.93 L369.31,502.93 L368.19,502.94 L367.3,502.94 L367.07,502.94 L365.95,502.95 L365,502.96 L364.83,502.97 L363.71,502.98 L362.59,502.98 L362.5,502.98 L361.47,502.97 L360.35,502.96 L360,502.96 L359.24,502.95 L358.12,502.93 L358,502.93 L357,502.92 L355.88,502.9 L355.1,502.88 L354.76,502.88 L353.64,502.85 L352.9,502.84 L352.52,502.84 L351.4,502.83 L350.7,502.82 L350.28,502.82 L349.17,502.81 L348.5,502.81 L348.05,502.81 L346.93,502.8 L346.4,502.79 L345.81,502.77 L344.69,502.74 L344.2,502.72 L343.57,502.7 L342.45,502.65 L342,502.63 L341.33,502.6 L340.5,502.56 L340.21,502.54 L339.1,502.5 L339.1,502.5 L337.98,502.49 L337.6,502.52 L336.86,502.57 L336.2,502.64 L335.74,502.69 L334.7,502.71 L334.62,502.71 L333.5,502.68 L333.3,502.67 L332.38,502.62 L331.8,502.58 L331.26,502.55 L330.4,502.52 L330.14,502.51 L329.03,502.52 L328.2,502.54 L327.91,502.54 L326.79,502.55 L326.7,502.55 L325.67,502.54 L325.3,502.53 L324.55,502.53 L323.43,502.53 L323.1,502.53 L322.31,502.54 L321.6,502.54 L321.19,502.54 L320.2,502.54 L320.07,502.54 L318.96,502.53 L318.2,502.59 L317.84,502.61 L316.72,502.74 L316,502.78 L315.6,502.8 L314.5,502.79 L314.48,502.79 L313.36,502.77 L313.1,502.76 L312.24,502.74 L311.6,502.74 L311.12,502.75 L310,502.76 L309.5,502.77 L308.89,502.77 L308,502.75 L307.77,502.74 L306.65,502.74 L306.5,502.74 L305.53,502.75 L305.1,502.76 L304.41,502.79 L303.6,502.81 L303.29,502.82 L302.2,502.84 L302.17,502.84 L301.05,502.81 L300.7,502.8 L299.93,502.77 L298.82,502.71 L298.5,502.69 L297.7,502.63 L297.1,502.59 L296.58,502.55 L295.6,502.55 L295.46,502.55 L294.34,502.66 L294.2,502.67 L293.22,502.76 L292.7,502.78 L292.1,502.81 L291.3,502.82 L290.98,502.83 L289.86,502.84 L289.8,502.84 L288.75,502.85 L287.63,502.84 L287.6,502.84 L286.51,502.8 L286.4,502.79 L285.39,502.72 L284.8,502.66 L284.27,502.61 L283.15,502.53 L283.1,502.53 L282.03,502.49 L281.8,502.53 L280.91,502.68 L280.2,502.74 L279.79,502.78 L278.68,502.79 L278.5,502.79 L277.56,502.77 L277.4,502.78 L276.44,502.79 L275.7,502.83 L275.32,502.85 L274.2,502.89 L273.3,502.91 L273.08,502.92 L271.96,502.94 L271.6,502.94 L271,502.93 L270.84,502.93 L269.72,502.92 L269.3,502.92 L268.61,502.91 L268.1,502.92 L267.49,502.92 L266.5,502.94 L266.37,502.94 L265.25,502.98 L264.6,502.98 L264.13,502.99 L263.01,502.98 L262.7,502.98 L261.89,502.97 L260.8,502.97 L260.77,502.97 L259.65,502.97 L258.9,502.98 L258.54,502.98 L257.42,502.98 L257,502.98 L256.3,502.99 L255.18,502.99 L255.1,502.99 L254.06,502.98 L253.2,502.98 L252.94,502.97 L251.82,502.95 L251.3,502.94 L250.7,502.93 L249.7,502.91 L249.58,502.91 L248.5,502.9 L248.47,502.89 L247.4,502.86 L247.35,502.86 L246.23,502.94 L246.2,502.94 L245.11,502.92 L244.9,502.92 L243.99,502.89 L243.9,502.88 L242.87,502.8 L242.7,502.81 L241.75,502.84 L241.7,502.84 L240.8,502.84 L240.63,502.84 L239.51,502.85 L239.2,502.86 L238.4,502.9 L238.3,502.9 L237.3,502.88 L237.28,502.88 L236.16,502.94 L236,502.94 L235.04,502.94 L234.7,502.94 L233.92,502.93 L233.5,502.94 L232.8,502.95 L231.68,502.95 L231.5,502.95 L230.7,502.94 L230.56,502.93 L229.44,502.92 L229,502.93 L228.33,502.96 L227.7,502.96 L227.21,502.97 L226.09,502.99 L225.8,502.99 L224.97,502.99 L223.85,503 L223.3,503.01 L222.73,503.01 L222,503.02 L221.61,503.02 L220.49,503.03 L220.2,503.03 L219.37,503.04 L218.3,503.05 L218.26,503.05 L217.14,503.06 L216.4,503.06 L216.02,503.06 L214.9,503.05 L214.5,503.04 L213.78,503.04 L212.66,503.02 L212,503.02 L211.54,503.01 L210.42,503 L210.4,503 L209.3,502.99 L208.9,503 L208.19,503.02 L207.07,503.04 L206.4,503.05 L205.95,503.06 L204.83,503.07 L203.9,503.08 L203.71,503.08 L202.59,503.08 L202,503.08 L201.47,503.08 L200.4,503.07 L200.35,503.07 L199.23,503.07 L198.8,503.07 L198.12,503.08 L197.6,503.09 L197,503.1 L195.88,503.1 L195.7,503.1 L194.76,503.1 L193.64,503.1 L193.2,503.1 L192.52,503.1 L191.4,503.1 L190.28,503.1 L190.1,503.1 L189.16,503.1 L188.05,503.09 L186.93,503.09 L186.9,503.09 L185.81,503.08 L184.69,503.08 L184.4,503.07 L183.57,503.07 L182.6,503.06 L182.45,503.06 L181.33,503.05 L181.3,503.05 L180.21,503.06 L179.4,503.07 L179.09,503.08 L177.98,503.1 L177.5,503.1 L176.86,503.11 L175.74,503.12 L175,503.12 L174.62,503.11 L173.5,503.11 L172.5,503.11 L172.38,503.11 L171.26,503.11 L170.14,503.11 L170,503.11 L169.02,503.11 L167.91,503.11 L167.5,503.11 L166.79,503.12 L165.67,503.12 L165,503.11 L164.55,503.11 L163.43,503.11 L162.5,503.12 L162.31,503.12 L161.19,503.12 L160.07,503.12 L160,503.12 L158.95,503.12 L157.84,503.11 L156.72,503.11 L155.6,503.11 L154.6,503.11 L154.48,503.11 L153.36,503.11 L152.24,503.11 L151.12,503.11 L150,503.1 L150,503.1 L148.88,503.11 L147.77,503.11 L146.65,503.11 L145.6,503.12 L145.53,503.12 L144.41,503.12 L143.3,503.11 L143.29,503.1 L142.17,503.1 L141.05,503.11 L140.9,503.11 L139.93,503.12 L138.81,503.12 L137.7,503.12 L136.58,503.13 L135.5,503.13 L135.46,503.13 L134.34,503.13 L133.22,503.13 L132.1,503.12 L130.98,503.12 L130.8,503.12 L129.86,503.11 L128.74,503.1 L128.7,503.1 L127.63,503.11 L126.7,503.12 L126.51,503.12 L125.39,503.13 L124.27,503.13 L123.15,503.14 L122.03,503.14 L122,503.14 L120.91,503.14 L119.79,503.14 L118.67,503.14 L117.56,503.14 L116.6,503.14 L116.44,503.14 L115.32,503.14 L114.2,503.14 L113.08,503.13 L111.96,503.13 L111.2,503.13 L110.84,503.13 L109.72,503.13 L108.6,503.13 L107.49,503.13 L106.37,503.14 L105.8,503.14 L105.25,503.14 L104.13,503.13 L103.01,503.13 L101.89,503.13 L100.77,503.13 L100.4,503.13 L99.65,503.13 L98.53,503.13 L97.42,503.13 L96.3,503.13 L95.18,503.12 L95,503.12 L94.06,503.12 L92.94,503.12 L91.82,503.12 L90.7,503.12 L89.58,503.12 L88.46,503.12 L88,503.12 L87.35,503.12 L86.23,503.12 L85.11,503.12 L83.99,503.12 L82.87,503.12 L81.75,503.13 L80.63,503.13 L80,503.13 L79.51,503.13 L78.39,503.12 L77.28,503.12 L76.16,503.12 L75.04,503.12 L73.92,503.12 L72.8,503.12Z" fill="#3289f0"/>
<path d="M72.8,494.06 L73.92,494.01 L75.04,493.96 L76.16,493.91 L77.28,493.86 L78.39,493.92 L79.51,493.98 L80,494.01 L80.63,494.08 L81.75,494.06 L82.87,494.02 L83.99,493.98 L85.11,494.04 L86.23,494.11 L87.35,494.17 L88,494.21 L88.46,494.25 L89.58,494.36 L90.7,494.45 L91.82,494.54 L92.94,494.63 L94.06,494.72 L95,494.8 L95.18,494.81 L96.3,494.91 L97.42,495.02 L98.53,495.12 L99.65,495.22 L100.4,495.29 L100.77,495.36 L101.89,495.56 L103.01,495.77 L104.13,495.98 L105.25,496.19 L105.8,496.29 L106.37,496.25 L107.49,496.13 L108.6,496 L109.72,495.87 L110.84,495.74 L111.2,495.72 L111.96,495.87 L113.08,496.12 L114.2,496.38 L115.32,496.63 L116.44,496.83 L116.6,496.86 L117.56,496.77 L118.67,496.67 L119.79,496.56 L120.91,496.46 L122,496.34 L122.03,496.33 L123.15,496.06 L124.27,495.79 L125.39,495.5 L126.51,495.21 L126.7,495.15 L127.63,493.81 L128.7,492.23 L128.74,492.27 L129.86,493.62 L130.8,494.68 L130.98,494.72 L132.1,495.01 L133.22,495.3 L134.34,495.59 L135.46,495.74 L135.5,495.75 L136.58,495.43 L137.7,495.09 L138.81,494.77 L139.93,494.44 L140.9,494.16 L141.05,494.01 L142.17,492.81 L143.29,491.8 L143.3,491.79 L144.41,493.99 L145.53,495.87 L145.6,495.99 L146.65,495.38 L147.77,494.74 L148.88,494.12 L150,493.51 L150,493.51 L151.12,493.43 L152.24,493.38 L153.36,493.33 L154.48,493.18 L154.6,493.16 L155.6,493.28 L156.72,493.42 L157.84,493.66 L158.95,493.92 L160,494.16 L160.07,494.15 L161.19,493.93 L162.31,493.67 L162.5,493.63 L163.43,493.43 L164.55,493.26 L165,493.19 L165.67,493.31 L166.79,493.5 L167.5,493.58 L167.91,493.44 L169.02,493.02 L170,492.66 L170.14,492.69 L171.26,493.05 L172.38,493.46 L172.5,493.5 L173.5,493.31 L174.62,493.09 L175,493.01 L175.74,493.33 L176.86,493.68 L177.5,493.82 L177.98,492.9 L179.09,490.59 L179.4,489.97 L180.21,488.56 L181.3,486.73 L181.33,486.69 L182.45,485.42 L182.6,485.25 L183.57,486.96 L184.4,488.39 L184.69,488.66 L185.81,489.74 L186.9,490.71 L186.93,490.72 L188.05,491.19 L189.16,491.66 L190.1,492.07 L190.28,492.14 L191.4,492.52 L192.52,492.78 L193.2,492.94 L193.64,492.7 L194.76,492.14 L195.7,491.71 L195.88,491.83 L197,492.47 L197.6,492.73 L198.12,491.22 L198.8,489.24 L199.23,488.49 L200.35,486.74 L200.4,486.68 L201.47,489.41 L202,490.63 L202.59,490.24 L203.71,489.47 L203.9,489.31 L204.83,487.94 L205.95,486.26 L206.4,485.55 L207.07,484.29 L208.19,482.15 L208.9,480.62 L209.3,479.64 L210.4,477.66 L210.42,477.72 L211.54,480.57 L212,481.72 L212.66,482.82 L213.78,484.68 L214.5,485.84 L214.9,486.25 L216.02,487.35 L216.4,487.68 L217.14,487.2 L218.26,486.37 L218.3,486.33 L219.37,484.24 L220.2,482.75 L220.49,482.47 L221.61,481.48 L222,481.09 L222.73,480.28 L223.3,479.62 L223.85,479.14 L224.97,478.24 L225.8,477.57 L226.09,477.67 L227.21,477.85 L227.7,477.98 L228.33,476.27 L229,474.15 L229.44,472.48 L230.56,469.21 L230.7,468.81 L231.5,475.28 L231.68,475.18 L232.8,474.17 L233.5,473.39 L233.92,473.57 L234.7,474.25 L235.04,474.74 L236,475.92 L236.16,475.3 L237.28,470.05 L237.3,469.97 L238.3,464.39 L238.4,464.68 L239.2,466.27 L239.51,465.06 L240.63,461.4 L240.8,460.91 L241.7,462.64 L241.75,462.57 L242.7,460.44 L242.87,459.63 L243.9,456.74 L243.99,457.45 L244.9,463.92 L245.11,465.76 L246.2,475.17 L246.23,475.02 L247.35,467.39 L247.4,467.12 L248.47,461.71 L248.5,461.53 L249.58,468.93 L249.7,469.72 L250.7,471.54 L251.3,472.65 L251.82,473.72 L252.94,476.11 L253.2,476.6 L254.06,477.45 L255.1,478.39 L255.18,478.37 L256.3,478.14 L257,477.96 L257.42,477.75 L258.54,477.18 L258.9,476.98 L259.65,476.9 L260.77,476.84 L260.8,476.84 L261.89,477.82 L262.7,478.62 L263.01,478.87 L264.13,479.75 L264.6,479.97 L265.25,478.18 L266.37,474.64 L266.5,474.26 L267.49,472.64 L268.1,471.78 L268.61,470.69 L269.3,469.36 L269.72,470.16 L270.84,472.25 L271,472.55 L271.6,473.94 L271.96,472.85 L273.08,468.88 L273.3,468.1 L274.2,464.91 L275.32,460.88 L275.7,459.3 L276.44,455.97 L277.4,452.49 L277.56,453.14 L278.5,457.48 L278.68,455.87 L279.79,445.14 L280.2,440.69 L280.91,432.46 L281.8,420.94 L282.03,421.37 L283.1,427.42 L283.15,427.88 L284.27,438.31 L284.8,443.51 L285.39,449.2 L286.4,458.59 L286.51,459.04 L287.6,463.02 L287.63,463.06 L288.75,464.17 L289.8,464.95 L289.86,464.78 L290.98,461.73 L291.3,460.84 L292.1,461.65 L292.7,462 L293.22,454.41 L294.2,439.25 L294.34,437.99 L295.46,427.81 L295.6,426.75 L296.58,433.42 L297.1,437.73 L297.7,443.8 L298.5,451.85 L298.82,453.45 L299.93,458.75 L300.7,462.24 L301.05,463.17 L302.17,465.76 L302.2,465.81 L303.29,461.89 L303.6,460.67 L304.41,456.11 L305.1,452.23 L305.53,451.28 L306.5,449.46 L306.65,449.76 L307.77,452.29 L308,452.91 L308.89,453.85 L309.5,454.18 L310,453.55 L311.12,452.04 L311.6,451.4 L312.24,452.69 L313.1,455.04 L313.36,455.53 L314.48,457.43 L314.5,457.46 L315.6,458.94 L316,459.05 L316.72,454.04 L317.84,445.16 L318.2,442.55 L318.96,435.77 L320.07,427.11 L320.2,426.13 L321.19,428.13 L321.6,428.93 L322.31,430.48 L323.1,432.17 L323.43,431.51 L324.55,429.28 L325.3,427.96 L325.67,429.51 L326.7,433.95 L326.79,433.75 L327.91,430.73 L328.2,429.89 L329.03,427.83 L330.14,425.26 L330.4,424.87 L331.26,430.65 L331.8,434.48 L332.38,439.86 L333.3,448.34 L333.5,450.04 L334.62,458.86 L334.7,459.43 L335.74,446.58 L336.2,440.2 L336.86,431.65 L337.6,422.49 L337.98,422.04 L339.1,422.17 L339.1,422.18 L340.21,426.31 L340.5,427.41 L341.33,434.43 L342,440.07 L342.45,442.21 L343.57,447.4 L344.2,450.19 L344.69,451.73 L345.81,455.21 L346.4,456.95 L346.93,457.62 L348.05,458.92 L348.5,459.32 L349.17,459.32 L350.28,459.39 L350.7,459.45 L351.4,459.83 L352.52,460.51 L352.9,460.76 L353.64,461.9 L354.76,463.73 L355.1,464.29 L355.88,465.57 L357,467.4 L358,468.93 L358.12,469.12 L359.24,470.94 L360,472.16 L360.35,472.8 L361.47,474.82 L362.5,476.61 L362.59,476.51 L363.71,475.13 L364.83,473.57 L365,473.33 L365.95,472.81 L367.07,472.29 L367.3,472.21 L368.19,473.39 L369.31,474.65 L369.6,474.96 L370.42,472.87 L371.54,470.07 L371.9,469.17 L372.66,467.47 L373.78,464.95 L374.2,463.98 L374.9,462.65 L376.02,460.5 L376.6,459.38 L377.14,457.79 L378.26,453.99 L378.9,451.9 L379.38,450.06 L380.3,447.94 L380.49,449.23 L381.6,456.49 L381.61,456.56 L382.73,462.07 L383.5,465.72 L383.85,466.44 L384.97,468.55 L385.8,470.14 L386.09,470.7 L387.21,472.92 L388.1,474.59 L388.33,474.79 L389.45,475.67 L390.56,476.53 L391.6,477.3 L391.68,477.32 L392.8,477.62 L393.92,477.9 L395.04,478.16 L395.1,478.17 L396.16,478.18 L397.28,478.15 L398.4,478.1 L399.52,478.05 L399.7,478.05 L400.63,477.86 L401.75,477.61 L402.87,477.34 L403.2,477.23 L403.99,476.52 L405.11,475.47 L406.2,474.72 L406.23,474.75 L407.35,476.27 L408.47,477.78 L408.9,478.35 L409.59,479.23 L410.7,480.59 L411.82,481.92 L412.4,482.6 L412.94,483 L414.06,483.83 L415.18,484.66 L416.3,485.46 L417,485.97 L417.42,486.2 L418.54,486.82 L419.66,487.5 L420.77,488.19 L421.6,488.67 L421.89,488.75 L423.01,489.05 L424.13,489.29 L425.1,489.45 L425.25,489.39 L426.37,488.93 L427.49,488.54 L428.6,487.95 L428.61,487.95 L429.73,487.05 L430.84,486.18 L431.96,485.32 L432.1,485.25 L433.08,486.27 L434.2,487.41 L435.32,488.44 L435.5,488.6 L436.44,488.95 L437.56,489.47 L438.68,490.01 L439.8,490.57 L440.1,490.69 L440.91,490.87 L442.03,491.1 L443.15,491.27 L444.27,491.41 L444.8,491.5 L445.39,491.57 L446.51,491.76 L447.63,491.93 L448.75,492.08 L449.87,492.23 L450.5,492.33 L450.98,492.35 L452.1,492.41 L453.22,492.47 L454.34,492.45 L455.46,492.41 L456.58,492.37 L457.5,492.37 L457.7,492.37 L458.82,492.37 L459.94,492.37 L461.05,492.39 L462.17,492.41 L463.29,492.45 L464.4,492.49 L464.41,492.49 L465.53,492.83 L466.65,493.2 L467.77,493.57 L468.89,493.85 L470.01,494.14 L470.2,494.2 L471.12,494.49 L472.24,494.84 L473.36,495.19 L474.48,495.53 L475.5,495.85 L475.6,495.85 L475.6,503.04 L475.5,503.04 L474.48,503.04 L473.36,503.03 L472.24,503.03 L471.12,503.02 L470.2,503.02 L470.01,503.02 L468.89,503.02 L467.77,503.02 L466.65,503.01 L465.53,502.99 L464.41,502.99 L464.4,502.99 L463.29,502.98 L462.17,502.98 L461.05,502.97 L459.94,502.97 L458.82,502.97 L457.7,502.97 L457.5,502.97 L456.58,502.97 L455.46,502.98 L454.34,502.98 L453.22,502.99 L452.1,502.98 L450.98,502.97 L450.5,502.97 L449.87,502.96 L448.75,502.96 L447.63,502.96 L446.51,502.96 L445.39,502.95 L444.8,502.95 L444.27,502.95 L443.15,502.96 L442.03,502.96 L440.91,502.95 L440.1,502.94 L439.8,502.94 L438.68,502.91 L437.56,502.89 L436.44,502.87 L435.5,502.86 L435.32,502.86 L434.2,502.85 L433.08,502.83 L432.1,502.81 L431.96,502.81 L430.84,502.83 L429.73,502.85 L428.61,502.88 L428.6,502.88 L427.49,502.9 L426.37,502.88 L425.25,502.88 L425.1,502.88 L424.13,502.88 L423.01,502.88 L421.89,502.87 L421.6,502.87 L420.77,502.86 L419.66,502.84 L418.54,502.82 L417.42,502.81 L417,502.81 L416.3,502.8 L415.18,502.79 L414.06,502.78 L412.94,502.76 L412.4,502.75 L411.82,502.75 L410.7,502.73 L409.59,502.71 L408.9,502.69 L408.47,502.67 L407.35,502.64 L406.23,502.6 L406.2,502.6 L405.11,502.58 L403.99,502.61 L403.2,502.63 L402.87,502.63 L401.75,502.64 L400.63,502.64 L399.7,502.64 L399.52,502.64 L398.4,502.65 L397.28,502.66 L396.16,502.66 L395.1,502.66 L395.04,502.66 L393.92,502.66 L392.8,502.65 L391.68,502.64 L391.6,502.64 L390.56,502.63 L389.45,502.61 L388.33,502.58 L388.1,502.58 L387.21,502.55 L386.09,502.49 L385.8,502.48 L384.97,502.45 L383.85,502.41 L383.5,502.39 L382.73,502.34 L381.61,502.25 L381.6,502.25 L380.49,502.12 L380.3,502.09 L379.38,501.97 L378.9,502.02 L378.26,502.08 L377.14,502.2 L376.6,502.23 L376.02,502.26 L374.9,502.32 L374.2,502.35 L373.78,502.37 L372.66,502.42 L371.9,502.44 L371.54,502.46 L370.42,502.49 L369.6,502.52 L369.31,502.53 L368.19,502.56 L367.3,502.56 L367.07,502.56 L365.95,502.58 L365,502.61 L364.83,502.61 L363.71,502.65 L362.59,502.65 L362.5,502.65 L361.47,502.63 L360.35,502.6 L360,502.59 L359.24,502.57 L358.12,502.53 L358,502.53 L357,502.5 L355.88,502.44 L355.1,502.41 L354.76,502.39 L353.64,502.33 L352.9,502.31 L352.52,502.3 L351.4,502.26 L350.7,502.25 L350.28,502.24 L349.17,502.23 L348.5,502.23 L348.05,502.23 L346.93,502.19 L346.4,502.16 L345.81,502.13 L344.69,502.05 L344.2,502.01 L343.57,501.96 L342.45,501.83 L342,501.78 L341.33,501.69 L340.5,501.59 L340.21,501.56 L339.1,501.45 L339.1,501.45 L337.98,501.43 L337.6,501.49 L336.86,501.62 L336.2,501.8 L335.74,501.92 L334.7,501.98 L334.62,501.98 L333.5,501.91 L333.3,501.88 L332.38,501.74 L331.8,501.66 L331.26,501.58 L330.4,501.5 L330.14,501.48 L329.03,501.5 L328.2,501.54 L327.91,501.55 L326.79,501.58 L326.7,501.58 L325.67,501.54 L325.3,501.53 L324.55,501.52 L323.43,501.53 L323.1,501.53 L322.31,501.54 L321.6,501.54 L321.19,501.54 L320.2,501.54 L320.07,501.54 L318.96,501.54 L318.2,501.67 L317.84,501.73 L316.72,502.04 L316,502.14 L315.6,502.2 L314.5,502.18 L314.48,502.18 L313.36,502.12 L313.1,502.11 L312.24,502.04 L311.6,502.06 L311.12,502.07 L310,502.1 L309.5,502.11 L308.89,502.12 L308,502.07 L307.77,502.06 L306.65,502.05 L306.5,502.05 L305.53,502.08 L305.1,502.11 L304.41,502.17 L303.6,502.23 L303.29,502.26 L302.2,502.29 L302.17,502.29 L301.05,502.23 L300.7,502.2 L299.93,502.12 L298.82,501.97 L298.5,501.92 L297.7,501.78 L297.1,501.67 L296.58,501.56 L295.6,501.57 L295.46,501.58 L294.34,501.85 L294.2,501.88 L293.22,502.11 L292.7,502.16 L292.1,502.22 L291.3,502.26 L290.98,502.27 L289.86,502.3 L289.8,502.3 L288.75,502.33 L287.63,502.31 L287.6,502.31 L286.51,502.2 L286.4,502.18 L285.39,501.99 L284.8,501.85 L284.27,501.72 L283.15,501.54 L283.1,501.53 L282.03,501.41 L281.8,501.51 L280.91,501.9 L280.2,502.06 L279.79,502.15 L278.68,502.18 L278.5,502.17 L277.56,502.14 L277.4,502.14 L276.44,502.16 L275.7,502.28 L275.32,502.34 L274.2,502.42 L273.3,502.48 L273.08,502.49 L271.96,502.56 L271.6,502.55 L271,502.54 L270.84,502.53 L269.72,502.51 L269.3,502.5 L268.61,502.48 L268.1,502.49 L267.49,502.5 L266.5,502.55 L266.37,502.55 L265.25,502.64 L264.6,502.66 L264.13,502.67 L263.01,502.65 L262.7,502.64 L261.89,502.63 L260.8,502.62 L260.77,502.62 L259.65,502.63 L258.9,502.64 L258.54,502.64 L257.42,502.66 L257,502.66 L256.3,502.66 L255.18,502.66 L255.1,502.66 L254.06,502.66 L253.2,502.64 L252.94,502.64 L251.82,502.57 L251.3,502.55 L250.7,502.52 L249.7,502.48 L249.58,502.48 L248.5,502.44 L248.47,502.44 L247.4,502.35 L247.35,502.35 L246.23,502.56 L246.2,502.56 L245.11,502.51 L244.9,502.49 L243.99,502.42 L243.9,502.4 L242.87,502.21 L242.7,502.23 L241.75,502.31 L241.7,502.31 L240.8,502.29 L240.63,502.29 L239.51,502.32 L239.2,502.35 L238.4,502.44 L238.3,502.44 L237.3,502.41 L237.28,502.41 L236.16,502.54 L236,502.54 L235.04,502.55 L234.7,502.55 L233.92,502.53 L233.5,502.54 L232.8,502.57 L231.68,502.58 L231.5,502.57 L230.7,502.54 L230.56,502.53 L229.44,502.49 L229,502.53 L228.33,502.59 L227.7,502.61 L227.21,502.62 L226.09,502.66 L225.8,502.67 L224.97,502.68 L223.85,502.7 L223.3,502.72 L222.73,502.74 L222,502.75 L221.61,502.76 L220.49,502.77 L220.2,502.78 L219.37,502.79 L218.3,502.82 L218.26,502.83 L217.14,502.84 L216.4,502.84 L216.02,502.84 L214.9,502.82 L214.5,502.81 L213.78,502.79 L212.66,502.76 L212,502.74 L211.54,502.73 L210.42,502.69 L210.4,502.69 L209.3,502.67 L208.9,502.7 L208.19,502.76 L207.07,502.8 L206.4,502.82 L205.95,502.84 L204.83,502.87 L203.9,502.9 L203.71,502.9 L202.59,502.91 L202,502.91 L201.47,502.91 L200.4,502.87 L200.35,502.87 L199.23,502.87 L198.8,502.89 L198.12,502.9 L197.6,502.92 L197,502.94 L195.88,502.95 L195.7,502.95 L194.76,502.95 L193.64,502.95 L193.2,502.95 L192.52,502.95 L191.4,502.96 L190.28,502.95 L190.1,502.95 L189.16,502.94 L188.05,502.93 L186.93,502.92 L186.9,502.92 L185.81,502.91 L184.69,502.89 L184.4,502.89 L183.57,502.87 L182.6,502.85 L182.45,502.84 L181.33,502.82 L181.3,502.82 L180.21,502.85 L179.4,502.88 L179.09,502.89 L177.98,502.94 L177.5,502.96 L176.86,502.97 L175.74,502.99 L175,502.99 L174.62,502.99 L173.5,502.98 L172.5,502.97 L172.38,502.97 L171.26,502.97 L170.14,502.96 L170,502.97 L169.02,502.97 L167.91,502.98 L167.5,502.99 L166.79,502.99 L165.67,502.99 L165,502.99 L164.55,502.99 L163.43,502.99 L162.5,502.99 L162.31,502.99 L161.19,503 L160.07,503.01 L160,503 L158.95,502.99 L157.84,502.98 L156.72,502.97 L155.6,502.98 L154.6,502.98 L154.48,502.98 L153.36,502.99 L152.24,502.98 L151.12,502.96 L150,502.96 L150,502.96 L148.88,502.97 L147.77,502.97 L146.65,502.98 L145.6,503 L145.53,503 L144.41,503 L143.3,502.96 L143.29,502.96 L142.17,502.96 L141.05,502.98 L140.9,502.99 L139.93,502.99 L138.81,503 L137.7,503.01 L136.58,503.02 L135.5,503.03 L135.46,503.03 L134.34,503.03 L133.22,503.02 L132.1,503.01 L130.98,503 L130.8,502.99 L129.86,502.98 L128.74,502.96 L128.7,502.96 L127.63,502.99 L126.7,503.01 L126.51,503.01 L125.39,503.02 L124.27,503.03 L123.15,503.04 L122.03,503.05 L122,503.05 L120.91,503.05 L119.79,503.05 L118.67,503.05 L117.56,503.05 L116.6,503.06 L116.44,503.06 L115.32,503.05 L114.2,503.04 L113.08,503.04 L111.96,503.03 L111.2,503.02 L110.84,503.02 L109.72,503.03 L108.6,503.03 L107.49,503.04 L106.37,503.04 L105.8,503.04 L105.25,503.04 L104.13,503.03 L103.01,503.03 L101.89,503.03 L100.77,503.03 L100.4,503.03 L99.65,503.02 L98.53,503.02 L97.42,503.02 L96.3,503.02 L95.18,503.01 L95,503.01 L94.06,503.01 L92.94,503.01 L91.82,503.01 L90.7,503.01 L89.58,503.01 L88.46,503 L88,503 L87.35,503 L86.23,503 L85.11,502.99 L83.99,502.99 L82.87,503 L81.75,503.02 L80.63,503.03 L80,503.02 L79.51,503.02 L78.39,503 L77.28,502.99 L76.16,503 L75.04,503 L73.92,503 L72.8,503.01Z" fill="#1b62e4"/>
<path d="M71.65 499.38h2.3M72.8 498.23v2.3M72.77 499.3h2.3M73.92 498.15v2.3M73.89 499.21h2.3M75.04 498.06v2.3M75.01 499.12h2.3M76.16 497.97v2.3M76.13 499.04h2.3M77.28 497.89v2.3M77.24 499.27h2.3M78.39 498.12v2.3M78.36 499.5h2.3M79.51 498.35v2.3M79.48 499.74h2.3M80.63 498.59v2.3M80.6 499.53h2.3M81.75 498.38v2.3M81.72 499.28h2.3M82.87 498.13v2.3M82.84 499.04h2.3M83.99 497.89v2.3M83.96 499.09h2.3M85.11 497.94v2.3M85.08 499.15h2.3M86.23 498v2.3M86.2 499.21h2.3M87.35 498.06v2.3M87.31 499.27h2.3M88.46 498.12v2.3M88.43 499.33h2.3M89.58 498.18v2.3M89.55 499.36h2.3M90.7 498.21v2.3M90.67 499.38h2.3M91.82 498.23v2.3M91.79 499.4h2.3M92.94 498.25v2.3M92.91 499.42h2.3M94.06 498.27v2.3M94.03 499.45h2.3M95.18 498.3v2.3M95.15 499.5h2.3M96.3 498.35v2.3M96.27 499.56h2.3M97.42 498.41v2.3M97.38 499.62h2.3M98.53 498.47v2.3M98.5 499.68h2.3M99.65 498.53v2.3M99.62 499.74h2.3M100.77 498.59v2.3M100.74 499.79h2.3M101.89 498.64v2.3M101.86 499.85h2.3M103.01 498.7v2.3M102.98 499.9h2.3M104.13 498.75v2.3M104.1 499.95h2.3M105.25 498.8v2.3M105.22 500h2.3M106.37 498.85v2.3M106.34 499.94h2.3M107.49 498.79v2.3M107.45 499.84h2.3M108.6 498.69v2.3M108.57 499.74h2.3M109.72 498.59v2.3M109.69 499.63h2.3M110.84 498.48v2.3M110.81 499.73h2.3M111.96 498.58v2.3M111.93 499.91h2.3M113.08 498.76v2.3M113.05 500.09h2.3M114.2 498.94v2.3M114.17 500.27h2.3M115.32 499.12v2.3M115.29 500.31h2.3M116.44 499.16v2.3M116.41 500.28h2.3M117.56 499.13v2.3M117.52 500.26h2.3M118.67 499.11v2.3M118.64 500.24h2.3M119.79 499.09v2.3M119.76 500.22h2.3M120.91 499.07v2.3M120.88 500.12h2.3M122.03 498.97v2.3M122 499.97h2.3M123.15 498.82v2.3M123.12 499.83h2.3M124.27 498.68v2.3M124.24 499.62h2.3M125.39 498.47v2.3M125.36 499.41h2.3M126.51 498.26v2.3M126.48 498.93h2.3M127.63 497.78v2.3M127.59 498.4h2.3M128.74 497.25v2.3M128.71 498.89h2.3M129.86 497.74v2.3M129.83 499.13h2.3M130.98 497.98v2.3M130.95 499.36h2.3M132.1 498.21v2.3M132.07 499.63h2.3M133.22 498.48v2.3M133.19 499.89h2.3M134.34 498.74v2.3M134.31 499.74h2.3M135.46 498.59v2.3M135.43 499.56h2.3M136.58 498.41v2.3M136.55 499.38h2.3M137.7 498.23v2.3M137.66 499.22h2.3M138.81 498.07v2.3M138.78 499.06h2.3M139.93 497.91v2.3M139.9 498.89h2.3M141.05 497.74v2.3M141.02 498.39h2.3M142.17 497.24v2.3M142.14 498.45h2.3M143.29 497.3v2.3M143.26 499.27h2.3M144.41 498.12v2.3M144.38 499.15h2.3M145.53 498v2.3M145.5 498.9h2.3M146.65 497.75v2.3M146.62 498.68h2.3M147.77 497.53v2.3M147.73 498.51h2.3M148.88 497.36v2.3M148.85 498.35h2.3M150 497.2v2.3M149.97 498.49h2.3M151.12 497.34v2.3M151.09 498.71h2.3M152.24 497.56v2.3M152.21 498.92h2.3M153.36 497.77v2.3M153.33 498.86h2.3M154.48 497.71v2.3M154.45 498.75h2.3M155.6 497.6v2.3M155.57 498.64h2.3M156.72 497.49v2.3M156.69 498.81h2.3M157.84 497.66v2.3M157.8 499.06h2.3M158.95 497.91v2.3M158.92 499.31h2.3M160.07 498.16v2.3M160.04 499.25h2.3M161.19 498.1v2.3M161.16 499.09h2.3M162.31 497.94v2.3M162.28 498.92h2.3M163.43 497.77v2.3M163.4 498.92h2.3M164.55 497.77v2.3M164.52 498.97h2.3M165.67 497.82v2.3M165.64 499.02h2.3M166.79 497.87v2.3M166.76 498.89h2.3M167.91 497.74v2.3M167.87 498.69h2.3M169.02 497.54v2.3M168.99 498.5h2.3M170.14 497.35v2.3M170.11 498.53h2.3M171.26 497.38v2.3M171.23 498.68h2.3M172.38 497.53v2.3M172.35 498.84h2.3M173.5 497.69v2.3M173.47 498.93h2.3M174.62 497.78v2.3M174.59 499.01h2.3M175.74 497.86v2.3M175.71 498.67h2.3M176.86 497.52v2.3M176.83 498.06h2.3M177.98 496.91v2.3M177.94 497.04h2.3M179.09 495.89v2.3M179.06 496.17h2.3M180.21 495.02v2.3M180.18 495.51h2.3M181.33 494.36v2.3M181.3 496.06h2.3M182.45 494.91v2.3M182.42 496.6h2.3M183.57 495.45v2.3M183.54 497.01h2.3M184.69 495.86v2.3M184.66 497.43h2.3M185.81 496.28v2.3M185.78 497.6h2.3M186.93 496.45v2.3M186.9 497.77h2.3M188.05 496.62v2.3M188.01 497.96h2.3M189.16 496.81v2.3M189.13 498.19h2.3M190.28 497.04v2.3M190.25 498.43h2.3M191.4 497.28v2.3M191.37 498.29h2.3M192.52 497.14v2.3M192.49 498.16h2.3M193.64 497.01v2.3M193.61 498.14h2.3M194.76 496.99v2.3M194.73 498.25h2.3M195.88 497.1v2.3M195.85 498h2.3M197 496.85v2.3M196.97 497.3h2.3M198.12 496.15v2.3M198.08 496.7h2.3M199.23 495.55v2.3M199.2 496.64h2.3M200.35 495.49v2.3M200.32 497.38h2.3M201.47 496.23v2.3M201.44 497.34h2.3M202.59 496.19v2.3M202.56 497.24h2.3M203.71 496.09v2.3M203.68 496.67h2.3M204.83 495.52v2.3M204.8 496.01h2.3M205.95 494.86v2.3M205.92 495.18h2.3M207.07 494.03v2.3M207.04 494.32h2.3M208.19 493.17v2.3M208.15 492.68h2.3M209.3 491.53v2.3M209.27 493.02h2.3M210.42 491.87v2.3M210.39 493.74h2.3M211.54 492.59v2.3M211.51 494.42h2.3M212.66 493.27v2.3M212.63 495.08h2.3M213.78 493.93v2.3M213.75 495.57h2.3M214.9 494.42v2.3M214.87 496.01h2.3M216.02 494.86v2.3M215.99 496h2.3M217.14 494.85v2.3M217.11 495.7h2.3M218.26 494.55v2.3M218.22 494.96h2.3M219.37 493.81v2.3M219.34 494.64h2.3M220.49 493.49v2.3M220.46 494.44h2.3M221.61 493.29v2.3M221.58 493.93h2.3M222.73 492.78v2.3M222.7 493.27h2.3M223.85 492.12v2.3M223.82 492.86h2.3M224.97 491.71v2.3M224.94 492.46h2.3M226.09 491.31v2.3M226.06 491.57h2.3M227.21 490.42v2.3M227.18 490.98h2.3M228.33 489.83v2.3M228.29 489.1h2.3M229.44 487.95v2.3M229.41 489.89h2.3M230.56 488.74v2.3M230.53 490.81h2.3M231.68 489.66v2.3M231.65 490.63h2.3M232.8 489.48v2.3M232.77 489.76h2.3M233.92 488.61v2.3M233.89 490.28h2.3M235.04 489.13v2.3M235.01 490.03h2.3M236.16 488.88v2.3M236.13 487.35h2.3M237.28 486.2v2.3M237.25 488.03h2.3M238.4 486.88v2.3M238.36 485.6h2.3M239.51 484.45v2.3M239.48 485.01h2.3M240.63 483.86v2.3M240.6 485.4h2.3M241.75 484.25v2.3M241.72 483.43h2.3M242.87 482.28v2.3M242.84 487.6h2.3M243.99 486.45v2.3M243.96 489.34h2.3M245.11 488.19v2.3M245.08 490.36h2.3M246.23 489.21v2.3M246.2 486.2h2.3M247.35 485.05v2.3M247.32 487.93h2.3M248.47 486.78v2.3M248.43 488.8h2.3M249.58 487.65v2.3M249.55 489.67h2.3M250.7 488.52v2.3M250.67 490.66h2.3M251.82 489.51v2.3M251.79 491.9h2.3M252.94 490.75v2.3M252.91 492.35h2.3M254.06 491.2v2.3M254.03 492.48h2.3M255.18 491.33v2.3M255.15 492.48h2.3M256.3 491.33v2.3M256.27 492.31h2.3M257.42 491.16v2.3M257.39 492.09h2.3M258.54 490.94v2.3M258.5 491.76h2.3M259.65 490.61v2.3M259.62 491.58h2.3M260.77 490.43v2.3M260.74 491.72h2.3M261.89 490.57v2.3M261.86 492.16h2.3M263.01 491.01v2.3M262.98 492.59h2.3M264.13 491.44v2.3M264.1 492.06h2.3M265.25 490.91v2.3M265.22 490.27h2.3M266.37 489.12v2.3M266.34 489.2h2.3M267.49 488.05v2.3M267.46 488.89h2.3M268.61 487.74v2.3M268.57 489.35h2.3M269.72 488.2v2.3M269.69 489.84h2.3M270.84 488.69v2.3M270.81 490.31h2.3M271.96 489.16v2.3M271.93 488.99h2.3M273.08 487.84v2.3M273.05 487.54h2.3M274.2 486.39v2.3M274.17 485.91h2.3M275.32 484.76v2.3M275.29 482.47h2.3M276.44 481.32v2.3M276.41 481.92h2.3M277.56 480.77v2.3M277.53 482.83h2.3M278.68 481.68v2.3M278.64 482.24h2.3M279.79 481.09v2.3M279.76 477.18h2.3M280.91 476.03v2.3M280.88 467.45h2.3M282.03 466.3v2.3M282 469.92h2.3M283.15 468.77v2.3M283.12 473.69h2.3M284.27 472.54v2.3M284.24 479.01h2.3M285.39 477.86v2.3M285.36 483.1h2.3M286.51 481.95v2.3M286.48 485.4h2.3M287.63 484.25v2.3M287.6 485.74h2.3M288.75 484.59v2.3M288.71 485.26h2.3M289.86 484.11v2.3M289.83 484.59h2.3M290.98 483.44v2.3M290.95 483.65h2.3M292.1 482.5v2.3M292.07 481.38h2.3M293.22 480.23v2.3M293.19 476.2h2.3M294.34 475.05v2.3M294.31 470.72h2.3M295.46 469.57v2.3M295.43 470.47h2.3M296.58 469.32v2.3M296.55 474.82h2.3M297.7 473.67v2.3M297.67 478.67h2.3M298.82 477.52v2.3M298.78 481.55h2.3M299.93 480.4v2.3M299.9 483.82h2.3M301.05 482.67v2.3M301.02 484.98h2.3M302.17 483.83v2.3M302.14 484.31h2.3M303.29 483.16v2.3M303.26 482.53h2.3M304.41 481.38v2.3M304.38 480.76h2.3M305.53 479.61v2.3M305.5 480.14h2.3M306.65 478.99v2.3M306.62 480.31h2.3M307.77 479.16v2.3M307.74 481.64h2.3M308.89 480.49v2.3M308.85 481.3h2.3M310 480.15v2.3M309.97 480.65h2.3M311.12 479.5v2.3M311.09 480h2.3M312.24 478.85v2.3M312.21 481.7h2.3M313.36 480.55v2.3M313.33 482.81h2.3M314.48 481.66v2.3M314.45 483.1h2.3M315.6 481.95v2.3M315.57 479.98h2.3M316.72 478.83v2.3M316.69 473.78h2.3M317.84 472.63v2.3M317.81 469.95h2.3M318.96 468.8v2.3M318.92 470.01h2.3M320.07 468.86v2.3M320.04 470.06h2.3M321.19 468.91v2.3M321.16 469.97h2.3M322.31 468.82v2.3M322.28 469.75h2.3M323.43 468.6v2.3M323.4 469.52h2.3M324.55 468.37v2.3M324.52 470.02h2.3M325.67 468.87v2.3M325.64 470.88h2.3M326.79 469.73v2.3M326.76 470.27h2.3M327.91 469.12v2.3M327.88 469.18h2.3M329.03 468.03v2.3M328.99 468.73h2.3M330.14 467.58v2.3M330.11 470.72h2.3M331.26 469.57v2.3M331.23 474.08h2.3M332.38 472.93v2.3M332.35 477.42h2.3M333.5 476.27v2.3M333.47 478.88h2.3M334.62 477.73v2.3M334.59 477.59h2.3M335.74 476.44v2.3M335.71 471.61h2.3M336.86 470.46v2.3M336.83 467.81h2.3M337.98 466.66v2.3M337.95 468.18h2.3M339.1 467.03v2.3M339.06 470.39h2.3M340.21 469.24v2.3M340.18 473.09h2.3M341.33 471.94v2.3M341.3 475.87h2.3M342.45 474.72v2.3M342.42 478.31h2.3M343.57 477.16v2.3M343.54 480.13h2.3M344.69 478.98v2.3M344.66 481.85h2.3M345.81 480.7v2.3M345.78 483.05h2.3M346.93 481.9v2.3M346.9 483.89h2.3M348.05 482.74v2.3M348.02 483.89h2.3M349.17 482.74v2.3M349.13 484.08h2.3M350.28 482.93v2.3M350.25 484.49h2.3M351.4 483.34v2.3M351.37 485.11h2.3M352.52 483.96v2.3M352.49 485.89h2.3M353.64 484.74v2.3M353.61 486.97h2.3M354.76 485.82v2.3M354.73 488.07h2.3M355.88 486.92v2.3M355.85 489.14h2.3M357 487.99v2.3M356.97 489.87h2.3M358.12 488.72v2.3M358.09 490.59h2.3M359.24 489.44v2.3M359.2 491.24h2.3M360.35 490.09v2.3M360.32 491.84h2.3M361.47 490.69v2.3M361.44 492.27h2.3M362.59 491.12v2.3M362.56 492.15h2.3M363.71 491v2.3M363.68 491.5h2.3M364.83 490.35v2.3M364.8 490.85h2.3M365.95 489.7v2.3M365.92 490.44h2.3M367.07 489.29v2.3M367.04 490.44h2.3M368.19 489.29v2.3M368.16 489.78h2.3M369.31 488.63v2.3M369.27 488.98h2.3M370.42 487.83v2.3M370.39 488.3h2.3M371.54 487.15v2.3M371.51 487.52h2.3M372.66 486.37v2.3M372.63 486.65h2.3M373.78 485.5v2.3M373.75 485.56h2.3M374.9 484.41v2.3M374.87 484.46h2.3M376.02 483.31v2.3M375.99 483.3h2.3M377.14 482.15v2.3M377.11 480.76h2.3M378.26 479.61v2.3M378.23 478.67h2.3M379.38 477.52v2.3M379.34 481.57h2.3M380.49 480.42v2.3M380.46 484.17h2.3M381.61 483.02v2.3M381.58 486.03h2.3M382.73 484.88v2.3M382.7 487.35h2.3M383.85 486.2v2.3M383.82 488.12h2.3M384.97 486.97v2.3M384.94 489.03h2.3M386.09 487.88v2.3M386.06 490.14h2.3M387.21 488.99v2.3M387.18 490.89h2.3M388.33 489.74v2.3M388.3 491.33h2.3M389.45 490.18v2.3M389.41 491.71h2.3M390.56 490.56v2.3M390.53 491.98h2.3M391.68 490.83v2.3M391.65 492.18h2.3M392.8 491.03v2.3M392.77 492.33h2.3M393.92 491.18v2.3M393.89 492.43h2.3M395.04 491.28v2.3M395.01 492.45h2.3M396.16 491.3v2.3M396.13 492.36h2.3M397.28 491.21v2.3M397.25 492.22h2.3M398.4 491.07v2.3M398.37 492.07h2.3M399.52 490.92v2.3M399.48 492.07h2.3M400.63 490.92v2.3M400.6 492.02h2.3M401.75 490.87v2.3M401.72 491.89h2.3M402.87 490.74v2.3M402.84 491.47h2.3M403.99 490.32v2.3M403.96 490.89h2.3M405.11 489.74v2.3M405.08 491.11h2.3M406.23 489.96v2.3M406.2 491.91h2.3M407.35 490.76v2.3M407.32 492.66h2.3M408.47 491.51v2.3M408.44 493.35h2.3M409.59 492.2v2.3M409.55 493.78h2.3M410.7 492.63v2.3M410.67 494.15h2.3M411.82 493v2.3M411.79 494.44h2.3M412.94 493.29v2.3M412.91 494.74h2.3M414.06 493.59v2.3M414.03 495.02h2.3M415.18 493.87v2.3M415.15 495.24h2.3M416.3 494.09v2.3M416.27 495.45h2.3M417.42 494.3v2.3M417.39 495.66h2.3M418.54 494.51v2.3M418.51 496.01h2.3M419.66 494.86v2.3M419.62 496.41h2.3M420.77 495.26v2.3M420.74 496.66h2.3M421.89 495.51v2.3M421.86 496.87h2.3M423.01 495.72v2.3M422.98 496.89h2.3M424.13 495.74v2.3M424.1 496.79h2.3M425.25 495.64v2.3M425.22 496.84h2.3M426.37 495.69v2.3M426.34 497.11h2.3M427.49 495.96v2.3M427.46 496.77h2.3M428.61 495.62v2.3M428.58 496.23h2.3M429.73 495.08v2.3M429.69 495.76h2.3M430.84 494.61v2.3M430.81 495.32h2.3M431.96 494.17v2.3M431.93 495.81h2.3M433.08 494.66v2.3M433.05 496.26h2.3M434.2 495.11v2.3M434.17 496.38h2.3M435.32 495.23v2.3M435.29 496.53h2.3M436.44 495.38v2.3M436.41 496.96h2.3M437.56 495.81v2.3M437.53 497.47h2.3M438.68 496.32v2.3M438.65 498.04h2.3M439.8 496.89v2.3M439.76 498.23h2.3M440.91 497.08v2.3M440.88 498.35h2.3M442.03 497.2v2.3M442 498.31h2.3M443.15 497.16v2.3M443.12 498.19h2.3M444.27 497.04v2.3M444.24 498.18h2.3M445.39 497.03v2.3M445.36 498.31h2.3M446.51 497.16v2.3M446.48 498.4h2.3M447.63 497.25v2.3M447.6 498.43h2.3M448.75 497.28v2.3M448.72 498.45h2.3M449.87 497.3v2.3M449.83 498.56h2.3M450.98 497.41v2.3M450.95 498.74h2.3M452.1 497.59v2.3M452.07 498.92h2.3M453.22 497.77v2.3M453.19 498.86h2.3M454.34 497.71v2.3M454.31 498.73h2.3M455.46 497.58v2.3M455.43 498.62h2.3M456.58 497.47v2.3M456.55 498.62h2.3M457.7 497.47v2.3M457.67 498.62h2.3M458.82 497.47v2.3M458.79 498.63h2.3M459.94 497.48v2.3M459.9 498.69h2.3M461.05 497.54v2.3M461.02 498.75h2.3M462.17 497.6v2.3M462.14 498.85h2.3M463.29 497.7v2.3M463.26 498.97h2.3M464.41 497.82v2.3M464.38 499.1h2.3M465.53 497.95v2.3M465.5 499.36h2.3M466.65 498.21v2.3M466.62 499.56h2.3M467.77 498.41v2.3M467.74 499.56h2.3M468.89 498.41v2.3M468.86 499.57h2.3M470.01 498.42v2.3M469.97 499.67h2.3M471.12 498.52v2.3M471.09 499.78h2.3M472.24 498.63v2.3M472.21 499.86h2.3M473.36 498.71v2.3M473.33 499.94h2.3M474.48 498.79v2.3M474.45 500.02h2.3M475.6 498.87v2.3" stroke="#fa1428" stroke-width="1.15" fill="none"/>
<line x1="52.5" y1="372.6" x2="52.5" y2="504.0" stroke="#777" stroke-width="1"/>
<line x1="50.0" y1="503.5" x2="496" y2="503.5" stroke="#808080" stroke-width="1"/>
<line x1="50.5" y1="503.2" x2="52.5" y2="503.2" stroke="#777" stroke-width="0.8"/>
<text x="48" y="506" font-size="7.95" text-anchor="end" fill="#1c1c1c">0</text>
<line x1="50.5" y1="487.9" x2="52.5" y2="487.9" stroke="#777" stroke-width="0.8"/>
<text x="48" y="490.7" font-size="7.95" text-anchor="end" fill="#1c1c1c">20,000</text>
<line x1="50.5" y1="472.6" x2="52.5" y2="472.6" stroke="#777" stroke-width="0.8"/>
<text x="48" y="475.4" font-size="7.95" text-anchor="end" fill="#1c1c1c">40,000</text>
<line x1="50.5" y1="457.3" x2="52.5" y2="457.3" stroke="#777" stroke-width="0.8"/>
<text x="48" y="460.1" font-size="7.95" text-anchor="end" fill="#1c1c1c">60,000</text>
<line x1="50.5" y1="442" x2="52.5" y2="442" stroke="#777" stroke-width="0.8"/>
<text x="48" y="444.8" font-size="7.95" text-anchor="end" fill="#1c1c1c">80,000</text>
<line x1="50.5" y1="426.7" x2="52.5" y2="426.7" stroke="#777" stroke-width="0.8"/>
<text x="48" y="429.5" font-size="7.95" text-anchor="end" fill="#1c1c1c">100,000</text>
<line x1="50.5" y1="411.4" x2="52.5" y2="411.4" stroke="#777" stroke-width="0.8"/>
<text x="48" y="414.2" font-size="7.95" text-anchor="end" fill="#1c1c1c">120,000</text>
<line x1="50.5" y1="396.1" x2="52.5" y2="396.1" stroke="#777" stroke-width="0.8"/>
<text x="48" y="398.9" font-size="7.95" text-anchor="end" fill="#1c1c1c">140,000</text>
<line x1="50.5" y1="380.8" x2="52.5" y2="380.8" stroke="#777" stroke-width="0.8"/>
<text x="48" y="383.6" font-size="7.95" text-anchor="end" fill="#1c1c1c">160,000</text>
<line x1="72.8" y1="503.5" x2="72.8" y2="505.5" stroke="#888" stroke-width="0.8"/>
<text x="72.8" y="514.1" font-size="7.9" text-anchor="middle" fill="#1c1c1c">05 January 2005</text>
<line x1="173.5" y1="503.5" x2="173.5" y2="505.5" stroke="#888" stroke-width="0.8"/>
<text x="173.5" y="514.1" font-size="7.9" text-anchor="middle" fill="#1c1c1c">05 April 2005</text>
<line x1="274.2" y1="503.5" x2="274.2" y2="505.5" stroke="#888" stroke-width="0.8"/>
<text x="274.2" y="514.1" font-size="7.9" text-anchor="middle" fill="#1c1c1c">04 July 2005</text>
<line x1="374.9" y1="503.5" x2="374.9" y2="505.5" stroke="#888" stroke-width="0.8"/>
<text x="374.9" y="514.1" font-size="7.9" text-anchor="middle" fill="#1c1c1c">02 October 2005</text>
<line x1="475.6" y1="503.5" x2="475.6" y2="505.5" stroke="#888" stroke-width="0.8"/>
<text x="475.6" y="514.1" font-size="7.9" text-anchor="middle" fill="#1c1c1c">31 December 2005</text>
<text x="274.7" y="524.1" font-size="7.6" text-anchor="middle" fill="#1c1c1c">Time</text>
<text transform="translate(14.6,459.2) rotate(-90)" x="0" font-size="7.18" fill="#1c1c1c" >Runoff(</text>
<text transform="translate(14.6,459.2) rotate(-90)" x="25.67" font-size="7.18" fill="#1c1c1c" style="font-family:Liberation Serif;font-style:italic">m</text>
<text transform="translate(14.6,459.2) rotate(-90)" x="33.13" y="-3.96" font-size="4.78" fill="#1c1c1c">3</text>
<text transform="translate(14.6,459.2) rotate(-90)" x="35.33" font-size="7.18" fill="#1c1c1c" >/</text>
<text transform="translate(14.6,459.2) rotate(-90)" x="39.38" font-size="7.18" fill="#1c1c1c" style="font-family:Liberation Serif;font-style:italic">s</text>
<text transform="translate(14.6,459.2) rotate(-90)" x="42.6" font-size="7.18" fill="#1c1c1c" >)</text>
<rect x="279.9" y="376" width="15.4" height="5.3" fill="#a8c4e4"/>
<rect x="279.9" y="383.9" width="15.4" height="5.3" fill="#3289f0"/>
<rect x="393.3" y="376" width="15.4" height="5.3" fill="#1b62e4"/>
<path d="M394.2 386.55h3.2M395.8 384.95v3.2" stroke="#fa1428" stroke-width="1.2"/>
<path d="M399.4 386.55h3.2M401 384.95v3.2" stroke="#fa1428" stroke-width="1.2"/>
<path d="M404.7 386.55h3.2M406.3 384.95v3.2" stroke="#fa1428" stroke-width="1.2"/>
<text x="300.5" y="381.5" font-size="7.4" fill="#1c1c1c">90% confidence interval</text>
<text x="300.5" y="389.4" font-size="7.4" fill="#1c1c1c">85% confidence interval</text>
<text x="414.2" y="381.5" font-size="7.4" fill="#1c1c1c">80% confidence interval</text>
<text x="414.2" y="389.4" font-size="7.4" fill="#1c1c1c">Observed</text>
<text transform="translate(258.9,543.6) scale(0.92,1)" font-size="12" style="font-family:Liberation Serif;font-weight:bold" text-anchor="middle" fill="#111">(c)</text>
</svg>
</body></html>
